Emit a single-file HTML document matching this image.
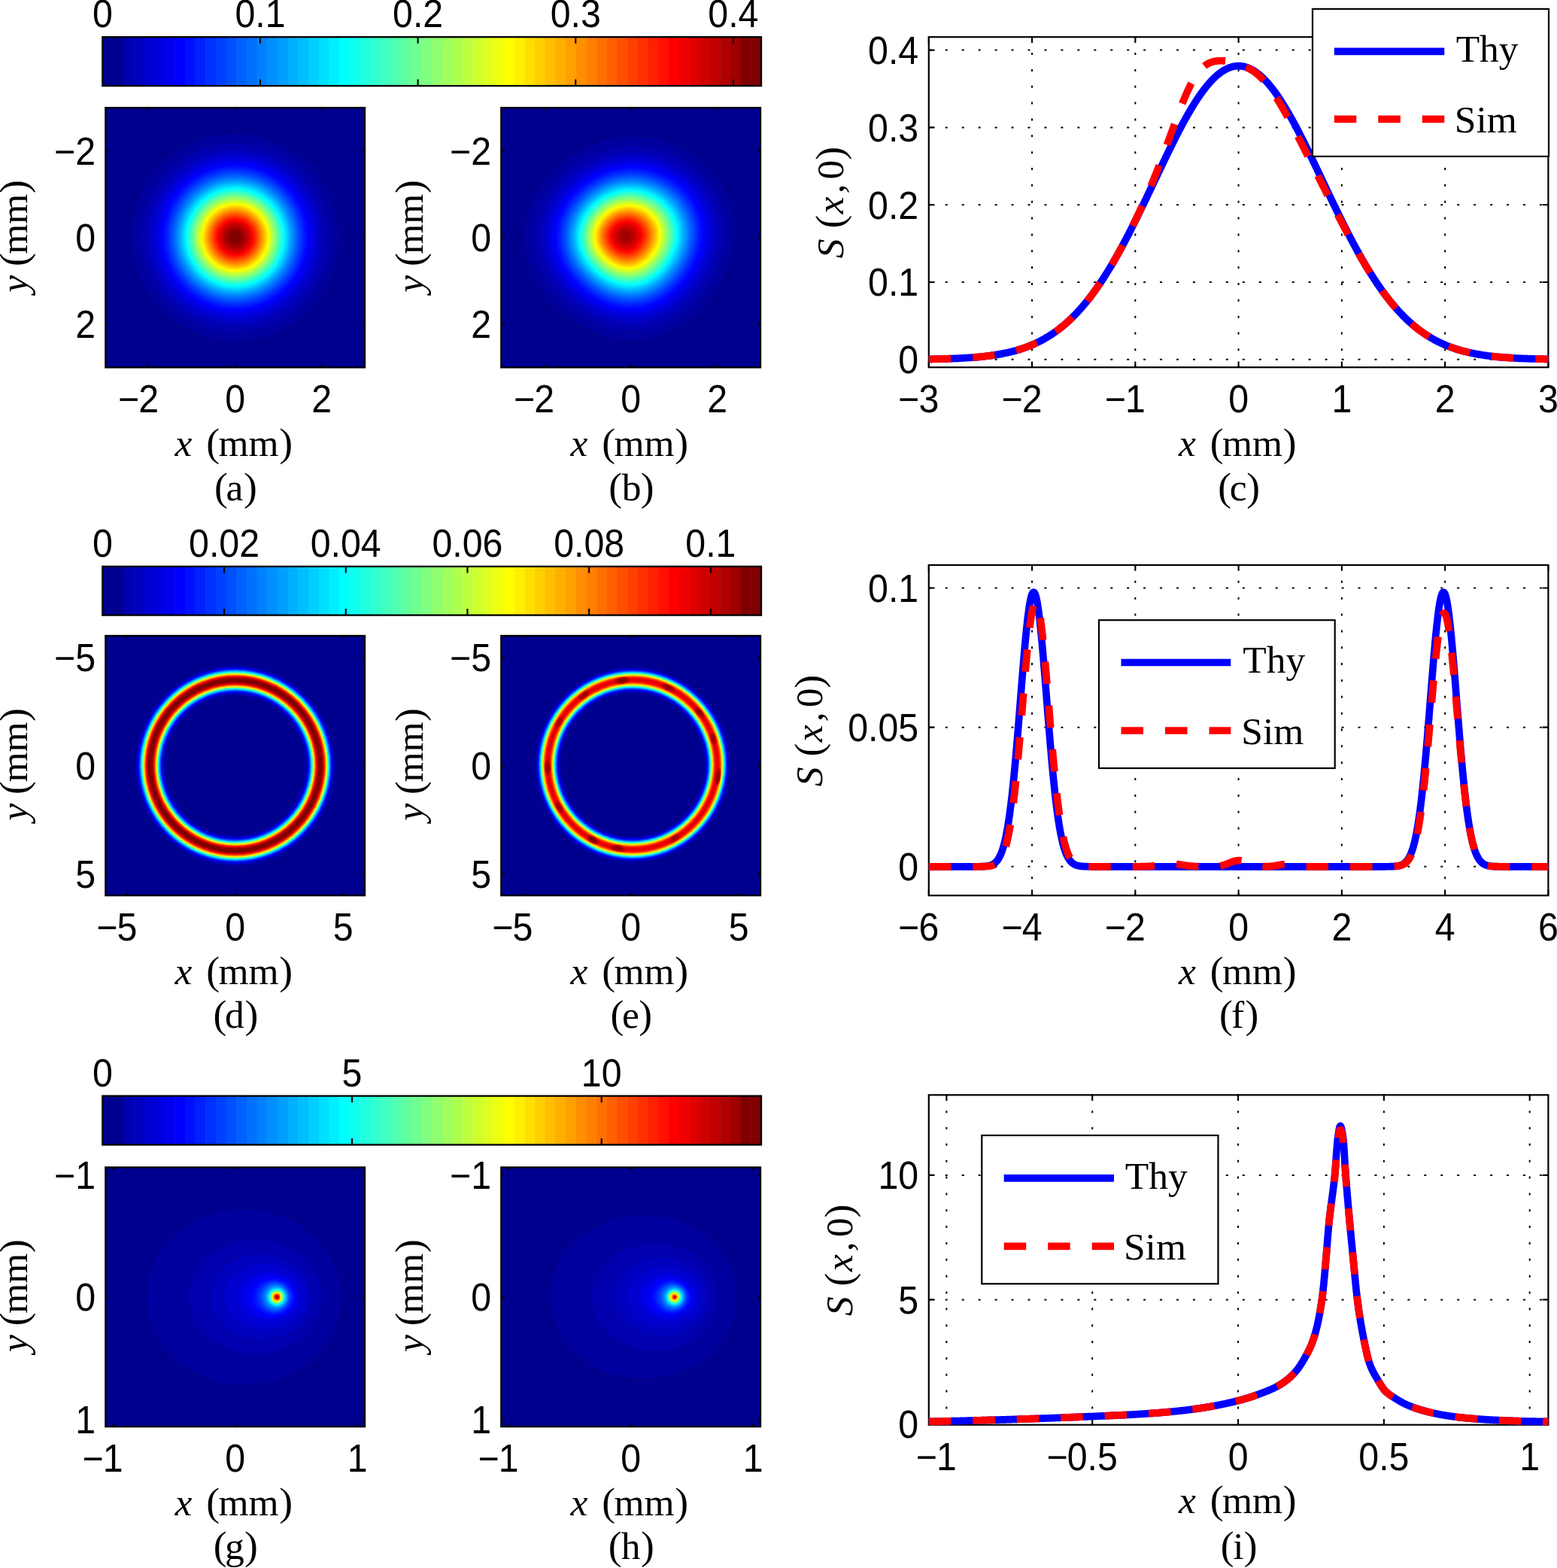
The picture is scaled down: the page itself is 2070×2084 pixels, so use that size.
<!DOCTYPE html><html><head><meta charset="utf-8"><title>Figure</title><style>html,body{margin:0;padding:0;background:#fff;overflow:hidden;width:2070px;height:2084px;}svg{display:block;}</style></head><body><svg width="2070" height="2084" viewBox="0 0 2070 2084"><rect width="2070" height="2084" fill="#fff"/><g><rect x="136.3" y="49.2" width="14.28" height="64.9" fill="#00008f"/><rect x="149.98" y="49.2" width="14.28" height="64.9" fill="#00008f"/><rect x="163.67" y="49.2" width="14.28" height="64.9" fill="#0000af"/><rect x="177.35" y="49.2" width="14.28" height="64.9" fill="#0000bf"/><rect x="191.03" y="49.2" width="14.28" height="64.9" fill="#0000cf"/><rect x="204.71" y="49.2" width="14.28" height="64.9" fill="#0000df"/><rect x="218.4" y="49.2" width="14.28" height="64.9" fill="#0000ef"/><rect x="232.08" y="49.2" width="14.28" height="64.9" fill="#0000ff"/><rect x="245.76" y="49.2" width="14.28" height="64.9" fill="#0010ff"/><rect x="259.45" y="49.2" width="14.28" height="64.9" fill="#0020ff"/><rect x="273.13" y="49.2" width="14.28" height="64.9" fill="#0030ff"/><rect x="286.81" y="49.2" width="14.28" height="64.9" fill="#0040ff"/><rect x="300.49" y="49.2" width="14.28" height="64.9" fill="#0050ff"/><rect x="314.18" y="49.2" width="14.28" height="64.9" fill="#0060ff"/><rect x="327.86" y="49.2" width="14.28" height="64.9" fill="#0070ff"/><rect x="341.54" y="49.2" width="14.28" height="64.9" fill="#0080ff"/><rect x="355.23" y="49.2" width="14.28" height="64.9" fill="#008fff"/><rect x="368.91" y="49.2" width="14.28" height="64.9" fill="#009fff"/><rect x="382.59" y="49.2" width="14.28" height="64.9" fill="#00afff"/><rect x="396.27" y="49.2" width="14.28" height="64.9" fill="#00bfff"/><rect x="409.96" y="49.2" width="14.28" height="64.9" fill="#00cfff"/><rect x="423.64" y="49.2" width="14.28" height="64.9" fill="#00dfff"/><rect x="437.32" y="49.2" width="14.28" height="64.9" fill="#00efff"/><rect x="451" y="49.2" width="14.28" height="64.9" fill="#00ffff"/><rect x="464.69" y="49.2" width="14.28" height="64.9" fill="#10ffef"/><rect x="478.37" y="49.2" width="14.28" height="64.9" fill="#20ffdf"/><rect x="492.05" y="49.2" width="14.28" height="64.9" fill="#30ffcf"/><rect x="505.74" y="49.2" width="14.28" height="64.9" fill="#40ffbf"/><rect x="519.42" y="49.2" width="14.28" height="64.9" fill="#50ffaf"/><rect x="533.1" y="49.2" width="14.28" height="64.9" fill="#60ff9f"/><rect x="546.78" y="49.2" width="14.28" height="64.9" fill="#70ff8f"/><rect x="560.47" y="49.2" width="14.28" height="64.9" fill="#80ff80"/><rect x="574.15" y="49.2" width="14.28" height="64.9" fill="#8fff70"/><rect x="587.83" y="49.2" width="14.28" height="64.9" fill="#9fff60"/><rect x="601.52" y="49.2" width="14.28" height="64.9" fill="#afff50"/><rect x="615.2" y="49.2" width="14.28" height="64.9" fill="#bfff40"/><rect x="628.88" y="49.2" width="14.28" height="64.9" fill="#cfff30"/><rect x="642.56" y="49.2" width="14.28" height="64.9" fill="#dfff20"/><rect x="656.25" y="49.2" width="14.28" height="64.9" fill="#efff10"/><rect x="669.93" y="49.2" width="14.28" height="64.9" fill="#ffff00"/><rect x="683.61" y="49.2" width="14.28" height="64.9" fill="#ffef00"/><rect x="697.3" y="49.2" width="14.28" height="64.9" fill="#ffdf00"/><rect x="710.98" y="49.2" width="14.28" height="64.9" fill="#ffcf00"/><rect x="724.66" y="49.2" width="14.28" height="64.9" fill="#ffbf00"/><rect x="738.34" y="49.2" width="14.28" height="64.9" fill="#ffaf00"/><rect x="752.03" y="49.2" width="14.28" height="64.9" fill="#ff9f00"/><rect x="765.71" y="49.2" width="14.28" height="64.9" fill="#ff8f00"/><rect x="779.39" y="49.2" width="14.28" height="64.9" fill="#ff8000"/><rect x="793.08" y="49.2" width="14.28" height="64.9" fill="#ff7000"/><rect x="806.76" y="49.2" width="14.28" height="64.9" fill="#ff6000"/><rect x="820.44" y="49.2" width="14.28" height="64.9" fill="#ff5000"/><rect x="834.12" y="49.2" width="14.28" height="64.9" fill="#ff4000"/><rect x="847.81" y="49.2" width="14.28" height="64.9" fill="#ff3000"/><rect x="861.49" y="49.2" width="14.28" height="64.9" fill="#ff2000"/><rect x="875.17" y="49.2" width="14.28" height="64.9" fill="#ff1000"/><rect x="888.85" y="49.2" width="14.28" height="64.9" fill="#ff0000"/><rect x="902.54" y="49.2" width="14.28" height="64.9" fill="#ef0000"/><rect x="916.22" y="49.2" width="14.28" height="64.9" fill="#df0000"/><rect x="929.9" y="49.2" width="14.28" height="64.9" fill="#cf0000"/><rect x="943.59" y="49.2" width="14.28" height="64.9" fill="#bf0000"/><rect x="957.27" y="49.2" width="14.28" height="64.9" fill="#af0000"/><rect x="970.95" y="49.2" width="14.28" height="64.9" fill="#9f0000"/><rect x="984.63" y="49.2" width="14.28" height="64.9" fill="#800000"/><rect x="998.32" y="49.2" width="13.68" height="64.9" fill="#800000"/><path d="M345.95 49.2v8.6M345.95 114.1v-8.6" stroke="#000" stroke-width="2.1"/><path d="M555.6 49.2v8.6M555.6 114.1v-8.6" stroke="#000" stroke-width="2.1"/><path d="M765.24 49.2v8.6M765.24 114.1v-8.6" stroke="#000" stroke-width="2.1"/><path d="M974.89 49.2v8.6M974.89 114.1v-8.6" stroke="#000" stroke-width="2.1"/><rect x="136.3" y="49.2" width="875.7" height="64.9" fill="none" stroke="#000" stroke-width="2.3"/><g font-family="'Liberation Sans', Arial, Helvetica, sans-serif" font-size="48.3"><text transform="translate(136.3 35.5) scale(1 1.055)" text-anchor="middle">0</text><text transform="translate(345.95 35.5) scale(1 1.055)" text-anchor="middle">0.1</text><text transform="translate(555.6 35.5) scale(1 1.055)" text-anchor="middle">0.2</text><text transform="translate(765.24 35.5) scale(1 1.055)" text-anchor="middle">0.3</text><text transform="translate(974.89 35.5) scale(1 1.055)" text-anchor="middle">0.4</text></g></g><clipPath id="c1"><rect x="140.3" y="143.15" width="344.7" height="345.2"/></clipPath><g clip-path="url(#c1)"><rect x="140.3" y="143.15" width="344.7" height="345.2" fill="#00008f"/><circle cx="312.65" cy="315.5" r="137.34" fill="#00009f"/><circle cx="312.65" cy="315.5" r="124.78" fill="#0000af"/><circle cx="312.65" cy="315.5" r="116.87" fill="#0000bf"/><circle cx="312.65" cy="315.5" r="110.96" fill="#0000cf"/><circle cx="312.65" cy="315.5" r="106.16" fill="#0000df"/><circle cx="312.65" cy="315.5" r="102.09" fill="#0000ef"/><circle cx="312.65" cy="315.5" r="98.54" fill="#0000ff"/><circle cx="312.65" cy="315.5" r="95.37" fill="#0010ff"/><circle cx="312.65" cy="315.5" r="92.49" fill="#0020ff"/><circle cx="312.65" cy="315.5" r="89.84" fill="#0030ff"/><circle cx="312.65" cy="315.5" r="87.38" fill="#0040ff"/><circle cx="312.65" cy="315.5" r="85.08" fill="#0050ff"/><circle cx="312.65" cy="315.5" r="82.91" fill="#0060ff"/><circle cx="312.65" cy="315.5" r="80.85" fill="#0070ff"/><circle cx="312.65" cy="315.5" r="78.9" fill="#0080ff"/><circle cx="312.65" cy="315.5" r="77.04" fill="#008fff"/><circle cx="312.65" cy="315.5" r="75.24" fill="#009fff"/><circle cx="312.65" cy="315.5" r="73.52" fill="#00afff"/><circle cx="312.65" cy="315.5" r="71.86" fill="#00bfff"/><circle cx="312.65" cy="315.5" r="70.24" fill="#00cfff"/><circle cx="312.65" cy="315.5" r="68.68" fill="#00dfff"/><circle cx="312.65" cy="315.5" r="67.15" fill="#00efff"/><circle cx="312.65" cy="315.5" r="65.67" fill="#00ffff"/><circle cx="312.65" cy="315.5" r="64.22" fill="#10ffef"/><circle cx="312.65" cy="315.5" r="62.8" fill="#20ffdf"/><circle cx="312.65" cy="315.5" r="61.4" fill="#30ffcf"/><circle cx="312.65" cy="315.5" r="60.03" fill="#40ffbf"/><circle cx="312.65" cy="315.5" r="58.69" fill="#50ffaf"/><circle cx="312.65" cy="315.5" r="57.37" fill="#60ff9f"/><circle cx="312.65" cy="315.5" r="56.06" fill="#70ff8f"/><circle cx="312.65" cy="315.5" r="54.77" fill="#80ff80"/><circle cx="312.65" cy="315.5" r="53.49" fill="#8fff70"/><circle cx="312.65" cy="315.5" r="52.23" fill="#9fff60"/><circle cx="312.65" cy="315.5" r="50.98" fill="#afff50"/><circle cx="312.65" cy="315.5" r="49.74" fill="#bfff40"/><circle cx="312.65" cy="315.5" r="48.5" fill="#cfff30"/><circle cx="312.65" cy="315.5" r="47.27" fill="#dfff20"/><circle cx="312.65" cy="315.5" r="46.04" fill="#efff10"/><circle cx="312.65" cy="315.5" r="44.83" fill="#ffff00"/><circle cx="312.65" cy="315.5" r="43.6" fill="#ffef00"/><circle cx="312.65" cy="315.5" r="42.39" fill="#ffdf00"/><circle cx="312.65" cy="315.5" r="41.16" fill="#ffcf00"/><circle cx="312.65" cy="315.5" r="39.93" fill="#ffbf00"/><circle cx="312.65" cy="315.5" r="38.7" fill="#ffaf00"/><circle cx="312.65" cy="315.5" r="37.46" fill="#ff9f00"/><circle cx="312.65" cy="315.5" r="36.21" fill="#ff8f00"/><circle cx="312.65" cy="315.5" r="34.95" fill="#ff8000"/><circle cx="312.65" cy="315.5" r="33.67" fill="#ff7000"/><circle cx="312.65" cy="315.5" r="32.38" fill="#ff6000"/><circle cx="312.65" cy="315.5" r="31.07" fill="#ff5000"/><circle cx="312.65" cy="315.5" r="29.73" fill="#ff4000"/><circle cx="312.65" cy="315.5" r="28.36" fill="#ff3000"/><circle cx="312.65" cy="315.5" r="26.96" fill="#ff2000"/><circle cx="312.65" cy="315.5" r="25.53" fill="#ff1000"/><circle cx="312.65" cy="315.5" r="24.03" fill="#ff0000"/><circle cx="312.65" cy="315.5" r="22.49" fill="#ef0000"/><circle cx="312.65" cy="315.5" r="20.86" fill="#df0000"/><circle cx="312.65" cy="315.5" r="19.16" fill="#cf0000"/><circle cx="312.65" cy="315.5" r="17.32" fill="#bf0000"/><circle cx="312.65" cy="315.5" r="15.34" fill="#af0000"/><circle cx="312.65" cy="315.5" r="13.13" fill="#9f0000"/><circle cx="312.65" cy="315.5" r="10.56" fill="#8f0000"/><circle cx="312.65" cy="315.5" r="7.3" fill="#800000"/></g><path d="M197.75 143.15v3.3M197.75 488.35v-3.3M140.3 200.68h3.3M485 200.68h-3.3M312.65 143.15v3.3M312.65 488.35v-3.3M140.3 315.75h3.3M485 315.75h-3.3M427.55 143.15v3.3M427.55 488.35v-3.3M140.3 430.82h3.3M485 430.82h-3.3" stroke="#000" stroke-width="2.1"/><rect x="140.3" y="143.15" width="344.7" height="345.2" fill="none" stroke="#000" stroke-width="2.3"/><g font-family="'Liberation Sans', Arial, Helvetica, sans-serif" font-size="48.3"><text transform="translate(197.75 548.25) scale(1 1.055)" text-anchor="middle">2</text><text transform="translate(185.52 548.25) scale(1 1.055)" text-anchor="end">&#8722;</text><text transform="translate(127.2 218.98) scale(1 1.055)" text-anchor="end">&#8722;2</text><text transform="translate(312.65 548.25) scale(1 1.055)" text-anchor="middle">0</text><text transform="translate(127.2 334.05) scale(1 1.055)" text-anchor="end">0</text><text transform="translate(427.55 548.25) scale(1 1.055)" text-anchor="middle">2</text><text transform="translate(127.2 449.12) scale(1 1.055)" text-anchor="end">2</text></g><g font-family="'Liberation Serif', 'Times New Roman', serif" class="cm"><text x="232.58" y="605.95" font-size="51.5" font-style="italic">x</text><text x="274.2" y="605.95" font-size="53.5">(</text><text x="290.57" y="605.95" font-size="51.5">mm</text><text x="371.23" y="605.95" font-size="53.5">)</text></g><g font-family="'Liberation Serif', 'Times New Roman', serif" class="cm" transform="translate(36.3 393.15) rotate(-90)"><text x="4.3" y="0" font-size="51.5" font-style="italic">y</text><text x="39.05" y="0" font-size="53.5">(</text><text x="55.42" y="0" font-size="51.5">mm</text><text x="136.08" y="0" font-size="53.5">)</text></g><clipPath id="c2"><rect x="666.3" y="143.15" width="344.7" height="345.2"/></clipPath><g clip-path="url(#c2)"><rect x="666.3" y="143.15" width="344.7" height="345.2" fill="#00008f"/><path d="M976.07 315.47L973.4 333.23L968.39 350.27L961.45 366.38L952.92 381.51L943.03 395.65L931.85 408.78L919.36 420.79L905.48 431.41L890.23 440.26L873.76 446.9L856.38 450.96L838.54 452.23L820.74 450.72L803.4 446.62L786.84 440.29L771.22 432.07L756.6 422.26L743.01 411L730.55 398.34L719.45 384.23L710.08 368.68L702.9 351.82L698.37 333.93L696.79 315.47L698.3 297.01L702.79 279.1L709.95 262.21L719.36 246.66L730.59 232.64L743.27 220.2L757.12 209.36L771.96 200.16L787.68 192.67L804.13 187.04L821.16 183.42L838.54 181.94L856.03 182.65L873.35 185.57L890.25 190.64L906.49 197.79L921.81 206.95L935.94 218.07L948.54 231.07L959.21 245.81L967.55 262.03L973.25 279.38L976.09 297.36Z" fill="#00009f"/><path d="M963.26 315.45L960.83 331.56L956.29 347.02L949.99 361.65L942.25 375.38L933.27 388.21L923.12 400.14L911.78 411.03L899.19 420.67L885.35 428.7L870.4 434.73L854.62 438.41L838.43 439.57L822.27 438.19L806.54 434.48L791.51 428.73L777.34 421.27L764.07 412.37L751.73 402.15L740.42 390.66L730.34 377.85L721.84 363.74L715.33 348.43L711.21 332.2L709.78 315.45L711.15 298.69L715.22 282.43L721.72 267.1L730.26 252.99L740.46 240.27L751.96 228.97L764.53 219.14L778.01 210.78L792.27 203.99L807.2 198.88L822.66 195.59L838.43 194.25L854.31 194.9L870.03 197.55L885.36 202.15L900.1 208.64L914.01 216.95L926.84 227.04L938.27 238.84L947.95 252.22L955.53 266.94L960.69 282.69L963.27 299.01Z" fill="#0000af"/><path d="M955.15 315.42L952.87 330.5L948.62 344.97L942.72 358.66L935.48 371.51L927.08 383.52L917.58 394.68L906.97 404.88L895.18 413.9L882.23 421.41L868.24 427.05L853.48 430.5L838.33 431.58L823.2 430.3L808.48 426.82L794.41 421.44L781.15 414.46L768.73 406.12L757.18 396.56L746.6 385.81L737.17 373.82L729.21 360.62L723.11 346.29L719.26 331.09L717.92 315.42L719.21 299.74L723.02 284.52L729.1 270.18L737.09 256.97L746.63 245.06L757.4 234.49L769.17 225.29L781.77 217.47L795.12 211.11L809.1 206.33L823.56 203.25L838.33 201.99L853.18 202.6L867.89 205.08L882.25 209.39L896.04 215.46L909.06 223.24L921.06 232.69L931.76 243.73L940.82 256.24L947.91 270.03L952.75 284.76L955.16 300.04Z" fill="#0000bf"/><path d="M949.05 315.39L946.89 329.7L942.85 343.43L937.26 356.42L930.39 368.61L922.42 380L913.41 390.58L903.34 400.26L892.16 408.82L879.87 415.95L866.6 421.3L852.59 424.57L838.22 425.59L823.87 424.37L809.9 421.08L796.56 415.97L783.97 409.35L772.19 401.44L761.24 392.37L751.19 382.17L742.25 370.8L734.7 358.27L728.92 344.68L725.26 330.26L723.99 315.39L725.21 300.51L728.83 286.08L734.59 272.47L742.18 259.94L751.23 248.64L761.45 238.62L772.61 229.88L784.57 222.47L797.23 216.43L810.49 211.9L824.21 208.98L838.22 207.78L852.31 208.36L866.27 210.72L879.89 214.8L892.97 220.56L905.32 227.95L916.71 236.9L926.86 247.38L935.45 259.25L942.18 272.33L946.77 286.31L949.06 300.8Z" fill="#0000cf"/><path d="M944.08 315.37L942.02 329.04L938.16 342.17L932.81 354.59L926.24 366.25L918.62 377.14L910.01 387.26L900.38 396.51L889.69 404.7L877.94 411.51L865.24 416.63L851.85 419.76L838.11 420.74L824.39 419.57L811.03 416.42L798.28 411.54L786.24 405.21L774.98 397.64L764.5 388.97L754.9 379.22L746.35 368.35L739.13 356.37L733.6 343.37L730.1 329.58L728.89 315.37L730.06 301.14L733.51 287.34L739.03 274.32L746.28 262.35L754.94 251.54L764.7 241.96L775.37 233.6L786.81 226.51L798.92 220.74L811.6 216.41L824.72 213.62L838.11 212.47L851.58 213.03L864.93 215.28L877.95 219.18L890.46 224.69L902.27 231.75L913.16 240.32L922.86 250.33L931.09 261.69L937.52 274.19L941.9 287.55L944.09 301.41Z" fill="#0000df"/><path d="M939.86 315.34L937.88 328.49L934.17 341.11L929.03 353.04L922.71 364.24L915.39 374.72L907.11 384.44L897.85 393.34L887.58 401.2L876.28 407.75L864.08 412.67L851.21 415.68L838 416.62L824.82 415.5L811.98 412.47L799.71 407.78L788.15 401.69L777.32 394.42L767.25 386.09L758.02 376.71L749.8 366.26L742.86 354.75L737.55 342.26L734.19 329.01L733.02 315.34L734.14 301.66L737.47 288.4L742.77 275.89L749.74 264.38L758.06 253.99L767.44 244.78L777.7 236.75L788.7 229.93L800.33 224.39L812.52 220.22L825.13 217.54L838 216.44L850.95 216.97L863.78 219.14L876.3 222.89L888.32 228.18L899.67 234.97L910.14 243.2L919.47 252.83L927.37 263.74L933.55 275.76L937.77 288.61L939.87 301.93Z" fill="#0000ef"/><path d="M936.15 315.31L934.23 327.99L930.66 340.17L925.7 351.68L919.61 362.49L912.54 372.59L904.56 381.97L895.63 390.55L885.72 398.14L874.82 404.46L863.05 409.2L850.64 412.1L837.9 413.01L825.18 411.93L812.79 409.01L800.96 404.48L789.8 398.61L779.36 391.6L769.65 383.56L760.75 374.51L752.81 364.43L746.12 353.33L741 341.28L737.75 328.5L736.63 315.31L737.71 302.12L740.92 289.33L746.03 277.26L752.75 266.15L760.78 256.14L769.83 247.25L779.73 239.51L790.33 232.93L801.56 227.58L813.31 223.56L825.48 220.97L837.9 219.91L850.39 220.43L862.76 222.51L874.83 226.13L886.43 231.24L897.38 237.79L907.48 245.73L916.48 255.01L924.1 265.54L930.06 277.14L934.13 289.53L936.16 302.38Z" fill="#0000ff"/><path d="M932.81 315.28L930.96 327.55L927.51 339.32L922.71 350.46L916.82 360.91L909.98 370.68L902.26 379.76L893.63 388.05L884.04 395.39L873.5 401.5L862.12 406.09L850.11 408.9L837.79 409.77L825.49 408.73L813.51 405.9L802.07 401.53L791.28 395.85L781.17 389.07L771.78 381.29L763.17 372.54L755.5 362.79L749.03 352.05L744.07 340.4L740.93 328.04L739.85 315.28L740.89 302.53L743.99 290.15L748.94 278.48L755.44 267.74L763.2 258.05L771.96 249.46L781.53 241.97L791.79 235.61L802.64 230.43L814.01 226.55L825.78 224.04L837.79 223.02L849.87 223.51L861.84 225.53L873.51 229.03L884.73 233.97L895.32 240.3L905.09 247.99L913.79 256.97L921.16 267.15L926.93 278.36L930.86 290.35L932.82 302.77Z" fill="#0010ff"/><path d="M929.78 315.26L927.99 327.15L924.64 338.56L919.99 349.35L914.28 359.48L907.65 368.95L900.17 377.74L891.8 385.79L882.51 392.9L872.29 398.82L861.26 403.27L849.63 405.99L837.68 406.84L825.76 405.83L814.15 403.09L803.06 398.84L792.6 393.34L782.81 386.77L773.71 379.23L765.36 370.75L757.92 361.3L751.65 350.89L746.85 339.6L743.81 327.62L742.75 315.26L743.77 302.89L746.77 290.9L751.56 279.59L757.87 269.18L765.39 259.79L773.88 251.46L783.15 244.2L793.09 238.03L803.62 233.02L814.63 229.25L826.04 226.83L837.68 225.83L849.39 226.31L860.99 228.27L872.31 231.66L883.18 236.45L893.44 242.59L902.91 250.03L911.34 258.74L918.49 268.6L924.08 279.47L927.89 291.09L929.79 303.13Z" fill="#0020ff"/><path d="M926.98 315.23L925.24 326.77L921.99 337.85L917.48 348.33L911.93 358.16L905.5 367.35L898.23 375.89L890.11 383.7L881.09 390.6L871.18 396.35L860.47 400.67L849.17 403.31L837.57 404.14L826 403.15L814.73 400.49L803.96 396.38L793.81 391.03L784.3 384.65L775.47 377.34L767.36 369.1L760.15 359.93L754.06 349.82L749.39 338.86L746.44 327.23L745.42 315.23L746.4 303.23L749.32 291.58L753.97 280.6L760.09 270.5L767.39 261.38L775.63 253.29L784.64 246.25L794.29 240.26L804.5 235.39L815.2 231.74L826.27 229.38L837.57 228.42L848.94 228.88L860.2 230.78L871.19 234.08L881.74 238.72L891.71 244.68L900.89 251.91L909.08 260.36L916.02 269.94L921.45 280.49L925.15 291.77L926.99 303.46Z" fill="#0030ff"/><path d="M924.37 315.2L922.68 326.42L919.51 337.19L915.13 347.37L909.74 356.93L903.49 365.87L896.43 374.16L888.53 381.75L879.76 388.46L870.13 394.05L859.72 398.25L848.74 400.81L837.47 401.62L826.21 400.66L815.26 398.08L804.8 394.07L794.93 388.88L785.69 382.68L777.1 375.57L769.23 367.57L762.21 358.65L756.29 348.83L751.76 338.17L748.89 326.86L747.9 315.2L748.85 303.54L751.69 292.22L756.21 281.55L762.16 271.72L769.25 262.86L777.26 255L786.02 248.15L795.4 242.34L805.32 237.61L815.72 234.05L826.48 231.76L837.47 230.82L848.51 231.28L859.46 233.12L870.14 236.33L880.4 240.84L890.08 246.63L899.01 253.66L906.97 261.87L913.71 271.18L918.99 281.44L922.58 292.4L924.38 303.76Z" fill="#0040ff"/><path d="M921.92 315.18L920.28 326.09L917.2 336.57L912.93 346.48L907.69 355.78L901.6 364.48L894.73 372.55L887.05 379.94L878.52 386.47L869.14 391.91L859.01 395.99L848.32 398.48L837.36 399.27L826.41 398.34L815.75 395.82L805.57 391.92L795.96 386.87L786.97 380.84L778.62 373.92L770.95 366.13L764.13 357.46L758.37 347.9L753.95 337.52L751.16 326.52L750.2 315.18L751.13 303.82L753.88 292.81L758.29 282.42L764.07 272.87L770.98 264.24L778.78 256.59L787.29 249.93L796.42 244.27L806.08 239.67L816.2 236.21L826.67 233.98L837.36 233.07L848.11 233.51L858.76 235.3L869.15 238.42L879.13 242.82L888.56 248.45L897.25 255.29L904.99 263.28L911.55 272.34L916.69 282.32L920.19 292.98L921.93 304.04Z" fill="#0050ff"/><path d="M919.62 315.15L918.02 325.78L915.02 335.99L910.86 345.64L905.75 354.7L899.83 363.17L893.14 371.04L885.65 378.23L877.34 384.59L868.21 389.89L858.34 393.86L847.93 396.3L837.25 397.06L826.59 396.15L816.2 393.7L806.28 389.91L796.93 384.98L788.17 379.11L780.03 372.37L772.57 364.78L765.92 356.33L760.31 347.02L756.01 336.92L753.29 326.2L752.35 315.15L753.26 304.09L755.94 293.36L760.23 283.25L765.87 273.94L772.59 265.54L780.19 258.09L788.48 251.6L797.37 246.08L806.78 241.6L816.64 238.23L826.84 236.06L837.25 235.17L847.72 235.6L858.1 237.35L868.22 240.38L877.94 244.67L887.12 250.15L895.59 256.81L903.13 264.6L909.52 273.42L914.52 283.14L917.93 293.53L919.63 304.3Z" fill="#0060ff"/><path d="M917.43 315.12L915.86 325.49L912.94 335.43L908.89 344.84L903.91 353.67L898.14 361.92L891.61 369.59L884.32 376.6L876.22 382.8L867.31 387.97L857.7 391.84L847.55 394.21L837.14 394.95L826.75 394.07L816.63 391.68L806.96 387.98L797.85 383.19L789.31 377.46L781.38 370.89L774.1 363.5L767.62 355.26L762.15 346.19L757.96 336.34L755.31 325.9L754.4 315.12L755.28 304.35L757.9 293.89L762.08 284.03L767.57 274.96L774.13 266.77L781.53 259.51L789.61 253.18L798.28 247.81L807.45 243.44L817.05 240.15L826.99 238.04L837.14 237.17L847.35 237.59L857.46 239.29L867.33 242.25L876.8 246.43L885.75 251.78L894 258.27L901.35 265.85L907.58 274.46L912.45 283.93L915.77 294.05L917.43 304.55Z" fill="#0070ff"/><path d="M915.32 315.1L913.79 325.2L910.95 334.9L906.99 344.07L902.14 352.68L896.51 360.73L890.15 368.21L883.03 375.05L875.14 381.09L866.46 386.13L857.08 389.9L847.19 392.22L837.03 392.94L826.9 392.08L817.03 389.75L807.61 386.14L798.72 381.47L790.39 375.88L782.66 369.47L775.56 362.27L769.24 354.24L763.91 345.39L759.83 335.78L757.24 325.6L756.35 315.1L757.21 304.59L759.76 294.39L763.84 284.78L769.19 275.93L775.59 267.95L782.8 260.86L790.69 254.69L799.14 249.46L808.08 245.19L817.45 241.99L827.14 239.93L837.03 239.08L846.99 239.49L856.85 241.16L866.47 244.04L875.71 248.11L884.43 253.33L892.48 259.65L899.65 267.05L905.72 275.44L910.47 284.68L913.71 294.55L915.33 304.79Z" fill="#0080ff"/><path d="M913.31 315.07L911.82 324.93L909.04 334.39L905.18 343.34L900.45 351.74L894.95 359.59L888.75 366.89L881.81 373.56L874.1 379.46L865.63 384.37L856.48 388.06L846.83 390.31L836.93 391.02L827.04 390.18L817.41 387.9L808.21 384.39L799.54 379.82L791.42 374.37L783.87 368.12L776.95 361.09L770.79 353.26L765.58 344.62L761.6 335.25L759.08 325.32L758.21 315.07L759.04 304.82L761.54 294.87L765.51 285.49L770.74 276.86L776.98 269.07L784.02 262.16L791.71 256.14L799.95 251.03L808.68 246.87L817.81 243.74L827.27 241.73L836.93 240.91L846.64 241.31L856.26 242.93L865.64 245.74L874.66 249.71L883.17 254.8L891.02 260.98L898.01 268.2L903.94 276.38L908.57 285.39L911.74 295.02L913.31 305.01Z" fill="#008fff"/><path d="M911.37 315.04L909.92 324.67L907.2 333.9L903.44 342.64L898.82 350.84L893.46 358.5L887.4 365.62L880.62 372.13L873.1 377.89L864.84 382.68L855.91 386.28L846.49 388.48L836.82 389.17L827.17 388.35L817.77 386.13L808.79 382.7L800.33 378.25L792.4 372.93L785.04 366.83L778.28 359.96L772.26 352.31L767.18 343.89L763.29 334.74L760.83 325.05L759.98 315.04L760.8 305.03L763.23 295.32L767.11 286.17L772.22 277.74L778.3 270.14L785.17 263.4L792.68 257.52L800.73 252.53L809.25 248.48L818.16 245.42L827.4 243.46L836.82 242.66L846.3 243.05L855.69 244.63L864.85 247.38L873.65 251.25L881.96 256.22L889.62 262.25L896.44 269.29L902.23 277.28L906.75 286.08L909.84 295.48L911.38 305.23Z" fill="#009fff"/><path d="M909.51 315.02L908.09 324.41L905.44 333.43L901.77 341.96L897.26 349.97L892.02 357.46L886.1 364.41L879.49 370.76L872.14 376.39L864.07 381.07L855.35 384.58L846.15 386.73L836.71 387.41L827.29 386.6L818.11 384.44L809.34 381.09L801.08 376.74L793.34 371.54L786.14 365.58L779.55 358.88L773.67 351.41L768.71 343.18L764.91 334.25L762.51 324.78L761.68 315.02L762.48 305.24L764.85 295.76L768.64 286.82L773.62 278.59L779.57 271.17L786.28 264.58L793.61 258.85L801.47 253.97L809.79 250.01L818.49 247.03L827.51 245.11L836.71 244.33L845.97 244.71L855.14 246.25L864.08 248.94L872.68 252.72L880.79 257.57L888.27 263.46L894.94 270.34L900.58 278.14L905 286.73L908.02 295.91L909.52 305.43Z" fill="#00afff"/><path d="M907.69 314.99L906.31 324.17L903.72 332.97L900.13 341.3L895.73 349.12L890.61 356.43L884.84 363.22L878.38 369.43L871.2 374.92L863.32 379.49L854.81 382.92L845.82 385.02L836.6 385.68L827.4 384.9L818.44 382.78L809.88 379.51L801.81 375.26L794.25 370.19L787.22 364.37L780.78 357.82L775.04 350.53L770.2 342.49L766.49 333.77L764.15 324.53L763.33 314.99L764.11 305.44L766.43 296.19L770.13 287.46L775 279.42L780.8 272.17L787.36 265.74L794.52 260.14L802.19 255.38L810.31 251.51L818.82 248.6L827.62 246.73L836.6 245.96L845.64 246.33L854.59 247.84L863.33 250.46L871.72 254.16L879.65 258.9L886.95 264.64L893.46 271.36L898.98 278.98L903.29 287.37L906.23 296.33L907.7 305.63Z" fill="#00bfff"/><path d="M905.94 314.96L904.59 323.93L902.06 332.53L898.56 340.67L894.25 348.31L889.25 355.44L883.61 362.08L877.3 368.14L870.29 373.5L862.59 377.97L854.28 381.32L845.5 383.37L836.5 384.01L827.51 383.25L818.75 381.18L810.39 377.99L802.5 373.84L795.12 368.88L788.26 363.2L781.97 356.8L776.36 349.68L771.63 341.83L768.01 333.31L765.72 324.28L764.92 314.96L765.68 305.64L767.95 296.59L771.56 288.07L776.32 280.22L781.99 273.14L788.39 266.85L795.38 261.38L802.88 256.73L810.81 252.95L819.12 250.11L827.72 248.28L836.5 247.53L845.32 247.9L854.07 249.37L862.6 251.93L870.8 255.54L878.54 260.17L885.68 265.78L892.04 272.34L897.42 279.78L901.64 287.98L904.51 296.74L905.95 305.82Z" fill="#00cfff"/><path d="M904.23 314.93L902.91 323.69L900.44 332.1L897.01 340.05L892.81 347.51L887.93 354.48L882.41 360.96L876.25 366.88L869.41 372.12L861.88 376.49L853.76 379.76L845.19 381.76L836.39 382.39L827.61 381.64L819.05 379.63L810.89 376.5L803.18 372.45L795.97 367.61L789.27 362.06L783.12 355.81L777.64 348.85L773.02 341.18L769.48 332.86L767.24 324.04L766.47 314.93L767.21 305.83L769.43 296.99L772.96 288.66L777.6 280.99L783.14 274.08L789.39 267.94L796.23 262.59L803.55 258.05L811.3 254.36L819.41 251.58L827.81 249.8L836.39 249.07L845.01 249.42L853.56 250.86L861.89 253.36L869.9 256.89L877.46 261.41L884.43 266.89L890.64 273.3L895.91 280.57L900.02 288.58L902.83 297.13L904.23 306Z" fill="#00dfff"/><path d="M902.56 314.91L901.27 323.46L898.86 331.68L895.52 339.44L891.41 346.73L886.64 353.55L881.25 359.88L875.23 365.67L868.54 370.79L861.19 375.05L853.25 378.25L844.88 380.2L836.28 380.82L827.7 380.09L819.34 378.12L811.36 375.06L803.84 371.1L796.79 366.37L790.24 360.95L784.23 354.85L778.88 348.05L774.37 340.55L770.91 332.42L768.72 323.8L767.96 314.91L768.69 306.01L770.85 297.38L774.3 289.24L778.84 281.74L784.25 274.99L790.36 268.99L797.04 263.77L804.19 259.33L811.76 255.72L819.69 253.01L827.9 251.26L836.28 250.55L844.71 250.89L853.06 252.3L861.2 254.74L869.03 258.19L876.41 262.61L883.22 267.96L889.29 274.23L894.44 281.33L898.46 289.15L901.2 297.51L902.57 306.18Z" fill="#00efff"/><path d="M900.93 314.88L899.67 323.24L897.31 331.26L894.04 338.85L890.03 345.97L885.37 352.63L880.11 358.82L874.22 364.47L867.69 369.47L860.51 373.64L852.75 376.76L844.57 378.67L836.17 379.27L827.79 378.56L819.63 376.63L811.83 373.65L804.48 369.78L797.59 365.16L791.19 359.86L785.32 353.9L780.1 347.26L775.68 339.94L772.31 331.99L770.17 323.57L769.43 314.88L770.14 306.19L772.25 297.75L775.62 289.8L780.06 282.48L785.34 275.88L791.31 270.02L797.83 264.92L804.82 260.58L812.22 257.06L819.97 254.41L827.99 252.7L836.17 252L844.41 252.34L852.56 253.72L860.52 256.1L868.16 259.47L875.38 263.78L882.03 269.02L887.96 275.14L892.99 282.08L896.92 289.72L899.6 297.89L900.94 306.35Z" fill="#00ffff"/><path d="M899.33 314.85L898.1 323.02L895.8 330.86L892.6 338.27L888.68 345.23L884.13 351.74L878.99 357.78L873.24 363.3L866.86 368.19L859.84 372.26L852.26 375.31L844.27 377.18L836.06 377.76L827.87 377.07L819.9 375.19L812.28 372.27L805.1 368.49L798.37 363.98L792.12 358.8L786.38 352.97L781.28 346.49L776.97 339.33L773.67 331.57L771.58 323.34L770.86 314.85L771.55 306.36L773.62 298.12L776.91 290.35L781.24 283.2L786.4 276.75L792.24 271.03L798.61 266.04L805.44 261.8L812.66 258.36L820.23 255.77L828.07 254.11L836.06 253.42L844.11 253.75L852.08 255.1L859.85 257.43L867.32 260.72L874.37 264.93L880.87 270.05L886.67 276.03L891.57 282.81L895.41 290.27L898.03 298.25L899.34 306.52Z" fill="#10ffef"/><path d="M897.78 314.83L896.57 322.81L894.32 330.47L891.2 337.71L887.37 344.51L882.92 350.86L877.9 356.77L872.28 362.17L866.04 366.94L859.19 370.92L851.79 373.9L843.97 375.72L835.96 376.3L827.95 375.62L820.16 373.78L812.72 370.93L805.7 367.24L799.13 362.83L793.02 357.77L787.41 352.07L782.42 345.73L778.21 338.74L774.99 331.16L772.95 323.12L772.24 314.83L772.92 306.53L774.94 298.48L778.16 290.88L782.39 283.9L787.43 277.59L793.13 272L799.36 267.13L806.03 262.99L813.09 259.63L820.49 257.1L828.14 255.47L835.96 254.8L843.82 255.13L851.6 256.44L859.2 258.72L866.5 261.93L873.39 266.05L879.74 271.05L885.4 276.89L890.19 283.51L893.95 290.81L896.5 298.6L897.78 306.69Z" fill="#20ffdf"/><path d="M896.23 314.8L895.06 322.59L892.86 330.08L889.81 337.15L886.07 343.79L881.72 350L876.82 355.77L871.33 361.04L865.24 365.7L858.54 369.59L851.31 372.5L843.68 374.28L835.85 374.84L828.03 374.18L820.42 372.38L813.15 369.6L806.29 365.99L799.87 361.68L793.91 356.74L788.44 351.18L783.56 344.99L779.45 338.16L776.3 330.76L774.31 322.9L773.62 314.8L774.28 306.69L776.25 298.83L779.39 291.41L783.52 284.59L788.45 278.43L794.02 272.97L800.1 268.21L806.62 264.17L813.52 260.88L820.74 258.41L828.22 256.82L835.85 256.17L843.53 256.49L851.13 257.77L858.55 259.99L865.68 263.13L872.41 267.16L878.61 272.04L884.14 277.74L888.83 284.21L892.49 291.34L894.99 298.95L896.24 306.85Z" fill="#30ffcf"/><path d="M894.73 314.77L893.58 322.39L891.43 329.69L888.45 336.61L884.8 343.09L880.55 349.16L875.76 354.79L870.4 359.94L864.45 364.5L857.91 368.29L850.84 371.14L843.39 372.88L835.74 373.42L828.11 372.78L820.67 371.02L813.57 368.3L806.87 364.78L800.6 360.57L794.77 355.74L789.42 350.31L784.66 344.26L780.65 337.59L777.57 330.36L775.62 322.69L774.95 314.77L775.6 306.85L777.52 299.17L780.59 291.93L784.63 285.26L789.44 279.25L794.88 273.91L800.82 269.26L807.19 265.31L813.93 262.1L820.98 259.69L828.29 258.14L835.74 257.5L843.24 257.81L850.67 259.06L857.92 261.24L864.88 264.3L871.45 268.23L877.51 273L882.92 278.57L887.49 284.89L891.07 291.85L893.51 299.29L894.73 307.01Z" fill="#40ffbf"/><path d="M893.23 314.75L892.11 322.18L890.02 329.32L887.11 336.07L883.54 342.4L879.39 348.32L874.71 353.83L869.48 358.86L863.67 363.3L857.28 367.01L850.38 369.79L843.1 371.49L835.63 372.02L828.18 371.39L820.92 369.67L813.98 367.02L807.44 363.58L801.32 359.47L795.62 354.76L790.4 349.45L785.75 343.54L781.83 337.03L778.83 329.97L776.93 322.48L776.27 314.75L776.9 307.01L778.78 299.51L781.78 292.44L785.72 285.93L790.42 280.05L795.73 274.84L801.53 270.3L807.75 266.45L814.33 263.31L821.22 260.96L828.35 259.44L835.63 258.82L842.96 259.12L850.21 260.34L857.29 262.47L864.09 265.46L870.51 269.3L876.43 273.95L881.7 279.4L886.17 285.57L889.67 292.36L892.05 299.63L893.24 307.16Z" fill="#50ffaf"/><path d="M891.76 314.72L890.66 321.98L888.61 328.94L885.78 335.53L882.29 341.72L878.25 347.5L873.68 352.87L868.57 357.78L862.89 362.12L856.66 365.74L849.92 368.45L842.82 370.11L835.53 370.63L828.25 370.01L821.16 368.34L814.39 365.75L808 362.39L802.03 358.38L796.47 353.78L791.37 348.6L786.83 342.83L783 336.47L780.07 329.58L778.22 322.26L777.57 314.72L778.19 307.17L780.02 299.85L782.95 292.94L786.8 286.59L791.39 280.85L796.57 275.77L802.24 271.33L808.31 267.57L814.73 264.51L821.46 262.21L828.42 260.73L835.53 260.12L842.68 260.42L849.76 261.61L856.67 263.68L863.3 266.61L869.57 270.35L875.35 274.9L880.5 280.21L884.86 286.24L888.27 292.87L890.6 299.96L891.76 307.32Z" fill="#60ff9f"/><path d="M890.3 314.69L889.23 321.78L887.24 328.58L884.47 335.01L881.06 341.05L877.12 346.69L872.66 351.93L867.67 356.72L862.13 360.96L856.05 364.49L849.47 367.14L842.54 368.76L835.42 369.27L828.31 368.66L821.39 367.03L814.79 364.5L808.55 361.22L802.72 357.31L797.29 352.82L792.32 347.76L787.89 342.13L784.15 335.93L781.29 329.2L779.48 322.06L778.85 314.69L779.45 307.32L781.24 300.18L784.1 293.44L787.86 287.23L792.34 281.64L797.4 276.67L802.92 272.35L808.85 268.67L815.12 265.69L821.69 263.44L828.48 261.99L835.42 261.4L842.4 261.69L849.31 262.85L856.05 264.88L862.53 267.73L868.65 271.39L874.29 275.82L879.31 281.01L883.57 286.89L886.9 293.37L889.17 300.29L890.31 307.47Z" fill="#70ff8f"/><path d="M888.86 314.67L887.82 321.58L885.87 328.21L883.17 334.49L879.85 340.38L876 345.88L871.64 351L866.78 355.67L861.38 359.81L855.44 363.25L849.02 365.84L842.26 367.42L835.31 367.92L828.38 367.33L821.63 365.73L815.18 363.27L809.1 360.07L803.41 356.25L798.11 351.86L793.26 346.93L788.94 341.44L785.29 335.38L782.49 328.82L780.73 321.85L780.12 314.67L780.7 307.48L782.45 300.5L785.24 293.92L788.9 287.87L793.28 282.41L798.21 277.57L803.61 273.35L809.39 269.76L815.5 266.85L821.91 264.66L828.54 263.25L835.31 262.67L842.12 262.95L848.86 264.08L855.44 266.06L861.77 268.84L867.73 272.41L873.24 276.74L878.14 281.8L882.3 287.54L885.55 293.86L887.76 300.61L888.87 307.61Z" fill="#80ff80"/><path d="M887.44 314.64L886.42 321.38L884.52 327.85L881.88 333.97L878.64 339.72L874.89 345.09L870.64 350.08L865.9 354.64L860.63 358.67L854.83 362.03L848.58 364.55L841.98 366.09L835.2 366.58L828.44 366L821.86 364.45L815.57 362.04L809.64 358.92L804.08 355.19L798.92 350.92L794.19 346.11L789.97 340.75L786.41 334.85L783.69 328.44L781.96 321.65L781.37 314.64L781.94 307.63L783.64 300.82L786.36 294.41L789.94 288.5L794.2 283.18L799.02 278.45L804.28 274.34L809.92 270.84L815.88 268L822.13 265.86L828.6 264.49L835.2 263.92L841.84 264.19L848.42 265.3L854.84 267.23L861.01 269.94L866.83 273.42L872.2 277.65L876.98 282.58L881.03 288.18L884.2 294.34L886.36 300.93L887.44 307.76Z" fill="#8fff70"/><path d="M886.02 314.61L885.03 321.19L883.18 327.49L880.61 333.46L877.45 339.06L873.79 344.3L869.65 349.16L865.02 353.61L859.88 357.54L854.24 360.82L848.14 363.28L841.7 364.78L835.1 365.25L828.5 364.69L822.08 363.18L815.95 360.83L810.17 357.79L804.75 354.15L799.72 349.99L795.11 345.3L790.99 340.07L787.52 334.32L784.87 328.07L783.19 321.45L782.61 314.61L783.16 307.77L784.83 301.14L787.48 294.89L790.96 289.13L795.12 283.94L799.82 279.33L804.94 275.32L810.44 271.91L816.26 269.14L822.35 267.05L828.66 265.71L835.1 265.16L841.57 265.43L847.98 266.51L854.24 268.39L860.25 271.03L865.93 274.43L871.16 278.54L875.83 283.36L879.78 288.81L882.87 294.82L884.98 301.25L886.03 307.91Z" fill="#9fff60"/><path d="M884.62 314.58L883.66 320.99L881.85 327.14L879.34 332.96L876.27 338.42L872.7 343.52L868.66 348.26L864.15 352.59L859.15 356.43L853.64 359.62L847.7 362.01L841.42 363.48L834.99 363.94L828.56 363.39L822.3 361.92L816.33 359.63L810.69 356.66L805.42 353.12L800.51 349.06L796.01 344.49L792.01 339.4L788.62 333.79L786.04 327.7L784.4 321.24L783.83 314.58L784.38 307.92L785.99 301.46L788.58 295.36L791.98 289.75L796.03 284.69L800.6 280.2L805.6 276.29L810.96 272.97L816.63 270.26L822.57 268.23L828.71 266.93L834.99 266.39L841.3 266.65L847.55 267.7L853.65 269.53L859.51 272.11L865.04 275.42L870.14 279.43L874.68 284.12L878.54 289.44L881.55 295.3L883.6 301.56L884.63 308.05Z" fill="#afff50"/><path d="M883.22 314.56L882.28 320.8L880.52 326.79L878.08 332.45L875.08 337.77L871.61 342.74L867.68 347.36L863.29 351.58L858.41 355.31L853.05 358.42L847.26 360.75L841.15 362.18L834.88 362.63L828.62 362.1L822.53 360.66L816.71 358.43L811.22 355.54L806.08 352.09L801.3 348.14L796.92 343.69L793.02 338.73L789.72 333.26L787.2 327.33L785.61 321.04L785.05 314.56L785.59 308.07L787.16 301.77L789.68 295.83L792.99 290.37L796.94 285.44L801.39 281.07L806.26 277.26L811.48 274.02L817 271.39L822.78 269.41L828.77 268.14L834.88 267.62L841.03 267.87L847.11 268.9L853.05 270.68L858.76 273.19L864.15 276.41L869.12 280.32L873.54 284.89L877.29 290.07L880.23 295.77L882.23 301.87L883.23 308.19Z" fill="#bfff40"/><path d="M881.83 314.53L880.92 320.61L879.21 326.44L876.83 331.95L873.91 337.13L870.53 341.97L866.7 346.46L862.43 350.57L857.68 354.2L852.46 357.23L846.82 359.5L840.88 360.89L834.77 361.33L828.68 360.81L822.75 359.41L817.08 357.24L811.74 354.43L806.73 351.07L802.08 347.22L797.82 342.89L794.02 338.06L790.81 332.74L788.36 326.97L786.8 320.85L786.27 314.53L786.78 308.21L788.32 302.08L790.77 296.3L793.99 290.98L797.83 286.19L802.17 281.93L806.91 278.22L811.99 275.07L817.37 272.51L823 270.58L828.82 269.34L834.77 268.83L840.76 269.08L846.68 270.08L852.47 271.81L858.02 274.26L863.27 277.4L868.1 281.2L872.41 285.65L876.06 290.69L878.92 296.24L880.87 302.18L881.84 308.33Z" fill="#cfff30"/><path d="M880.45 314.5L879.56 320.41L877.89 326.09L875.58 331.45L872.74 336.49L869.45 341.19L865.73 345.57L861.57 349.56L856.95 353.1L851.87 356.04L846.39 358.25L840.6 359.6L834.66 360.03L828.74 359.52L822.97 358.16L817.45 356.05L812.25 353.32L807.39 350.05L802.86 346.3L798.71 342.09L795.02 337.39L791.9 332.22L789.51 326.6L788 320.65L787.48 314.5L787.98 308.36L789.47 302.39L791.86 296.77L794.99 291.6L798.73 286.93L802.95 282.79L807.56 279.18L812.5 276.12L817.73 273.62L823.21 271.75L828.88 270.54L834.66 270.05L840.49 270.29L846.25 271.26L851.88 272.95L857.28 275.33L862.38 278.38L867.09 282.08L871.28 286.41L874.83 291.31L877.61 296.71L879.51 302.49L880.45 308.48Z" fill="#dfff20"/><path d="M879.06 314.48L878.19 320.22L876.57 325.74L874.33 330.95L871.57 335.84L868.37 340.42L864.75 344.67L860.71 348.56L856.22 351.99L851.28 354.86L845.95 357L840.33 358.32L834.56 358.73L828.8 358.24L823.19 356.92L817.83 354.87L812.77 352.21L808.04 349.03L803.64 345.39L799.61 341.29L796.02 336.73L792.99 331.7L790.67 326.24L789.2 320.45L788.69 314.48L789.18 308.5L790.63 302.71L792.95 297.24L795.99 292.21L799.63 287.67L803.73 283.65L808.21 280.14L813.01 277.16L818.1 274.74L823.42 272.92L828.93 271.75L834.56 271.27L840.21 271.5L845.82 272.44L851.29 274.08L856.54 276.4L861.5 279.36L866.07 282.96L870.15 287.17L873.6 291.93L876.3 297.18L878.14 302.8L879.06 308.62Z" fill="#efff10"/><path d="M877.69 314.45L876.84 320.03L875.27 325.39L873.09 330.45L870.41 335.21L867.3 339.65L863.78 343.78L859.85 347.56L855.49 350.9L850.7 353.68L845.52 355.77L840.06 357.04L834.45 357.44L828.85 356.97L823.4 355.68L818.2 353.69L813.29 351.11L808.69 348.02L804.42 344.48L800.5 340.5L797.01 336.07L794.06 331.18L791.81 325.88L790.38 320.25L789.89 314.45L790.36 308.65L791.77 303.01L794.02 297.7L796.98 292.82L800.51 288.41L804.5 284.5L808.85 281.09L813.52 278.2L818.46 275.84L823.63 274.07L828.98 272.94L834.45 272.47L839.95 272.69L845.39 273.61L850.7 275.21L855.81 277.45L860.63 280.33L865.07 283.83L869.03 287.92L872.38 292.55L875.01 297.65L876.8 303.1L877.69 308.76Z" fill="#ffff00"/><path d="M876.3 314.42L875.48 319.84L873.95 325.04L871.84 329.95L869.23 334.57L866.22 338.88L862.81 342.89L859 346.55L854.76 349.79L850.11 352.49L845.08 354.52L839.78 355.75L834.34 356.14L828.91 355.68L823.62 354.43L818.57 352.5L813.8 349.99L809.34 347L805.2 343.57L801.4 339.7L798.01 335.4L795.15 330.66L792.96 325.51L791.58 320.05L791.1 314.42L791.56 308.79L792.93 303.33L795.11 298.17L797.98 293.43L801.41 289.15L805.28 285.36L809.5 282.05L814.03 279.24L818.82 276.96L823.84 275.24L829.04 274.14L834.34 273.68L839.68 273.9L844.96 274.79L850.12 276.34L855.07 278.52L859.74 281.32L864.06 284.71L867.9 288.67L871.15 293.17L873.7 298.12L875.44 303.41L876.3 308.9Z" fill="#ffef00"/><path d="M874.91 314.4L874.12 319.65L872.64 324.69L870.58 329.45L868.06 333.93L865.14 338.11L861.83 341.99L858.14 345.55L854.03 348.69L849.52 351.3L844.65 353.27L839.51 354.47L834.23 354.84L828.97 354.4L823.84 353.19L818.94 351.31L814.32 348.88L810 345.98L805.98 342.65L802.29 338.91L799.01 334.73L796.24 330.13L794.12 325.15L792.77 319.85L792.31 314.4L792.76 308.94L794.08 303.64L796.2 298.64L798.98 294.04L802.31 289.9L806.06 286.22L810.15 283.01L814.54 280.29L819.19 278.08L824.06 276.41L829.09 275.34L834.23 274.9L839.41 275.11L844.53 275.98L849.53 277.48L854.33 279.59L858.86 282.3L863.04 285.59L866.77 289.43L869.92 293.79L872.39 298.59L874.07 303.72L874.91 309.04Z" fill="#ffdf00"/><path d="M873.51 314.37L872.74 319.45L871.31 324.33L869.32 328.95L866.88 333.28L864.05 337.33L860.85 341.09L857.27 344.53L853.29 347.57L848.93 350.1L844.21 352L839.23 353.17L834.13 353.53L829.03 353.1L824.06 351.93L819.32 350.11L814.85 347.76L810.66 344.95L806.77 341.73L803.2 338.1L800.02 334.06L797.34 329.61L795.28 324.78L793.98 319.65L793.53 314.37L793.97 309.08L795.25 303.95L797.3 299.12L800 294.66L803.21 290.65L806.84 287.09L810.81 283.98L815.06 281.35L819.56 279.2L824.27 277.59L829.15 276.55L834.13 276.13L839.13 276.33L844.09 277.17L848.93 278.62L853.58 280.67L857.97 283.29L862.02 286.48L865.62 290.2L868.68 294.42L871.07 299.07L872.7 304.03L873.51 309.18Z" fill="#ffcf00"/><path d="M872.11 314.34L871.37 319.26L869.98 323.98L868.06 328.44L865.7 332.63L862.96 336.55L859.86 340.19L856.4 343.51L852.56 346.45L848.33 348.9L843.77 350.74L838.96 351.87L834.02 352.22L829.09 351.8L824.29 350.67L819.7 348.91L815.37 346.64L811.32 343.92L807.56 340.8L804.11 337.29L801.03 333.39L798.44 329.08L796.45 324.41L795.19 319.45L794.76 314.34L795.18 309.23L796.42 304.27L798.4 299.59L801.01 295.28L804.12 291.4L807.63 287.95L811.47 284.95L815.58 282.4L819.93 280.33L824.49 278.77L829.2 277.77L834.02 277.36L838.86 277.56L843.66 278.36L848.34 279.77L852.84 281.75L857.08 284.29L860.99 287.37L864.48 290.97L867.44 295.05L869.75 299.54L871.33 304.35L872.11 309.33Z" fill="#ffbf00"/><path d="M870.71 314.32L869.99 319.07L868.65 323.62L866.8 327.94L864.51 331.98L861.87 335.77L858.88 339.28L855.53 342.49L851.82 345.34L847.74 347.7L843.33 349.48L838.68 350.57L833.91 350.91L829.15 350.5L824.51 349.41L820.08 347.71L815.9 345.51L811.99 342.89L808.35 339.88L805.01 336.49L802.04 332.71L799.54 328.55L797.62 324.04L796.4 319.25L795.98 314.32L796.39 309.38L797.59 304.58L799.5 300.06L802.02 295.9L805.03 292.15L808.42 288.82L812.12 285.92L816.1 283.46L820.3 281.46L824.7 279.95L829.26 278.98L833.91 278.59L838.59 278.78L843.22 279.56L847.75 280.92L852.09 282.83L856.19 285.28L859.97 288.25L863.34 291.73L866.2 295.67L868.43 300.02L869.95 304.66L870.71 309.47Z" fill="#ffaf00"/><path d="M869.28 314.29L868.59 318.87L867.3 323.26L865.51 327.42L863.31 331.32L860.76 334.97L857.87 338.36L854.65 341.46L851.07 344.2L847.14 346.48L842.89 348.19L838.4 349.24L833.8 349.57L829.21 349.18L824.74 348.12L820.47 346.49L816.44 344.37L812.66 341.84L809.16 338.93L805.94 335.67L803.08 332.03L800.66 328.02L798.81 323.66L797.64 319.05L797.23 314.29L797.62 309.53L798.78 304.9L800.63 300.55L803.06 296.54L805.95 292.92L809.22 289.71L812.8 286.91L816.63 284.54L820.68 282.61L824.92 281.16L829.32 280.22L833.8 279.84L838.31 280.02L842.78 280.78L847.14 282.09L851.33 283.93L855.28 286.29L858.93 289.16L862.18 292.51L864.93 296.32L867.08 300.5L868.55 304.98L869.29 309.62Z" fill="#ff9f00"/><path d="M867.84 314.26L867.18 318.67L865.93 322.9L864.21 326.9L862.09 330.66L859.64 334.17L856.86 337.43L853.76 340.41L850.31 343.05L846.53 345.24L842.44 346.89L838.12 347.9L833.69 348.22L829.27 347.84L824.97 346.82L820.86 345.25L816.98 343.21L813.35 340.77L809.98 337.98L806.88 334.84L804.12 331.33L801.8 327.47L800.02 323.29L798.89 318.84L798.5 314.26L798.87 309.68L799.99 305.23L801.77 301.04L804.1 297.18L806.89 293.69L810.04 290.61L813.48 287.91L817.16 285.63L821.07 283.77L825.15 282.37L829.38 281.47L833.69 281.11L838.04 281.28L842.34 282.01L846.53 283.27L850.56 285.04L854.37 287.32L857.88 290.08L861.01 293.3L863.66 296.96L865.73 300.99L867.14 305.3L867.85 309.77Z" fill="#ff8f00"/><path d="M866.39 314.23L865.75 318.47L864.56 322.53L862.9 326.38L860.87 329.98L858.51 333.36L855.84 336.49L852.86 339.35L849.55 341.89L845.92 344L841.99 345.58L837.84 346.55L833.59 346.85L829.34 346.49L825.21 345.52L821.26 344L817.53 342.04L814.04 339.7L810.8 337.02L807.83 334L805.18 330.63L802.95 326.93L801.24 322.9L800.15 318.64L799.78 314.23L800.14 309.83L801.21 305.56L802.92 301.53L805.16 297.82L807.84 294.48L810.86 291.51L814.17 288.93L817.71 286.73L821.45 284.94L825.38 283.6L829.44 282.74L833.59 282.38L837.76 282.56L841.89 283.25L845.92 284.46L849.79 286.17L853.45 288.35L856.82 291L859.82 294.1L862.37 297.62L864.36 301.49L865.72 305.63L866.39 309.92Z" fill="#ff8000"/><path d="M864.91 314.21L864.3 318.26L863.16 322.16L861.57 325.84L859.62 329.3L857.36 332.53L854.8 335.53L851.95 338.28L848.78 340.7L845.29 342.73L841.53 344.24L837.56 345.17L833.48 345.46L829.41 345.12L825.45 344.18L821.66 342.73L818.09 340.85L814.75 338.61L811.65 336.04L808.8 333.15L806.26 329.92L804.12 326.37L802.48 322.51L801.44 318.43L801.08 314.21L801.43 309.99L802.45 305.89L804.09 302.03L806.24 298.48L808.81 295.28L811.71 292.43L814.87 289.96L818.26 287.85L821.85 286.14L825.61 284.86L829.51 284.03L833.48 283.69L837.48 283.85L841.43 284.52L845.3 285.68L849.01 287.31L852.51 289.41L855.74 291.95L858.62 294.92L861.06 298.29L862.96 301.99L864.26 305.96L864.91 310.07Z" fill="#ff7000"/><path d="M863.41 314.18L862.82 318.06L861.73 321.78L860.21 325.3L858.35 328.6L856.19 331.69L853.75 334.56L851.02 337.18L847.99 339.5L844.66 341.43L841.06 342.88L837.27 343.77L833.37 344.05L829.48 343.72L825.7 342.82L822.08 341.44L818.67 339.64L815.48 337.5L812.51 335.04L809.79 332.28L807.36 329.2L805.32 325.8L803.75 322.12L802.76 318.21L802.42 314.18L802.75 310.15L803.73 306.24L805.29 302.55L807.34 299.15L809.8 296.09L812.57 293.37L815.59 291.01L818.83 289L822.26 287.36L825.86 286.13L829.58 285.34L833.37 285.02L837.19 285.18L840.97 285.81L844.66 286.92L848.21 288.48L851.56 290.48L854.64 292.91L857.39 295.75L859.72 298.97L861.55 302.51L862.79 306.3L863.41 310.23Z" fill="#ff6000"/><path d="M861.88 314.15L861.32 317.85L860.28 321.39L858.83 324.74L857.06 327.89L855 330.83L852.68 333.56L850.08 336.06L847.19 338.27L844.02 340.11L840.59 341.49L836.97 342.34L833.26 342.6L829.56 342.29L825.95 341.44L822.51 340.12L819.26 338.41L816.22 336.37L813.39 334.03L810.8 331.39L808.49 328.46L806.54 325.22L805.05 321.71L804.1 317.99L803.78 314.15L804.09 310.31L805.02 306.59L806.51 303.07L808.47 299.84L810.81 296.92L813.44 294.33L816.33 292.08L819.41 290.16L822.68 288.61L826.1 287.44L829.65 286.68L833.26 286.37L836.9 286.52L840.5 287.13L844.02 288.18L847.4 289.67L850.59 291.58L853.53 293.89L856.15 296.6L858.37 299.66L860.1 303.04L861.29 306.64L861.88 310.39Z" fill="#ff5000"/><path d="M860.3 314.13L859.78 317.63L858.79 320.99L857.42 324.18L855.73 327.16L853.78 329.95L851.58 332.55L849.11 334.92L846.37 337.01L843.36 338.76L840.11 340.07L836.68 340.87L833.16 341.12L829.64 340.82L826.22 340.02L822.95 338.77L819.87 337.14L816.98 335.21L814.3 332.98L811.84 330.48L809.65 327.7L807.8 324.63L806.38 321.3L805.49 317.77L805.18 314.13L805.47 310.48L806.36 306.95L807.77 303.61L809.63 300.54L811.85 297.78L814.35 295.32L817.08 293.18L820.01 291.36L823.12 289.89L826.36 288.77L829.72 288.06L833.16 287.77L836.61 287.91L840.03 288.48L843.36 289.49L846.57 290.9L849.59 292.71L852.38 294.9L854.87 297.47L856.98 300.37L858.62 303.58L859.75 307L860.31 310.55Z" fill="#ff4000"/><path d="M858.68 314.1L858.18 317.41L857.25 320.58L855.96 323.59L854.37 326.41L852.52 329.04L850.44 331.49L848.11 333.73L845.52 335.71L842.68 337.36L839.61 338.59L836.37 339.35L833.05 339.59L829.73 339.31L826.5 338.54L823.41 337.36L820.5 335.83L817.78 334L815.24 331.91L812.92 329.54L810.85 326.92L809.1 324.02L807.77 320.87L806.92 317.54L806.63 314.1L806.91 310.66L807.75 307.32L809.08 304.17L810.84 301.27L812.93 298.66L815.29 296.34L817.87 294.32L820.64 292.61L823.57 291.21L826.63 290.16L829.81 289.49L833.05 289.21L836.31 289.34L839.54 289.89L842.69 290.83L845.71 292.17L848.57 293.87L851.2 295.95L853.55 298.37L855.54 301.11L857.09 304.14L858.16 307.37L858.68 310.72Z" fill="#ff3000"/><path d="M857.02 314.07L856.55 317.18L855.68 320.16L854.46 322.99L852.97 325.63L851.23 328.11L849.28 330.41L847.09 332.51L844.66 334.37L841.99 335.92L839.11 337.08L836.06 337.79L832.94 338.02L829.82 337.75L826.79 337.04L823.89 335.93L821.15 334.49L818.59 332.77L816.21 330.8L814.03 328.58L812.09 326.11L810.45 323.39L809.19 320.44L808.4 317.3L808.12 314.07L808.39 310.84L809.17 307.7L810.43 304.75L812.07 302.03L814.04 299.57L816.26 297.39L818.68 295.49L821.28 293.88L824.03 292.57L826.92 291.59L829.9 290.95L832.94 290.69L836 290.82L839.04 291.33L841.99 292.22L844.84 293.47L847.52 295.07L849.99 297.02L852.2 299.3L854.07 301.88L855.53 304.72L856.53 307.75L857.02 310.9Z" fill="#ff2000"/><path d="M855.28 314.05L854.84 316.94L854.03 319.72L852.89 322.36L851.5 324.82L849.89 327.13L848.06 329.28L846.02 331.24L843.76 332.97L841.27 334.41L838.58 335.5L835.74 336.16L832.83 336.37L829.93 336.12L827.1 335.45L824.39 334.42L821.85 333.08L819.46 331.47L817.24 329.64L815.21 327.57L813.39 325.27L811.87 322.73L810.69 319.98L809.95 317.06L809.7 314.05L809.94 311.03L810.68 308.11L811.84 305.35L813.38 302.81L815.21 300.53L817.28 298.5L819.54 296.73L821.97 295.22L824.53 294L827.22 293.08L830 292.49L832.83 292.25L835.69 292.37L838.51 292.84L841.27 293.67L843.92 294.84L846.42 296.33L848.73 298.15L850.79 300.27L852.53 302.68L853.89 305.32L854.82 308.15L855.28 311.09Z" fill="#ff1000"/><path d="M853.48 314.02L853.07 316.7L852.32 319.27L851.27 321.7L849.98 323.98L848.49 326.12L846.8 328.1L844.92 329.91L842.82 331.51L840.52 332.85L838.04 333.85L835.42 334.46L832.73 334.65L830.04 334.42L827.42 333.81L824.93 332.85L822.57 331.61L820.36 330.13L818.31 328.43L816.43 326.52L814.76 324.39L813.34 322.05L812.26 319.5L811.58 316.8L811.34 314.02L811.57 311.23L812.24 308.53L813.32 305.98L814.74 303.64L816.44 301.52L818.35 299.64L820.44 298.01L822.68 296.62L825.05 295.49L827.53 294.64L830.1 294.1L832.73 293.87L835.36 293.98L837.98 294.42L840.53 295.19L842.98 296.26L845.29 297.65L847.42 299.32L849.32 301.28L850.93 303.51L852.19 305.96L853.05 308.57L853.48 311.29Z" fill="#ff0000"/><path d="M851.55 313.99L851.18 316.44L850.49 318.78L849.54 321L848.36 323.08L847 325.03L845.46 326.84L843.74 328.49L841.83 329.95L839.73 331.17L837.47 332.09L835.07 332.64L832.62 332.82L830.17 332.61L827.78 332.05L825.5 331.18L823.35 330.04L821.34 328.69L819.47 327.14L817.75 325.4L816.22 323.46L814.93 321.32L813.94 319L813.32 316.53L813.1 313.99L813.31 311.45L813.93 308.98L814.91 306.66L816.21 304.52L817.76 302.59L819.5 300.88L821.41 299.38L823.45 298.12L825.61 297.08L827.88 296.31L830.22 295.81L832.62 295.61L835.03 295.71L837.41 296.11L839.74 296.81L841.97 297.79L844.08 299.05L846.03 300.58L847.76 302.37L849.23 304.4L850.38 306.63L851.16 309.02L851.55 311.5Z" fill="#ef0000"/><path d="M849.51 313.97L849.18 316.16L848.56 318.27L847.7 320.26L846.65 322.13L845.43 323.88L844.05 325.5L842.5 326.98L840.79 328.3L838.9 329.39L836.86 330.21L834.72 330.71L832.51 330.87L830.31 330.68L828.17 330.18L826.12 329.4L824.19 328.38L822.38 327.17L820.7 325.77L819.16 324.21L817.79 322.47L816.63 320.54L815.74 318.46L815.18 316.25L814.99 313.97L815.17 311.68L815.73 309.47L816.61 307.38L817.78 305.46L819.16 303.72L820.73 302.19L822.44 300.85L824.28 299.71L826.22 298.78L828.26 298.09L830.36 297.64L832.51 297.46L834.67 297.55L836.81 297.91L838.9 298.53L840.91 299.42L842.8 300.55L844.55 301.92L846.11 303.53L847.43 305.35L848.46 307.36L849.16 309.5L849.51 311.73Z" fill="#df0000"/><path d="M847.28 313.94L846.99 315.86L846.44 317.7L845.69 319.44L844.77 321.08L843.7 322.61L842.49 324.03L841.14 325.33L839.64 326.48L837.99 327.43L836.21 328.15L834.33 328.59L832.4 328.73L830.48 328.56L828.6 328.12L826.81 327.44L825.12 326.55L823.54 325.49L822.07 324.27L820.72 322.9L819.52 321.37L818.51 319.69L817.73 317.87L817.24 315.93L817.07 313.94L817.24 311.94L817.72 310L818.5 308.18L819.51 306.5L820.73 304.98L822.1 303.63L823.6 302.46L825.2 301.47L826.9 300.66L828.68 300.05L830.52 299.66L832.4 299.5L834.29 299.57L836.17 299.89L837.99 300.44L839.75 301.21L841.41 302.2L842.94 303.4L844.3 304.81L845.45 306.4L846.35 308.16L846.97 310.03L847.28 311.98Z" fill="#cf0000"/><path d="M844.77 313.91L844.52 315.52L844.07 317.07L843.44 318.53L842.67 319.9L841.77 321.18L840.76 322.37L839.62 323.46L838.36 324.42L836.98 325.23L835.49 325.83L833.91 326.2L832.29 326.31L830.68 326.17L829.11 325.8L827.61 325.23L826.19 324.48L824.86 323.59L823.63 322.57L822.5 321.43L821.5 320.15L820.65 318.74L820 317.21L819.58 315.58L819.44 313.91L819.58 312.24L819.99 310.61L820.63 309.08L821.49 307.67L822.51 306.4L823.66 305.27L824.91 304.29L826.26 303.45L827.68 302.78L829.17 302.27L830.72 301.94L832.29 301.8L833.88 301.87L835.45 302.13L836.98 302.59L838.46 303.24L839.85 304.07L841.13 305.08L842.27 306.26L843.24 307.59L843.99 309.07L844.51 310.64L844.77 312.27Z" fill="#bf0000"/><path d="M841.8 313.88L841.61 315.12L841.26 316.32L840.78 317.44L840.18 318.5L839.49 319.49L838.71 320.4L837.83 321.24L836.86 321.99L835.8 322.6L834.65 323.07L833.43 323.35L832.19 323.44L830.94 323.34L829.73 323.05L828.57 322.61L827.48 322.03L826.46 321.35L825.51 320.56L824.64 319.68L823.86 318.69L823.21 317.6L822.71 316.42L822.39 315.17L822.28 313.88L822.39 312.59L822.7 311.34L823.2 310.16L823.86 309.08L824.64 308.1L825.53 307.23L826.5 306.47L827.53 305.83L828.63 305.3L829.78 304.91L830.97 304.66L832.19 304.55L833.41 304.6L834.62 304.81L835.8 305.16L836.93 305.66L838.01 306.3L838.99 307.08L839.87 307.99L840.62 309.02L841.2 310.15L841.6 311.36L841.8 312.62Z" fill="#af0000"/><path d="M837.77 313.86L837.66 314.59L837.45 315.3L837.17 315.96L836.81 316.59L836.4 317.18L835.94 317.72L835.42 318.22L834.85 318.66L834.22 319.02L833.54 319.3L832.82 319.47L832.08 319.52L831.34 319.46L830.62 319.29L829.94 319.02L829.29 318.68L828.69 318.28L828.12 317.81L827.61 317.29L827.15 316.7L826.76 316.06L826.46 315.36L826.28 314.62L826.21 313.86L826.27 313.09L826.46 312.35L826.76 311.65L827.15 311.01L827.61 310.43L828.14 309.91L828.71 309.46L829.32 309.08L829.97 308.77L830.65 308.54L831.36 308.39L832.08 308.33L832.8 308.36L833.52 308.48L834.22 308.69L834.89 308.99L835.53 309.36L836.11 309.83L836.63 310.36L837.07 310.97L837.42 311.65L837.66 312.36L837.77 313.11Z" fill="#9f0000"/></g><path d="M723.75 143.15v3.3M723.75 488.35v-3.3M666.3 200.68h3.3M1011 200.68h-3.3M838.65 143.15v3.3M838.65 488.35v-3.3M666.3 315.75h3.3M1011 315.75h-3.3M953.55 143.15v3.3M953.55 488.35v-3.3M666.3 430.82h3.3M1011 430.82h-3.3" stroke="#000" stroke-width="2.1"/><rect x="666.3" y="143.15" width="344.7" height="345.2" fill="none" stroke="#000" stroke-width="2.3"/><g font-family="'Liberation Sans', Arial, Helvetica, sans-serif" font-size="48.3"><text transform="translate(723.75 548.25) scale(1 1.055)" text-anchor="middle">2</text><text transform="translate(711.52 548.25) scale(1 1.055)" text-anchor="end">&#8722;</text><text transform="translate(653.2 218.98) scale(1 1.055)" text-anchor="end">&#8722;2</text><text transform="translate(838.65 548.25) scale(1 1.055)" text-anchor="middle">0</text><text transform="translate(653.2 334.05) scale(1 1.055)" text-anchor="end">0</text><text transform="translate(953.55 548.25) scale(1 1.055)" text-anchor="middle">2</text><text transform="translate(653.2 449.12) scale(1 1.055)" text-anchor="end">2</text></g><g font-family="'Liberation Serif', 'Times New Roman', serif" class="cm"><text x="758.58" y="605.95" font-size="51.5" font-style="italic">x</text><text x="800.2" y="605.95" font-size="53.5">(</text><text x="816.57" y="605.95" font-size="51.5">mm</text><text x="897.23" y="605.95" font-size="53.5">)</text></g><g font-family="'Liberation Serif', 'Times New Roman', serif" class="cm" transform="translate(562.3 393.15) rotate(-90)"><text x="4.3" y="0" font-size="51.5" font-style="italic">y</text><text x="39.05" y="0" font-size="53.5">(</text><text x="55.42" y="0" font-size="51.5">mm</text><text x="136.08" y="0" font-size="53.5">)</text></g><g font-family="'Liberation Serif', 'Times New Roman', serif" class="cm"><text x="284.88" y="664.5" font-size="53.5">(</text><text x="300.62" y="664.5" font-size="51.5">a</text><text x="323.95" y="664.5" font-size="53.5">)</text></g><g font-family="'Liberation Serif', 'Times New Roman', serif" class="cm"><text x="809.15" y="664.5" font-size="53.5">(</text><text x="826.71" y="664.5" font-size="51.5">b</text><text x="851.67" y="664.5" font-size="53.5">)</text></g><rect x="1234.8" y="49.2" width="823.6" height="439" fill="#fff"/><path d="M1372.07 48.2V488.2M1509.33 48.2V488.2M1646.6 48.2V488.2M1783.87 48.2V488.2M1921.13 48.2V488.2" stroke="#000" stroke-width="2" stroke-dasharray="3 18.85" fill="none"/><path d="M1234.8 477.8H2058.4M1234.8 375H2058.4M1234.8 272.2H2058.4M1234.8 169.4H2058.4M1234.8 66.6H2058.4" stroke="#000" stroke-width="2" stroke-dasharray="3 18.95" fill="none"/><path d="M1234.8 49.2v7.8M1234.8 488.2v-7.8M1372.07 49.2v7.8M1372.07 488.2v-7.8M1509.33 49.2v7.8M1509.33 488.2v-7.8M1646.6 49.2v7.8M1646.6 488.2v-7.8M1783.87 49.2v7.8M1783.87 488.2v-7.8M1921.13 49.2v7.8M1921.13 488.2v-7.8M2058.4 49.2v7.8M2058.4 488.2v-7.8M1234.8 477.8h7.8M2058.4 477.8h-7.8M1234.8 375h7.8M2058.4 375h-7.8M1234.8 272.2h7.8M2058.4 272.2h-7.8M1234.8 169.4h7.8M2058.4 169.4h-7.8M1234.8 66.6h7.8M2058.4 66.6h-7.8" stroke="#000" stroke-width="2.1"/><rect x="1234.8" y="49.2" width="823.6" height="439" fill="none" stroke="#000" stroke-width="2.2"/><path d="M1234.8,477.34 1236.17,477.32 1237.55,477.3 1238.92,477.28 1240.3,477.25 1241.67,477.23 1243.05,477.2 1244.42,477.18 1245.8,477.15 1247.17,477.12 1248.55,477.09 1249.92,477.06 1251.3,477.02 1252.67,476.99 1254.05,476.95 1255.42,476.92 1256.8,476.88 1258.17,476.84 1259.55,476.8 1260.92,476.75 1262.3,476.71 1263.67,476.66 1265.05,476.61 1266.42,476.56 1267.8,476.51 1269.17,476.46 1270.55,476.4 1271.92,476.34 1273.3,476.28 1274.67,476.22 1276.05,476.15 1277.42,476.08 1278.8,476.01 1280.17,475.94 1281.55,475.86 1282.92,475.78 1284.3,475.7 1285.67,475.62 1287.05,475.53 1288.42,475.44 1289.8,475.34 1291.17,475.24 1292.55,475.14 1293.92,475.04 1295.3,474.93 1296.67,474.82 1298.05,474.7 1299.42,474.58 1300.8,474.46 1302.17,474.33 1303.55,474.2 1304.92,474.06 1306.3,473.92 1307.67,473.77 1309.05,473.62 1310.42,473.46 1311.8,473.3 1313.17,473.13 1314.55,472.96 1315.92,472.78 1317.3,472.59 1318.67,472.4 1320.05,472.21 1321.42,472 1322.8,471.79 1324.17,471.58 1325.55,471.35 1326.92,471.12 1328.3,470.89 1329.67,470.64 1331.05,470.39 1332.42,470.13 1333.8,469.86 1335.17,469.59 1336.55,469.3 1337.92,469.01 1339.3,468.71 1340.67,468.4 1342.05,468.08 1343.42,467.75 1344.8,467.41 1346.17,467.06 1347.55,466.7 1348.92,466.33 1350.3,465.96 1351.67,465.57 1353.05,465.17 1354.42,464.75 1355.8,464.33 1357.17,463.9 1358.55,463.45 1359.92,462.99 1361.3,462.52 1362.67,462.04 1364.05,461.54 1365.42,461.03 1366.8,460.51 1368.17,459.97 1369.55,459.42 1370.92,458.86 1372.3,458.28 1373.67,457.69 1375.05,457.08 1376.42,456.45 1377.8,455.81 1379.17,455.16 1380.55,454.49 1381.92,453.8 1383.3,453.1 1384.67,452.38 1386.05,451.64 1387.42,450.89 1388.8,450.11 1390.17,449.32 1391.55,448.51 1392.92,447.69 1394.3,446.84 1395.67,445.98 1397.05,445.09 1398.42,444.19 1399.79,443.27 1401.17,442.33 1402.54,441.36 1403.92,440.38 1405.29,439.37 1406.67,438.35 1408.04,437.3 1409.42,436.23 1410.79,435.14 1412.17,434.03 1413.54,432.9 1414.92,431.74 1416.29,430.56 1417.67,429.36 1419.04,428.13 1420.42,426.88 1421.79,425.61 1423.17,424.32 1424.54,423 1425.92,421.65 1427.29,420.28 1428.67,418.89 1430.04,417.47 1431.42,416.03 1432.79,414.56 1434.17,413.07 1435.54,411.55 1436.92,410.01 1438.29,408.44 1439.67,406.85 1441.04,405.23 1442.42,403.58 1443.79,401.91 1445.17,400.21 1446.54,398.49 1447.92,396.74 1449.29,394.96 1450.67,393.16 1452.04,391.33 1453.42,389.48 1454.79,387.6 1456.17,385.69 1457.54,383.76 1458.92,381.8 1460.29,379.81 1461.67,377.8 1463.04,375.76 1464.42,373.7 1465.79,371.61 1467.17,369.5 1468.54,367.36 1469.92,365.19 1471.29,363 1472.67,360.79 1474.04,358.55 1475.42,356.28 1476.79,353.99 1478.17,351.68 1479.54,349.34 1480.92,346.98 1482.29,344.6 1483.67,342.19 1485.04,339.76 1486.42,337.31 1487.79,334.83 1489.17,332.34 1490.54,329.82 1491.92,327.28 1493.29,324.72 1494.67,322.15 1496.04,319.55 1497.42,316.93 1498.79,314.29 1500.17,311.64 1501.54,308.97 1502.92,306.28 1504.29,303.57 1505.67,300.85 1507.04,298.11 1508.42,295.36 1509.79,292.59 1511.17,289.81 1512.54,287.02 1513.92,284.21 1515.29,281.4 1516.67,278.57 1518.04,275.73 1519.42,272.88 1520.79,270.03 1522.17,267.16 1523.54,264.29 1524.92,261.41 1526.29,258.52 1527.67,255.63 1529.04,252.74 1530.42,249.84 1531.79,246.94 1533.17,244.04 1534.54,241.14 1535.92,238.23 1537.29,235.33 1538.67,232.43 1540.04,229.54 1541.42,226.64 1542.79,223.75 1544.17,220.87 1545.54,217.99 1546.92,215.12 1548.29,212.26 1549.67,209.41 1551.04,206.56 1552.42,203.73 1553.79,200.91 1555.17,198.11 1556.54,195.31 1557.92,192.54 1559.29,189.78 1560.67,187.03 1562.04,184.31 1563.42,181.6 1564.79,178.91 1566.16,176.25 1567.54,173.6 1568.91,170.98 1570.29,168.39 1571.66,165.81 1573.04,163.27 1574.41,160.75 1575.79,158.26 1577.16,155.8 1578.54,153.36 1579.91,150.96 1581.29,148.59 1582.66,146.26 1584.04,143.95 1585.41,141.68 1586.79,139.45 1588.16,137.25 1589.54,135.1 1590.91,132.97 1592.29,130.89 1593.66,128.85 1595.04,126.85 1596.41,124.89 1597.79,122.97 1599.16,121.1 1600.54,119.27 1601.91,117.48 1603.29,115.74 1604.66,114.05 1606.04,112.4 1607.41,110.81 1608.79,109.26 1610.16,107.75 1611.54,106.3 1612.91,104.9 1614.29,103.55 1615.66,102.26 1617.04,101.01 1618.41,99.82 1619.79,98.68 1621.16,97.59 1622.54,96.56 1623.91,95.59 1625.29,94.66 1626.66,93.8 1628.04,92.99 1629.41,92.23 1630.79,91.54 1632.16,90.9 1633.54,90.31 1634.91,89.79 1636.29,89.32 1637.66,88.91 1639.04,88.56 1640.41,88.27 1641.79,88.03 1643.16,87.86 1644.54,87.74 1645.91,87.68 1647.29,87.68 1648.66,87.74 1650.04,87.86 1651.41,88.03 1652.79,88.27 1654.16,88.56 1655.54,88.91 1656.91,89.32 1658.29,89.79 1659.66,90.31 1661.04,90.9 1662.41,91.54 1663.79,92.23 1665.16,92.99 1666.54,93.8 1667.91,94.66 1669.29,95.59 1670.66,96.56 1672.04,97.59 1673.41,98.68 1674.79,99.82 1676.16,101.01 1677.54,102.26 1678.91,103.55 1680.29,104.9 1681.66,106.3 1683.04,107.75 1684.41,109.26 1685.79,110.81 1687.16,112.4 1688.54,114.05 1689.91,115.74 1691.29,117.48 1692.66,119.27 1694.04,121.1 1695.41,122.97 1696.79,124.89 1698.16,126.85 1699.54,128.85 1700.91,130.89 1702.29,132.97 1703.66,135.1 1705.04,137.25 1706.41,139.45 1707.79,141.68 1709.16,143.95 1710.54,146.26 1711.91,148.59 1713.29,150.96 1714.66,153.36 1716.04,155.8 1717.41,158.26 1718.79,160.75 1720.16,163.27 1721.54,165.81 1722.91,168.39 1724.29,170.98 1725.66,173.6 1727.04,176.25 1728.41,178.91 1729.78,181.6 1731.16,184.31 1732.53,187.03 1733.91,189.78 1735.28,192.54 1736.66,195.31 1738.03,198.11 1739.41,200.91 1740.78,203.73 1742.16,206.56 1743.53,209.41 1744.91,212.26 1746.28,215.12 1747.66,217.99 1749.03,220.87 1750.41,223.75 1751.78,226.64 1753.16,229.54 1754.53,232.43 1755.91,235.33 1757.28,238.23 1758.66,241.14 1760.03,244.04 1761.41,246.94 1762.78,249.84 1764.16,252.74 1765.53,255.63 1766.91,258.52 1768.28,261.41 1769.66,264.29 1771.03,267.16 1772.41,270.03 1773.78,272.88 1775.16,275.73 1776.53,278.57 1777.91,281.4 1779.28,284.21 1780.66,287.02 1782.03,289.81 1783.41,292.59 1784.78,295.36 1786.16,298.11 1787.53,300.85 1788.91,303.57 1790.28,306.28 1791.66,308.97 1793.03,311.64 1794.41,314.29 1795.78,316.93 1797.16,319.55 1798.53,322.15 1799.91,324.72 1801.28,327.28 1802.66,329.82 1804.03,332.34 1805.41,334.83 1806.78,337.31 1808.16,339.76 1809.53,342.19 1810.91,344.6 1812.28,346.98 1813.66,349.34 1815.03,351.68 1816.41,353.99 1817.78,356.28 1819.16,358.55 1820.53,360.79 1821.91,363 1823.28,365.19 1824.66,367.36 1826.03,369.5 1827.41,371.61 1828.78,373.7 1830.16,375.76 1831.53,377.8 1832.91,379.81 1834.28,381.8 1835.66,383.76 1837.03,385.69 1838.41,387.6 1839.78,389.48 1841.16,391.33 1842.53,393.16 1843.91,394.96 1845.28,396.74 1846.66,398.49 1848.03,400.21 1849.41,401.91 1850.78,403.58 1852.16,405.23 1853.53,406.85 1854.91,408.44 1856.28,410.01 1857.66,411.55 1859.03,413.07 1860.41,414.56 1861.78,416.03 1863.16,417.47 1864.53,418.89 1865.91,420.28 1867.28,421.65 1868.66,423 1870.03,424.32 1871.41,425.61 1872.78,426.88 1874.16,428.13 1875.53,429.36 1876.91,430.56 1878.28,431.74 1879.66,432.9 1881.03,434.03 1882.41,435.14 1883.78,436.23 1885.16,437.3 1886.53,438.35 1887.91,439.37 1889.28,440.38 1890.66,441.36 1892.03,442.33 1893.41,443.27 1894.78,444.19 1896.15,445.09 1897.53,445.98 1898.9,446.84 1900.28,447.69 1901.65,448.51 1903.03,449.32 1904.4,450.11 1905.78,450.89 1907.15,451.64 1908.53,452.38 1909.9,453.1 1911.28,453.8 1912.65,454.49 1914.03,455.16 1915.4,455.81 1916.78,456.45 1918.15,457.08 1919.53,457.69 1920.9,458.28 1922.28,458.86 1923.65,459.42 1925.03,459.97 1926.4,460.51 1927.78,461.03 1929.15,461.54 1930.53,462.04 1931.9,462.52 1933.28,462.99 1934.65,463.45 1936.03,463.9 1937.4,464.33 1938.78,464.75 1940.15,465.17 1941.53,465.57 1942.9,465.96 1944.28,466.33 1945.65,466.7 1947.03,467.06 1948.4,467.41 1949.78,467.75 1951.15,468.08 1952.53,468.4 1953.9,468.71 1955.28,469.01 1956.65,469.3 1958.03,469.59 1959.4,469.86 1960.78,470.13 1962.15,470.39 1963.53,470.64 1964.9,470.89 1966.28,471.12 1967.65,471.35 1969.03,471.58 1970.4,471.79 1971.78,472 1973.15,472.21 1974.53,472.4 1975.9,472.59 1977.28,472.78 1978.65,472.96 1980.03,473.13 1981.4,473.3 1982.78,473.46 1984.15,473.62 1985.53,473.77 1986.9,473.92 1988.28,474.06 1989.65,474.2 1991.03,474.33 1992.4,474.46 1993.78,474.58 1995.15,474.7 1996.53,474.82 1997.9,474.93 1999.28,475.04 2000.65,475.14 2002.03,475.24 2003.4,475.34 2004.78,475.44 2006.15,475.53 2007.53,475.62 2008.9,475.7 2010.28,475.78 2011.65,475.86 2013.03,475.94 2014.4,476.01 2015.78,476.08 2017.15,476.15 2018.53,476.22 2019.9,476.28 2021.28,476.34 2022.65,476.4 2024.03,476.46 2025.4,476.51 2026.78,476.56 2028.15,476.61 2029.53,476.66 2030.9,476.71 2032.28,476.75 2033.65,476.8 2035.03,476.84 2036.4,476.88 2037.78,476.92 2039.15,476.95 2040.53,476.99 2041.9,477.02 2043.28,477.06 2044.65,477.09 2046.03,477.12 2047.4,477.15 2048.78,477.18 2050.15,477.2 2051.53,477.23 2052.9,477.25 2054.28,477.28 2055.65,477.3 2057.03,477.32 2058.4,477.34" stroke="#0000ff" stroke-width="9.7" fill="none" stroke-linejoin="round"/><path d="M1234.8,477.34 1236.17,477.32 1237.55,477.3 1238.92,477.28 1240.3,477.25 1241.67,477.23 1243.05,477.2 1244.42,477.18 1245.8,477.15 1247.17,477.12 1248.55,477.09 1249.92,477.06 1251.3,477.02 1252.67,476.99 1254.05,476.95 1255.42,476.92 1256.8,476.88 1258.17,476.84 1259.55,476.8 1260.92,476.75 1262.3,476.71 1263.67,476.66 1265.05,476.61 1266.42,476.56 1267.8,476.51 1269.17,476.46 1270.55,476.4 1271.92,476.34 1273.3,476.28 1274.67,476.22 1276.05,476.15 1277.42,476.08 1278.8,476.01 1280.17,475.94 1281.55,475.86 1282.92,475.78 1284.3,475.7 1285.67,475.62 1287.05,475.53 1288.42,475.44 1289.8,475.34 1291.17,475.24 1292.55,475.14 1293.92,475.04 1295.3,474.93 1296.67,474.82 1298.05,474.7 1299.42,474.58 1300.8,474.46 1302.17,474.33 1303.55,474.2 1304.92,474.06 1306.3,473.92 1307.67,473.77 1309.05,473.62 1310.42,473.46 1311.8,473.3 1313.17,473.13 1314.55,472.96 1315.92,472.78 1317.3,472.59 1318.67,472.4 1320.05,472.21 1321.42,472 1322.8,471.79 1324.17,471.58 1325.55,471.35 1326.92,471.12 1328.3,470.89 1329.67,470.64 1331.05,470.39 1332.42,470.13 1333.8,469.86 1335.17,469.59 1336.55,469.3 1337.92,469.01 1339.3,468.71 1340.67,468.4 1342.05,468.08 1343.42,467.75 1344.8,467.41 1346.17,467.06 1347.55,466.7 1348.92,466.33 1350.3,465.96 1351.67,465.57 1353.05,465.17 1354.42,464.75 1355.8,464.33 1357.17,463.9 1358.55,463.45 1359.92,462.99 1361.3,462.52 1362.67,462.04 1364.05,461.54 1365.42,461.03 1366.8,460.51 1368.17,459.97 1369.55,459.42 1370.92,458.86 1372.3,458.28 1373.67,457.69 1375.05,457.08 1376.42,456.45 1377.8,455.81 1379.17,455.16 1380.55,454.49 1381.92,453.8 1383.3,453.1 1384.67,452.38 1386.05,451.64 1387.42,450.89 1388.8,450.11 1390.17,449.32 1391.55,448.51 1392.92,447.69 1394.3,446.84 1395.67,445.98 1397.05,445.09 1398.42,444.19 1399.79,443.27 1401.17,442.33 1402.54,441.36 1403.92,440.38 1405.29,439.37 1406.67,438.35 1408.04,437.3 1409.42,436.23 1410.79,435.14 1412.17,434.03 1413.54,432.9 1414.92,431.74 1416.29,430.56 1417.67,429.36 1419.04,428.13 1420.42,426.88 1421.79,425.61 1423.17,424.32 1424.54,423 1425.92,421.65 1427.29,420.28 1428.67,418.89 1430.04,417.47 1431.42,416.03 1432.79,414.56 1434.17,413.07 1435.54,411.55 1436.92,410.01 1438.29,408.44 1439.67,406.85 1441.04,405.23 1442.42,403.58 1443.79,401.91 1445.17,400.21 1446.54,398.49 1447.92,396.74 1449.29,394.96 1450.67,393.16 1452.04,391.33 1453.42,389.48 1454.79,387.6 1456.17,385.69 1457.54,383.76 1458.92,381.8 1460.29,379.81 1461.67,377.8 1463.04,375.76 1464.42,373.7 1465.79,371.61 1467.17,369.5 1468.54,367.36 1469.92,365.19 1471.29,363 1472.67,360.78 1474.04,358.54 1475.42,356.28 1476.79,353.99 1478.17,351.67 1479.54,349.33 1480.92,346.97 1482.29,344.58 1483.67,342.17 1485.04,339.74 1486.42,337.28 1487.79,334.8 1489.17,332.3 1490.54,329.77 1491.92,327.22 1493.29,324.65 1494.67,322.06 1496.04,319.45 1497.42,316.81 1498.79,314.15 1500.17,311.48 1501.54,308.77 1502.92,306.05 1504.29,303.31 1505.67,300.54 1507.04,297.75 1508.42,294.94 1509.79,292.11 1511.17,289.25 1512.54,286.37 1513.92,283.46 1515.29,280.54 1516.67,277.58 1518.04,274.6 1519.42,271.6 1520.79,268.56 1522.17,265.5 1523.54,262.41 1524.92,259.29 1526.29,256.15 1527.67,252.96 1529.04,249.75 1530.42,246.51 1531.79,243.23 1533.17,239.91 1534.54,236.56 1535.92,233.18 1537.29,229.76 1538.67,226.31 1540.04,222.82 1541.42,219.29 1542.79,215.73 1544.17,212.14 1545.54,208.52 1546.92,204.86 1548.29,201.18 1549.67,197.47 1551.04,193.74 1552.42,189.99 1553.79,186.22 1555.17,182.44 1556.54,178.65 1557.92,174.86 1559.29,171.07 1560.67,167.29 1562.04,163.53 1563.42,159.78 1564.79,156.06 1566.16,152.37 1567.54,148.73 1568.91,145.13 1570.29,141.58 1571.66,138.1 1573.04,134.69 1574.41,131.35 1575.79,128.09 1577.16,124.92 1578.54,121.84 1579.91,118.86 1581.29,115.99 1582.66,113.23 1584.04,110.58 1585.41,108.05 1586.79,105.63 1588.16,103.34 1589.54,101.18 1590.91,99.14 1592.29,97.22 1593.66,95.43 1595.04,93.77 1596.41,92.22 1597.79,90.8 1599.16,89.49 1600.54,88.29 1601.91,87.21 1603.29,86.23 1604.66,85.35 1606.04,84.57 1607.41,83.87 1608.79,83.27 1610.16,82.74 1611.54,82.29 1612.91,81.91 1614.29,81.59 1615.66,81.33 1617.04,81.13 1618.41,80.97 1619.79,80.86 1621.16,80.79 1622.54,80.76 1623.91,80.76 1625.29,80.79 1626.66,80.85 1628.04,80.93 1629.41,81.04 1630.79,81.17 1632.16,81.32 1633.54,81.91 1634.91,82.88 1636.29,83.73 1637.66,84.48 1639.04,85.14 1640.41,85.72 1641.79,86.24 1643.16,86.7 1644.54,87.11 1645.91,87.49 1647.29,87.7 1648.66,87.79 1650.04,87.94 1651.41,88.16 1652.79,88.44 1654.16,88.78 1655.54,89.19 1656.91,89.66 1658.29,90.19 1659.66,90.79 1661.04,91.45 1662.41,92.18 1663.79,92.96 1665.16,93.82 1666.54,94.73 1667.91,95.71 1669.29,96.75 1670.66,97.85 1672.04,99.02 1673.41,100.25 1674.79,101.53 1676.16,102.88 1677.54,104.29 1678.91,105.76 1680.29,107.28 1681.66,108.86 1683.04,110.5 1684.41,112.19 1685.79,113.94 1687.16,115.74 1688.54,117.59 1689.91,119.49 1691.29,121.44 1692.66,123.44 1694.04,125.48 1695.41,127.57 1696.79,129.71 1698.16,131.88 1699.54,134.09 1700.91,136.34 1702.29,138.63 1703.66,140.96 1705.04,143.31 1706.41,145.7 1707.79,148.12 1709.16,150.57 1710.54,153.04 1711.91,155.54 1713.29,158.06 1714.66,160.6 1716.04,163.16 1717.41,165.75 1718.79,168.35 1720.16,170.96 1721.54,173.59 1722.91,176.23 1724.29,178.89 1725.66,181.55 1727.04,184.23 1728.41,186.91 1729.78,189.6 1731.16,192.3 1732.53,195.01 1733.91,197.71 1735.28,200.43 1736.66,203.14 1738.03,205.86 1739.41,208.59 1740.78,211.31 1742.16,214.03 1743.53,216.76 1744.91,219.49 1746.28,222.21 1747.66,224.94 1749.03,227.67 1750.41,230.39 1751.78,233.12 1753.16,235.84 1754.53,238.56 1755.91,241.28 1757.28,244 1758.66,246.72 1760.03,249.43 1761.41,252.14 1762.78,254.85 1764.16,257.56 1765.53,260.26 1766.91,262.96 1768.28,265.66 1769.66,268.35 1771.03,271.04 1772.41,273.72 1773.78,276.4 1775.16,279.07 1776.53,281.74 1777.91,284.4 1779.28,287.05 1780.66,289.7 1782.03,292.34 1783.41,294.98 1784.78,297.6 1786.16,300.22 1787.53,302.82 1788.91,305.42 1790.28,308 1791.66,310.58 1793.03,313.14 1794.41,315.69 1795.78,318.23 1797.16,320.75 1798.53,323.26 1799.91,325.75 1801.28,328.23 1802.66,330.7 1804.03,333.15 1805.41,335.58 1806.78,337.99 1808.16,340.39 1809.53,342.76 1810.91,345.12 1812.28,347.46 1813.66,349.78 1815.03,352.08 1816.41,354.35 1817.78,356.61 1819.16,358.84 1820.53,361.05 1821.91,363.24 1823.28,365.41 1824.66,367.55 1826.03,369.67 1827.41,371.77 1828.78,373.84 1830.16,375.89 1831.53,377.91 1832.91,379.91 1834.28,381.89 1835.66,383.84 1837.03,385.76 1838.41,387.66 1839.78,389.53 1841.16,391.38 1842.53,393.2 1843.91,395 1845.28,396.77 1846.66,398.52 1848.03,400.24 1849.41,401.93 1850.78,403.6 1852.16,405.24 1853.53,406.86 1854.91,408.45 1856.28,410.02 1857.66,411.56 1859.03,413.08 1860.41,414.57 1861.78,416.04 1863.16,417.48 1864.53,418.9 1865.91,420.29 1867.28,421.66 1868.66,423 1870.03,424.32 1871.41,425.61 1872.78,426.89 1874.16,428.13 1875.53,429.36 1876.91,430.56 1878.28,431.74 1879.66,432.9 1881.03,434.03 1882.41,435.14 1883.78,436.23 1885.16,437.3 1886.53,438.35 1887.91,439.37 1889.28,440.38 1890.66,441.36 1892.03,442.33 1893.41,443.27 1894.78,444.19 1896.15,445.09 1897.53,445.98 1898.9,446.84 1900.28,447.69 1901.65,448.52 1903.03,449.32 1904.4,450.11 1905.78,450.89 1907.15,451.64 1908.53,452.38 1909.9,453.1 1911.28,453.8 1912.65,454.49 1914.03,455.16 1915.4,455.81 1916.78,456.45 1918.15,457.08 1919.53,457.69 1920.9,458.28 1922.28,458.86 1923.65,459.42 1925.03,459.97 1926.4,460.51 1927.78,461.03 1929.15,461.54 1930.53,462.04 1931.9,462.52 1933.28,462.99 1934.65,463.45 1936.03,463.9 1937.4,464.33 1938.78,464.75 1940.15,465.17 1941.53,465.57 1942.9,465.96 1944.28,466.33 1945.65,466.7 1947.03,467.06 1948.4,467.41 1949.78,467.75 1951.15,468.08 1952.53,468.4 1953.9,468.71 1955.28,469.01 1956.65,469.3 1958.03,469.59 1959.4,469.86 1960.78,470.13 1962.15,470.39 1963.53,470.64 1964.9,470.89 1966.28,471.12 1967.65,471.35 1969.03,471.58 1970.4,471.79 1971.78,472 1973.15,472.21 1974.53,472.4 1975.9,472.59 1977.28,472.78 1978.65,472.96 1980.03,473.13 1981.4,473.3 1982.78,473.46 1984.15,473.62 1985.53,473.77 1986.9,473.92 1988.28,474.06 1989.65,474.2 1991.03,474.33 1992.4,474.46 1993.78,474.58 1995.15,474.7 1996.53,474.82 1997.9,474.93 1999.28,475.04 2000.65,475.14 2002.03,475.24 2003.4,475.34 2004.78,475.44 2006.15,475.53 2007.53,475.62 2008.9,475.7 2010.28,475.78 2011.65,475.86 2013.03,475.94 2014.4,476.01 2015.78,476.08 2017.15,476.15 2018.53,476.22 2019.9,476.28 2021.28,476.34 2022.65,476.4 2024.03,476.46 2025.4,476.51 2026.78,476.56 2028.15,476.61 2029.53,476.66 2030.9,476.71 2032.28,476.75 2033.65,476.8 2035.03,476.84 2036.4,476.88 2037.78,476.92 2039.15,476.95 2040.53,476.99 2041.9,477.02 2043.28,477.06 2044.65,477.09 2046.03,477.12 2047.4,477.15 2048.78,477.18 2050.15,477.2 2051.53,477.23 2052.9,477.25 2054.28,477.28 2055.65,477.3 2057.03,477.32 2058.4,477.34" stroke="#ff0000" stroke-width="9.7" fill="none" stroke-linejoin="round" stroke-dasharray="29.5 29"/><g font-family="'Liberation Sans', Arial, Helvetica, sans-serif" font-size="48.3"><text transform="translate(1234.8 548) scale(1 1.055)" text-anchor="middle">3</text><text transform="translate(1222.57 548) scale(1 1.055)" text-anchor="end">&#8722;</text><text transform="translate(1372.07 548) scale(1 1.055)" text-anchor="middle">2</text><text transform="translate(1359.84 548) scale(1 1.055)" text-anchor="end">&#8722;</text><text transform="translate(1509.33 548) scale(1 1.055)" text-anchor="middle">1</text><text transform="translate(1497.1 548) scale(1 1.055)" text-anchor="end">&#8722;</text><text transform="translate(1646.6 548) scale(1 1.055)" text-anchor="middle">0</text><text transform="translate(1783.87 548) scale(1 1.055)" text-anchor="middle">1</text><text transform="translate(1921.13 548) scale(1 1.055)" text-anchor="middle">2</text><text transform="translate(2058.4 548) scale(1 1.055)" text-anchor="middle">3</text><text transform="translate(1221.2 496.1) scale(1 1.055)" text-anchor="end">0</text><text transform="translate(1221.2 393.3) scale(1 1.055)" text-anchor="end">0.1</text><text transform="translate(1221.2 290.5) scale(1 1.055)" text-anchor="end">0.2</text><text transform="translate(1221.2 187.7) scale(1 1.055)" text-anchor="end">0.3</text><text transform="translate(1221.2 84.9) scale(1 1.055)" text-anchor="end">0.4</text></g><rect x="1745" y="11.9" width="314" height="196" fill="#fff" stroke="#000" stroke-width="2.2"/><path d="M1773.8 68.3H1920.3" stroke="#0000ff" stroke-width="9.7"/><path d="M1773.8 158.3H1920.3" stroke="#ff0000" stroke-width="9.7" stroke-dasharray="29.5 29"/><g font-family="'Liberation Serif', 'Times New Roman', serif" font-size="51.5" class="cm"><text x="1935.67" y="82">Thy</text><text x="1933.75" y="175.8">Sim</text></g><g font-family="'Liberation Serif', 'Times New Roman', serif" class="cm"><text x="1567.03" y="605.8" font-size="51.5" font-style="italic">x</text><text x="1608.65" y="605.8" font-size="53.5">(</text><text x="1625.02" y="605.8" font-size="51.5">mm</text><text x="1705.68" y="605.8" font-size="53.5">)</text></g><g font-family="'Liberation Serif', 'Times New Roman', serif" class="cm" transform="translate(1120.5 342.65) rotate(-90)"><text x="-0.6" y="0" font-size="51.5" font-style="italic">S</text><text x="39.05" y="0" font-size="53.5">(</text><text x="58.43" y="0" font-size="51.5" font-style="italic">x</text><text x="85.29" y="0" font-size="51.5" font-style="italic">,</text><text x="104.24" y="0" font-size="51.5">0</text><text x="129.88" y="0" font-size="53.5">)</text></g><g font-family="'Liberation Serif', 'Times New Roman', serif" class="cm"><text x="1619.24" y="664.5" font-size="53.5">(</text><text x="1634.83" y="664.5" font-size="51.5">c</text><text x="1657.28" y="664.5" font-size="53.5">)</text></g><g><rect x="136.3" y="752.9" width="14.28" height="64.7" fill="#00008f"/><rect x="149.98" y="752.9" width="14.28" height="64.7" fill="#00008f"/><rect x="163.67" y="752.9" width="14.28" height="64.7" fill="#0000af"/><rect x="177.35" y="752.9" width="14.28" height="64.7" fill="#0000bf"/><rect x="191.03" y="752.9" width="14.28" height="64.7" fill="#0000cf"/><rect x="204.71" y="752.9" width="14.28" height="64.7" fill="#0000df"/><rect x="218.4" y="752.9" width="14.28" height="64.7" fill="#0000ef"/><rect x="232.08" y="752.9" width="14.28" height="64.7" fill="#0000ff"/><rect x="245.76" y="752.9" width="14.28" height="64.7" fill="#0010ff"/><rect x="259.45" y="752.9" width="14.28" height="64.7" fill="#0020ff"/><rect x="273.13" y="752.9" width="14.28" height="64.7" fill="#0030ff"/><rect x="286.81" y="752.9" width="14.28" height="64.7" fill="#0040ff"/><rect x="300.49" y="752.9" width="14.28" height="64.7" fill="#0050ff"/><rect x="314.18" y="752.9" width="14.28" height="64.7" fill="#0060ff"/><rect x="327.86" y="752.9" width="14.28" height="64.7" fill="#0070ff"/><rect x="341.54" y="752.9" width="14.28" height="64.7" fill="#0080ff"/><rect x="355.23" y="752.9" width="14.28" height="64.7" fill="#008fff"/><rect x="368.91" y="752.9" width="14.28" height="64.7" fill="#009fff"/><rect x="382.59" y="752.9" width="14.28" height="64.7" fill="#00afff"/><rect x="396.27" y="752.9" width="14.28" height="64.7" fill="#00bfff"/><rect x="409.96" y="752.9" width="14.28" height="64.7" fill="#00cfff"/><rect x="423.64" y="752.9" width="14.28" height="64.7" fill="#00dfff"/><rect x="437.32" y="752.9" width="14.28" height="64.7" fill="#00efff"/><rect x="451" y="752.9" width="14.28" height="64.7" fill="#00ffff"/><rect x="464.69" y="752.9" width="14.28" height="64.7" fill="#10ffef"/><rect x="478.37" y="752.9" width="14.28" height="64.7" fill="#20ffdf"/><rect x="492.05" y="752.9" width="14.28" height="64.7" fill="#30ffcf"/><rect x="505.74" y="752.9" width="14.28" height="64.7" fill="#40ffbf"/><rect x="519.42" y="752.9" width="14.28" height="64.7" fill="#50ffaf"/><rect x="533.1" y="752.9" width="14.28" height="64.7" fill="#60ff9f"/><rect x="546.78" y="752.9" width="14.28" height="64.7" fill="#70ff8f"/><rect x="560.47" y="752.9" width="14.28" height="64.7" fill="#80ff80"/><rect x="574.15" y="752.9" width="14.28" height="64.7" fill="#8fff70"/><rect x="587.83" y="752.9" width="14.28" height="64.7" fill="#9fff60"/><rect x="601.52" y="752.9" width="14.28" height="64.7" fill="#afff50"/><rect x="615.2" y="752.9" width="14.28" height="64.7" fill="#bfff40"/><rect x="628.88" y="752.9" width="14.28" height="64.7" fill="#cfff30"/><rect x="642.56" y="752.9" width="14.28" height="64.7" fill="#dfff20"/><rect x="656.25" y="752.9" width="14.28" height="64.7" fill="#efff10"/><rect x="669.93" y="752.9" width="14.28" height="64.7" fill="#ffff00"/><rect x="683.61" y="752.9" width="14.28" height="64.7" fill="#ffef00"/><rect x="697.3" y="752.9" width="14.28" height="64.7" fill="#ffdf00"/><rect x="710.98" y="752.9" width="14.28" height="64.7" fill="#ffcf00"/><rect x="724.66" y="752.9" width="14.28" height="64.7" fill="#ffbf00"/><rect x="738.34" y="752.9" width="14.28" height="64.7" fill="#ffaf00"/><rect x="752.03" y="752.9" width="14.28" height="64.7" fill="#ff9f00"/><rect x="765.71" y="752.9" width="14.28" height="64.7" fill="#ff8f00"/><rect x="779.39" y="752.9" width="14.28" height="64.7" fill="#ff8000"/><rect x="793.08" y="752.9" width="14.28" height="64.7" fill="#ff7000"/><rect x="806.76" y="752.9" width="14.28" height="64.7" fill="#ff6000"/><rect x="820.44" y="752.9" width="14.28" height="64.7" fill="#ff5000"/><rect x="834.12" y="752.9" width="14.28" height="64.7" fill="#ff4000"/><rect x="847.81" y="752.9" width="14.28" height="64.7" fill="#ff3000"/><rect x="861.49" y="752.9" width="14.28" height="64.7" fill="#ff2000"/><rect x="875.17" y="752.9" width="14.28" height="64.7" fill="#ff1000"/><rect x="888.85" y="752.9" width="14.28" height="64.7" fill="#ff0000"/><rect x="902.54" y="752.9" width="14.28" height="64.7" fill="#ef0000"/><rect x="916.22" y="752.9" width="14.28" height="64.7" fill="#df0000"/><rect x="929.9" y="752.9" width="14.28" height="64.7" fill="#cf0000"/><rect x="943.59" y="752.9" width="14.28" height="64.7" fill="#bf0000"/><rect x="957.27" y="752.9" width="14.28" height="64.7" fill="#af0000"/><rect x="970.95" y="752.9" width="14.28" height="64.7" fill="#9f0000"/><rect x="984.63" y="752.9" width="14.28" height="64.7" fill="#800000"/><rect x="998.32" y="752.9" width="13.68" height="64.7" fill="#800000"/><path d="M298.02 752.9v8.6M298.02 817.6v-8.6" stroke="#000" stroke-width="2.1"/><path d="M459.73 752.9v8.6M459.73 817.6v-8.6" stroke="#000" stroke-width="2.1"/><path d="M621.45 752.9v8.6M621.45 817.6v-8.6" stroke="#000" stroke-width="2.1"/><path d="M783.17 752.9v8.6M783.17 817.6v-8.6" stroke="#000" stroke-width="2.1"/><path d="M944.89 752.9v8.6M944.89 817.6v-8.6" stroke="#000" stroke-width="2.1"/><rect x="136.3" y="752.9" width="875.7" height="64.7" fill="none" stroke="#000" stroke-width="2.3"/><g font-family="'Liberation Sans', Arial, Helvetica, sans-serif" font-size="48.3"><text transform="translate(136.3 739.9) scale(1 1.055)" text-anchor="middle">0</text><text transform="translate(298.02 739.9) scale(1 1.055)" text-anchor="middle">0.02</text><text transform="translate(459.73 739.9) scale(1 1.055)" text-anchor="middle">0.04</text><text transform="translate(621.45 739.9) scale(1 1.055)" text-anchor="middle">0.06</text><text transform="translate(783.17 739.9) scale(1 1.055)" text-anchor="middle">0.08</text><text transform="translate(944.89 739.9) scale(1 1.055)" text-anchor="middle">0.1</text></g></g><clipPath id="c3"><rect x="140.3" y="845" width="344.7" height="345.15"/></clipPath><g clip-path="url(#c3)"><rect x="140.3" y="845" width="344.7" height="345.15" fill="#00008f"/><circle cx="312.65" cy="1017.35" r="113.18" fill="none" stroke="#00009f" stroke-width="40.68"/><circle cx="312.65" cy="1017.35" r="113.18" fill="none" stroke="#0000af" stroke-width="37.69"/><circle cx="312.65" cy="1017.35" r="113.18" fill="none" stroke="#0000bf" stroke-width="35.78"/><circle cx="312.65" cy="1017.35" r="113.18" fill="none" stroke="#0000cf" stroke-width="34.33"/><circle cx="312.65" cy="1017.35" r="113.18" fill="none" stroke="#0000df" stroke-width="33.14"/><circle cx="312.65" cy="1017.35" r="113.18" fill="none" stroke="#0000ef" stroke-width="32.13"/><circle cx="312.65" cy="1017.35" r="113.18" fill="none" stroke="#0000ff" stroke-width="31.24"/><circle cx="312.65" cy="1017.35" r="113.18" fill="none" stroke="#0010ff" stroke-width="30.44"/><circle cx="312.65" cy="1017.35" r="113.18" fill="none" stroke="#0020ff" stroke-width="29.7"/><circle cx="312.65" cy="1017.35" r="113.18" fill="none" stroke="#0030ff" stroke-width="29.02"/><circle cx="312.65" cy="1017.35" r="113.18" fill="none" stroke="#0040ff" stroke-width="28.39"/><circle cx="312.65" cy="1017.35" r="113.18" fill="none" stroke="#0050ff" stroke-width="27.8"/><circle cx="312.65" cy="1017.35" r="113.18" fill="none" stroke="#0060ff" stroke-width="27.23"/><circle cx="312.65" cy="1017.35" r="113.18" fill="none" stroke="#0070ff" stroke-width="26.69"/><circle cx="312.65" cy="1017.35" r="113.18" fill="none" stroke="#0080ff" stroke-width="26.18"/><circle cx="312.65" cy="1017.35" r="113.18" fill="none" stroke="#008fff" stroke-width="25.69"/><circle cx="312.65" cy="1017.35" r="113.18" fill="none" stroke="#009fff" stroke-width="25.21"/><circle cx="312.65" cy="1017.35" r="113.18" fill="none" stroke="#00afff" stroke-width="24.75"/><circle cx="312.65" cy="1017.35" r="113.18" fill="none" stroke="#00bfff" stroke-width="24.3"/><circle cx="312.65" cy="1017.35" r="113.18" fill="none" stroke="#00cfff" stroke-width="23.87"/><circle cx="312.65" cy="1017.35" r="113.18" fill="none" stroke="#00dfff" stroke-width="23.44"/><circle cx="312.65" cy="1017.35" r="113.18" fill="none" stroke="#00efff" stroke-width="23.03"/><circle cx="312.65" cy="1017.35" r="113.18" fill="none" stroke="#00ffff" stroke-width="22.62"/><circle cx="312.65" cy="1017.35" r="113.18" fill="none" stroke="#10ffef" stroke-width="22.22"/><circle cx="312.65" cy="1017.35" r="113.18" fill="none" stroke="#20ffdf" stroke-width="21.83"/><circle cx="312.65" cy="1017.35" r="113.18" fill="none" stroke="#30ffcf" stroke-width="21.45"/><circle cx="312.65" cy="1017.35" r="113.18" fill="none" stroke="#40ffbf" stroke-width="21.07"/><circle cx="312.65" cy="1017.35" r="113.18" fill="none" stroke="#50ffaf" stroke-width="20.69"/><circle cx="312.65" cy="1017.35" r="113.18" fill="none" stroke="#60ff9f" stroke-width="20.32"/><circle cx="312.65" cy="1017.35" r="113.18" fill="none" stroke="#70ff8f" stroke-width="19.95"/><circle cx="312.65" cy="1017.35" r="113.18" fill="none" stroke="#80ff80" stroke-width="19.58"/><circle cx="312.65" cy="1017.35" r="113.18" fill="none" stroke="#8fff70" stroke-width="19.22"/><circle cx="312.65" cy="1017.35" r="113.18" fill="none" stroke="#9fff60" stroke-width="18.86"/><circle cx="312.65" cy="1017.35" r="113.18" fill="none" stroke="#afff50" stroke-width="18.5"/><circle cx="312.65" cy="1017.35" r="113.18" fill="none" stroke="#bfff40" stroke-width="18.14"/><circle cx="312.65" cy="1017.35" r="113.18" fill="none" stroke="#cfff30" stroke-width="17.78"/><circle cx="312.65" cy="1017.35" r="113.18" fill="none" stroke="#dfff20" stroke-width="17.42"/><circle cx="312.65" cy="1017.35" r="113.18" fill="none" stroke="#efff10" stroke-width="17.06"/><circle cx="312.65" cy="1017.35" r="113.18" fill="none" stroke="#ffff00" stroke-width="16.7"/><circle cx="312.65" cy="1017.35" r="113.18" fill="none" stroke="#ffef00" stroke-width="16.34"/><circle cx="312.65" cy="1017.35" r="113.18" fill="none" stroke="#ffdf00" stroke-width="15.97"/><circle cx="312.65" cy="1017.35" r="113.18" fill="none" stroke="#ffcf00" stroke-width="15.6"/><circle cx="312.65" cy="1017.35" r="113.18" fill="none" stroke="#ffbf00" stroke-width="15.23"/><circle cx="312.65" cy="1017.35" r="113.18" fill="none" stroke="#ffaf00" stroke-width="14.86"/><circle cx="312.65" cy="1017.35" r="113.18" fill="none" stroke="#ff9f00" stroke-width="14.48"/><circle cx="312.65" cy="1017.35" r="113.18" fill="none" stroke="#ff8f00" stroke-width="14.09"/><circle cx="312.65" cy="1017.35" r="113.18" fill="none" stroke="#ff8000" stroke-width="13.7"/><circle cx="312.65" cy="1017.35" r="113.18" fill="none" stroke="#ff7000" stroke-width="13.3"/><circle cx="312.65" cy="1017.35" r="113.18" fill="none" stroke="#ff6000" stroke-width="12.9"/><circle cx="312.65" cy="1017.35" r="113.18" fill="none" stroke="#ff5000" stroke-width="12.48"/><circle cx="312.65" cy="1017.35" r="113.18" fill="none" stroke="#ff4000" stroke-width="12.05"/><circle cx="312.65" cy="1017.35" r="113.18" fill="none" stroke="#ff3000" stroke-width="11.61"/><circle cx="312.65" cy="1017.35" r="113.18" fill="none" stroke="#ff2000" stroke-width="11.15"/><circle cx="312.65" cy="1017.35" r="113.18" fill="none" stroke="#ff1000" stroke-width="10.67"/><circle cx="312.65" cy="1017.35" r="113.18" fill="none" stroke="#ff0000" stroke-width="10.17"/><circle cx="312.65" cy="1017.35" r="113.18" fill="none" stroke="#ef0000" stroke-width="9.65"/><circle cx="312.65" cy="1017.35" r="113.18" fill="none" stroke="#df0000" stroke-width="9.09"/><circle cx="312.65" cy="1017.35" r="113.18" fill="none" stroke="#cf0000" stroke-width="8.49"/><circle cx="312.65" cy="1017.35" r="113.18" fill="none" stroke="#bf0000" stroke-width="7.84"/><circle cx="312.65" cy="1017.35" r="113.18" fill="none" stroke="#af0000" stroke-width="7.12"/><circle cx="312.65" cy="1017.35" r="113.18" fill="none" stroke="#9f0000" stroke-width="6.29"/><circle cx="312.65" cy="1017.35" r="113.18" fill="none" stroke="#8f0000" stroke-width="5.29"/><circle cx="312.65" cy="1017.35" r="113.18" fill="none" stroke="#800000" stroke-width="3.95"/></g><path d="M169.03 845v3.3M169.03 1190.15v-3.3M140.3 873.76h3.3M485 873.76h-3.3M312.65 845v3.3M312.65 1190.15v-3.3M140.3 1017.58h3.3M485 1017.58h-3.3M456.27 845v3.3M456.27 1190.15v-3.3M140.3 1161.39h3.3M485 1161.39h-3.3" stroke="#000" stroke-width="2.1"/><rect x="140.3" y="845" width="344.7" height="345.15" fill="none" stroke="#000" stroke-width="2.3"/><g font-family="'Liberation Sans', Arial, Helvetica, sans-serif" font-size="48.3"><text transform="translate(169.03 1250.05) scale(1 1.055)" text-anchor="middle">5</text><text transform="translate(156.79 1250.05) scale(1 1.055)" text-anchor="end">&#8722;</text><text transform="translate(127.2 892.06) scale(1 1.055)" text-anchor="end">&#8722;5</text><text transform="translate(312.65 1250.05) scale(1 1.055)" text-anchor="middle">0</text><text transform="translate(127.2 1035.88) scale(1 1.055)" text-anchor="end">0</text><text transform="translate(456.27 1250.05) scale(1 1.055)" text-anchor="middle">5</text><text transform="translate(127.2 1179.69) scale(1 1.055)" text-anchor="end">5</text></g><g font-family="'Liberation Serif', 'Times New Roman', serif" class="cm"><text x="232.58" y="1307.75" font-size="51.5" font-style="italic">x</text><text x="274.2" y="1307.75" font-size="53.5">(</text><text x="290.57" y="1307.75" font-size="51.5">mm</text><text x="371.23" y="1307.75" font-size="53.5">)</text></g><g font-family="'Liberation Serif', 'Times New Roman', serif" class="cm" transform="translate(36.3 1094.98) rotate(-90)"><text x="4.3" y="0" font-size="51.5" font-style="italic">y</text><text x="39.05" y="0" font-size="53.5">(</text><text x="55.42" y="0" font-size="51.5">mm</text><text x="136.08" y="0" font-size="53.5">)</text></g><clipPath id="c4"><rect x="666.3" y="845" width="344.7" height="345.15"/></clipPath><g clip-path="url(#c4)"><rect x="666.3" y="845" width="344.7" height="345.15" fill="#00008f"/><circle cx="840.95" cy="1016.34" r="112.75" fill="none" stroke="#00009f" stroke-width="35.07"/><circle cx="840.95" cy="1016.34" r="112.75" fill="none" stroke="#0000af" stroke-width="32.42"/><circle cx="840.95" cy="1016.34" r="112.75" fill="none" stroke="#0000bf" stroke-width="30.72"/><circle cx="840.95" cy="1016.34" r="112.75" fill="none" stroke="#0000cf" stroke-width="29.42"/><circle cx="840.95" cy="1016.34" r="112.75" fill="none" stroke="#0000df" stroke-width="28.37"/><circle cx="840.95" cy="1016.34" r="112.75" fill="none" stroke="#0000ef" stroke-width="27.46"/><circle cx="840.95" cy="1016.34" r="112.75" fill="none" stroke="#0000ff" stroke-width="26.66"/><circle cx="840.95" cy="1016.34" r="112.75" fill="none" stroke="#0010ff" stroke-width="25.94"/><circle cx="840.95" cy="1016.34" r="112.75" fill="none" stroke="#0020ff" stroke-width="25.28"/><circle cx="840.95" cy="1016.34" r="112.75" fill="none" stroke="#0030ff" stroke-width="24.66"/><circle cx="840.95" cy="1016.34" r="112.75" fill="none" stroke="#0040ff" stroke-width="24.09"/><circle cx="840.95" cy="1016.34" r="112.75" fill="none" stroke="#0050ff" stroke-width="23.55"/><circle cx="840.95" cy="1016.34" r="112.75" fill="none" stroke="#0060ff" stroke-width="23.04"/><circle cx="840.95" cy="1016.34" r="112.75" fill="none" stroke="#0070ff" stroke-width="22.55"/><circle cx="840.95" cy="1016.34" r="112.75" fill="none" stroke="#0080ff" stroke-width="22.08"/><circle cx="840.95" cy="1016.34" r="112.75" fill="none" stroke="#008fff" stroke-width="21.63"/><circle cx="840.95" cy="1016.34" r="112.75" fill="none" stroke="#009fff" stroke-width="21.19"/><circle cx="840.95" cy="1016.34" r="112.75" fill="none" stroke="#00afff" stroke-width="20.77"/><circle cx="840.95" cy="1016.34" r="112.75" fill="none" stroke="#00bfff" stroke-width="20.36"/><circle cx="840.95" cy="1016.34" r="112.75" fill="none" stroke="#00cfff" stroke-width="19.96"/><circle cx="840.95" cy="1016.34" r="112.75" fill="none" stroke="#00dfff" stroke-width="19.57"/><circle cx="840.95" cy="1016.34" r="112.75" fill="none" stroke="#00efff" stroke-width="19.18"/><circle cx="840.95" cy="1016.34" r="112.75" fill="none" stroke="#00ffff" stroke-width="18.8"/><circle cx="840.95" cy="1016.34" r="112.75" fill="none" stroke="#10ffef" stroke-width="18.43"/><circle cx="840.95" cy="1016.34" r="112.75" fill="none" stroke="#20ffdf" stroke-width="18.07"/><circle cx="840.95" cy="1016.34" r="112.75" fill="none" stroke="#30ffcf" stroke-width="17.7"/><circle cx="840.95" cy="1016.34" r="112.75" fill="none" stroke="#40ffbf" stroke-width="17.35"/><circle cx="840.95" cy="1016.34" r="112.75" fill="none" stroke="#50ffaf" stroke-width="16.99"/><circle cx="840.95" cy="1016.34" r="112.75" fill="none" stroke="#60ff9f" stroke-width="16.64"/><circle cx="840.95" cy="1016.34" r="112.75" fill="none" stroke="#70ff8f" stroke-width="16.28"/><circle cx="840.95" cy="1016.34" r="112.75" fill="none" stroke="#80ff80" stroke-width="15.93"/><circle cx="840.95" cy="1016.34" r="112.75" fill="none" stroke="#8fff70" stroke-width="15.59"/><circle cx="840.95" cy="1016.34" r="112.75" fill="none" stroke="#9fff60" stroke-width="15.24"/><circle cx="840.95" cy="1016.34" r="112.75" fill="none" stroke="#afff50" stroke-width="14.89"/><circle cx="840.95" cy="1016.34" r="112.75" fill="none" stroke="#bfff40" stroke-width="14.53"/><circle cx="840.95" cy="1016.34" r="112.75" fill="none" stroke="#cfff30" stroke-width="14.18"/><circle cx="840.95" cy="1016.34" r="112.75" fill="none" stroke="#dfff20" stroke-width="13.82"/><circle cx="840.95" cy="1016.34" r="112.75" fill="none" stroke="#efff10" stroke-width="13.47"/><circle cx="840.95" cy="1016.34" r="112.75" fill="none" stroke="#ffff00" stroke-width="13.1"/><circle cx="840.95" cy="1016.34" r="112.75" fill="none" stroke="#ffef00" stroke-width="12.74"/><circle cx="840.95" cy="1016.34" r="112.75" fill="none" stroke="#ffdf00" stroke-width="12.36"/><circle cx="840.95" cy="1016.34" r="112.75" fill="none" stroke="#ffcf00" stroke-width="11.98"/><circle cx="840.95" cy="1016.34" r="112.75" fill="none" stroke="#ffbf00" stroke-width="11.59"/><circle cx="840.95" cy="1016.34" r="112.75" fill="none" stroke="#ffaf00" stroke-width="11.2"/><circle cx="840.95" cy="1016.34" r="112.75" fill="none" stroke="#ff9f00" stroke-width="10.79"/><circle cx="840.95" cy="1016.34" r="112.75" fill="none" stroke="#ff8f00" stroke-width="10.37"/><circle cx="840.95" cy="1016.34" r="112.75" fill="none" stroke="#ff8000" stroke-width="9.93"/><circle cx="840.95" cy="1016.34" r="112.75" fill="none" stroke="#ff7000" stroke-width="9.48"/><circle cx="840.95" cy="1016.34" r="112.75" fill="none" stroke="#ff6000" stroke-width="9"/><circle cx="840.95" cy="1016.34" r="112.75" fill="none" stroke="#ff5000" stroke-width="8.49"/><circle cx="840.95" cy="1016.34" r="112.75" fill="none" stroke="#ff4000" stroke-width="7.96"/><circle cx="840.95" cy="1016.34" r="112.75" fill="none" stroke="#ff3000" stroke-width="7.37"/><circle cx="840.95" cy="1016.34" r="112.75" fill="none" stroke="#ff2000" stroke-width="6.73"/><circle cx="840.95" cy="1016.34" r="112.75" fill="none" stroke="#ff1000" stroke-width="6.01"/><circle cx="840.95" cy="1016.34" r="112.75" fill="none" stroke="#ff0000" stroke-width="5.15"/><circle cx="840.95" cy="1016.34" r="112.75" fill="none" stroke="#ef0000" stroke-width="4.05"/><circle cx="840.95" cy="1016.34" r="112.75" fill="none" stroke="#df0000" stroke-width="2.24"/><ellipse cx="827.21" cy="904.44" rx="11.71" ry="4.42" transform="rotate(-7 827.21 904.44)" fill="#df0000"/><ellipse cx="827.21" cy="904.44" rx="10.77" ry="4.07" transform="rotate(-7 827.21 904.44)" fill="#cf0000"/><ellipse cx="827.21" cy="904.44" rx="9.76" ry="3.69" transform="rotate(-7 827.21 904.44)" fill="#bf0000"/><ellipse cx="827.21" cy="904.44" rx="8.65" ry="3.27" transform="rotate(-7 827.21 904.44)" fill="#af0000"/><ellipse cx="827.21" cy="904.44" rx="7.4" ry="2.8" transform="rotate(-7 827.21 904.44)" fill="#9f0000"/><ellipse cx="827.21" cy="904.44" rx="5.93" ry="2.24" transform="rotate(-7 827.21 904.44)" fill="#8f0000"/><ellipse cx="827.21" cy="904.44" rx="3.97" ry="1.5" transform="rotate(-7 827.21 904.44)" fill="#800000"/><ellipse cx="776.28" cy="923.99" rx="10.11" ry="4.04" transform="rotate(-35 776.28 923.99)" fill="#df0000"/><ellipse cx="776.28" cy="923.99" rx="9.01" ry="3.6" transform="rotate(-35 776.28 923.99)" fill="#cf0000"/><ellipse cx="776.28" cy="923.99" rx="7.79" ry="3.12" transform="rotate(-35 776.28 923.99)" fill="#bf0000"/><ellipse cx="776.28" cy="923.99" rx="6.36" ry="2.54" transform="rotate(-35 776.28 923.99)" fill="#af0000"/><ellipse cx="776.28" cy="923.99" rx="4.53" ry="1.81" transform="rotate(-35 776.28 923.99)" fill="#9f0000"/><ellipse cx="776.28" cy="923.99" rx="0.98" ry="0.39" transform="rotate(-35 776.28 923.99)" fill="#8f0000"/><ellipse cx="888.6" cy="914.16" rx="11.5" ry="4.09" transform="rotate(25 888.6 914.16)" fill="#df0000"/><ellipse cx="888.6" cy="914.16" rx="10.39" ry="3.69" transform="rotate(25 888.6 914.16)" fill="#cf0000"/><ellipse cx="888.6" cy="914.16" rx="9.16" ry="3.26" transform="rotate(25 888.6 914.16)" fill="#bf0000"/><ellipse cx="888.6" cy="914.16" rx="7.77" ry="2.76" transform="rotate(25 888.6 914.16)" fill="#af0000"/><ellipse cx="888.6" cy="914.16" rx="6.1" ry="2.17" transform="rotate(25 888.6 914.16)" fill="#9f0000"/><ellipse cx="888.6" cy="914.16" rx="3.8" ry="1.35" transform="rotate(25 888.6 914.16)" fill="#8f0000"/><ellipse cx="929.79" cy="946.93" rx="10.32" ry="4.13" transform="rotate(52 929.79 946.93)" fill="#df0000"/><ellipse cx="929.79" cy="946.93" rx="9.42" ry="3.77" transform="rotate(52 929.79 946.93)" fill="#cf0000"/><ellipse cx="929.79" cy="946.93" rx="8.43" ry="3.37" transform="rotate(52 929.79 946.93)" fill="#bf0000"/><ellipse cx="929.79" cy="946.93" rx="7.34" ry="2.94" transform="rotate(52 929.79 946.93)" fill="#af0000"/><ellipse cx="929.79" cy="946.93" rx="6.07" ry="2.43" transform="rotate(52 929.79 946.93)" fill="#9f0000"/><ellipse cx="929.79" cy="946.93" rx="4.49" ry="1.8" transform="rotate(52 929.79 946.93)" fill="#8f0000"/><ellipse cx="929.79" cy="946.93" rx="1.94" ry="0.78" transform="rotate(52 929.79 946.93)" fill="#800000"/><ellipse cx="948.18" cy="981.5" rx="10.11" ry="4.04" transform="rotate(72 948.18 981.5)" fill="#df0000"/><ellipse cx="948.18" cy="981.5" rx="9.01" ry="3.6" transform="rotate(72 948.18 981.5)" fill="#cf0000"/><ellipse cx="948.18" cy="981.5" rx="7.79" ry="3.12" transform="rotate(72 948.18 981.5)" fill="#bf0000"/><ellipse cx="948.18" cy="981.5" rx="6.36" ry="2.54" transform="rotate(72 948.18 981.5)" fill="#af0000"/><ellipse cx="948.18" cy="981.5" rx="4.53" ry="1.81" transform="rotate(72 948.18 981.5)" fill="#9f0000"/><ellipse cx="948.18" cy="981.5" rx="0.98" ry="0.39" transform="rotate(72 948.18 981.5)" fill="#8f0000"/><ellipse cx="954.02" cy="1032.24" rx="12.78" ry="4.09" transform="rotate(98 954.02 1032.24)" fill="#df0000"/><ellipse cx="954.02" cy="1032.24" rx="11.54" ry="3.69" transform="rotate(98 954.02 1032.24)" fill="#cf0000"/><ellipse cx="954.02" cy="1032.24" rx="10.18" ry="3.26" transform="rotate(98 954.02 1032.24)" fill="#bf0000"/><ellipse cx="954.02" cy="1032.24" rx="8.63" ry="2.76" transform="rotate(98 954.02 1032.24)" fill="#af0000"/><ellipse cx="954.02" cy="1032.24" rx="6.78" ry="2.17" transform="rotate(98 954.02 1032.24)" fill="#9f0000"/><ellipse cx="954.02" cy="1032.24" rx="4.22" ry="1.35" transform="rotate(98 954.02 1032.24)" fill="#8f0000"/><ellipse cx="897.32" cy="1113.99" rx="9.96" ry="3.99" transform="rotate(150 897.32 1113.99)" fill="#df0000"/><ellipse cx="897.32" cy="1113.99" rx="8.74" ry="3.5" transform="rotate(150 897.32 1113.99)" fill="#cf0000"/><ellipse cx="897.32" cy="1113.99" rx="7.34" ry="2.93" transform="rotate(150 897.32 1113.99)" fill="#bf0000"/><ellipse cx="897.32" cy="1113.99" rx="5.63" ry="2.25" transform="rotate(150 897.32 1113.99)" fill="#af0000"/><ellipse cx="897.32" cy="1113.99" rx="3.14" ry="1.26" transform="rotate(150 897.32 1113.99)" fill="#9f0000"/><ellipse cx="821.37" cy="1127.38" rx="11.5" ry="4.35" transform="rotate(190 821.37 1127.38)" fill="#df0000"/><ellipse cx="821.37" cy="1127.38" rx="10.39" ry="3.92" transform="rotate(190 821.37 1127.38)" fill="#cf0000"/><ellipse cx="821.37" cy="1127.38" rx="9.16" ry="3.46" transform="rotate(190 821.37 1127.38)" fill="#bf0000"/><ellipse cx="821.37" cy="1127.38" rx="7.77" ry="2.94" transform="rotate(190 821.37 1127.38)" fill="#af0000"/><ellipse cx="821.37" cy="1127.38" rx="6.1" ry="2.3" transform="rotate(190 821.37 1127.38)" fill="#9f0000"/><ellipse cx="821.37" cy="1127.38" rx="3.8" ry="1.43" transform="rotate(190 821.37 1127.38)" fill="#8f0000"/><ellipse cx="788.02" cy="1115.89" rx="10.4" ry="4.42" transform="rotate(208 788.02 1115.89)" fill="#df0000"/><ellipse cx="788.02" cy="1115.89" rx="9.57" ry="4.07" transform="rotate(208 788.02 1115.89)" fill="#cf0000"/><ellipse cx="788.02" cy="1115.89" rx="8.67" ry="3.69" transform="rotate(208 788.02 1115.89)" fill="#bf0000"/><ellipse cx="788.02" cy="1115.89" rx="7.69" ry="3.27" transform="rotate(208 788.02 1115.89)" fill="#af0000"/><ellipse cx="788.02" cy="1115.89" rx="6.58" ry="2.8" transform="rotate(208 788.02 1115.89)" fill="#9f0000"/><ellipse cx="788.02" cy="1115.89" rx="5.27" ry="2.24" transform="rotate(208 788.02 1115.89)" fill="#8f0000"/><ellipse cx="788.02" cy="1115.89" rx="3.52" ry="1.5" transform="rotate(208 788.02 1115.89)" fill="#800000"/><ellipse cx="743.31" cy="1072.72" rx="10.11" ry="4.04" transform="rotate(240 743.31 1072.72)" fill="#df0000"/><ellipse cx="743.31" cy="1072.72" rx="9.01" ry="3.6" transform="rotate(240 743.31 1072.72)" fill="#cf0000"/><ellipse cx="743.31" cy="1072.72" rx="7.79" ry="3.12" transform="rotate(240 743.31 1072.72)" fill="#bf0000"/><ellipse cx="743.31" cy="1072.72" rx="6.36" ry="2.54" transform="rotate(240 743.31 1072.72)" fill="#af0000"/><ellipse cx="743.31" cy="1072.72" rx="4.53" ry="1.81" transform="rotate(240 743.31 1072.72)" fill="#9f0000"/><ellipse cx="743.31" cy="1072.72" rx="0.98" ry="0.39" transform="rotate(240 743.31 1072.72)" fill="#8f0000"/><ellipse cx="728.27" cy="1020.28" rx="11.5" ry="4.09" transform="rotate(268 728.27 1020.28)" fill="#df0000"/><ellipse cx="728.27" cy="1020.28" rx="10.39" ry="3.69" transform="rotate(268 728.27 1020.28)" fill="#cf0000"/><ellipse cx="728.27" cy="1020.28" rx="9.16" ry="3.26" transform="rotate(268 728.27 1020.28)" fill="#bf0000"/><ellipse cx="728.27" cy="1020.28" rx="7.77" ry="2.76" transform="rotate(268 728.27 1020.28)" fill="#af0000"/><ellipse cx="728.27" cy="1020.28" rx="6.1" ry="2.17" transform="rotate(268 728.27 1020.28)" fill="#9f0000"/><ellipse cx="728.27" cy="1020.28" rx="3.8" ry="1.35" transform="rotate(268 728.27 1020.28)" fill="#8f0000"/><ellipse cx="743.31" cy="959.97" rx="9.96" ry="3.99" transform="rotate(300 743.31 959.97)" fill="#df0000"/><ellipse cx="743.31" cy="959.97" rx="8.74" ry="3.5" transform="rotate(300 743.31 959.97)" fill="#cf0000"/><ellipse cx="743.31" cy="959.97" rx="7.34" ry="2.93" transform="rotate(300 743.31 959.97)" fill="#bf0000"/><ellipse cx="743.31" cy="959.97" rx="5.63" ry="2.25" transform="rotate(300 743.31 959.97)" fill="#af0000"/><ellipse cx="743.31" cy="959.97" rx="3.14" ry="1.26" transform="rotate(300 743.31 959.97)" fill="#9f0000"/></g><path d="M695.02 845v3.3M695.02 1190.15v-3.3M666.3 873.76h3.3M1011 873.76h-3.3M838.65 845v3.3M838.65 1190.15v-3.3M666.3 1017.58h3.3M1011 1017.58h-3.3M982.28 845v3.3M982.28 1190.15v-3.3M666.3 1161.39h3.3M1011 1161.39h-3.3" stroke="#000" stroke-width="2.1"/><rect x="666.3" y="845" width="344.7" height="345.15" fill="none" stroke="#000" stroke-width="2.3"/><g font-family="'Liberation Sans', Arial, Helvetica, sans-serif" font-size="48.3"><text transform="translate(695.02 1250.05) scale(1 1.055)" text-anchor="middle">5</text><text transform="translate(682.79 1250.05) scale(1 1.055)" text-anchor="end">&#8722;</text><text transform="translate(653.2 892.06) scale(1 1.055)" text-anchor="end">&#8722;5</text><text transform="translate(838.65 1250.05) scale(1 1.055)" text-anchor="middle">0</text><text transform="translate(653.2 1035.88) scale(1 1.055)" text-anchor="end">0</text><text transform="translate(982.28 1250.05) scale(1 1.055)" text-anchor="middle">5</text><text transform="translate(653.2 1179.69) scale(1 1.055)" text-anchor="end">5</text></g><g font-family="'Liberation Serif', 'Times New Roman', serif" class="cm"><text x="758.58" y="1307.75" font-size="51.5" font-style="italic">x</text><text x="800.2" y="1307.75" font-size="53.5">(</text><text x="816.57" y="1307.75" font-size="51.5">mm</text><text x="897.23" y="1307.75" font-size="53.5">)</text></g><g font-family="'Liberation Serif', 'Times New Roman', serif" class="cm" transform="translate(562.3 1094.98) rotate(-90)"><text x="4.3" y="0" font-size="51.5" font-style="italic">y</text><text x="39.05" y="0" font-size="53.5">(</text><text x="55.42" y="0" font-size="51.5">mm</text><text x="136.08" y="0" font-size="53.5">)</text></g><g font-family="'Liberation Serif', 'Times New Roman', serif" class="cm"><text x="283.42" y="1366.4" font-size="53.5">(</text><text x="299.11" y="1366.4" font-size="51.5">d</text><text x="325.41" y="1366.4" font-size="53.5">)</text></g><g font-family="'Liberation Serif', 'Times New Roman', serif" class="cm"><text x="811.52" y="1366.4" font-size="53.5">(</text><text x="827.06" y="1366.4" font-size="51.5">e</text><text x="849.31" y="1366.4" font-size="53.5">)</text></g><rect x="1234.8" y="751" width="823.6" height="439.2" fill="#fff"/><path d="M1372.07 750V1190.2M1509.33 750V1190.2M1646.6 750V1190.2M1783.87 750V1190.2M1921.13 750V1190.2" stroke="#000" stroke-width="2" stroke-dasharray="3 18.85" fill="none"/><path d="M1234.8 1151.8H2058.4M1234.8 966.65H2058.4M1234.8 781.5H2058.4" stroke="#000" stroke-width="2" stroke-dasharray="3 18.95" fill="none"/><path d="M1234.8 751v7.8M1234.8 1190.2v-7.8M1372.07 751v7.8M1372.07 1190.2v-7.8M1509.33 751v7.8M1509.33 1190.2v-7.8M1646.6 751v7.8M1646.6 1190.2v-7.8M1783.87 751v7.8M1783.87 1190.2v-7.8M1921.13 751v7.8M1921.13 1190.2v-7.8M2058.4 751v7.8M2058.4 1190.2v-7.8M1234.8 1151.8h7.8M2058.4 1151.8h-7.8M1234.8 966.65h7.8M2058.4 966.65h-7.8M1234.8 781.5h7.8M2058.4 781.5h-7.8" stroke="#000" stroke-width="2.1"/><rect x="1234.8" y="751" width="823.6" height="439.2" fill="none" stroke="#000" stroke-width="2.2"/><path d="M1234.8,1151.8 1235.72,1151.8 1236.63,1151.8 1237.55,1151.8 1238.46,1151.8 1239.38,1151.8 1240.3,1151.8 1241.21,1151.8 1242.13,1151.8 1243.05,1151.8 1243.96,1151.8 1244.88,1151.8 1245.79,1151.8 1246.71,1151.8 1247.63,1151.8 1248.54,1151.8 1249.46,1151.8 1250.37,1151.8 1251.29,1151.8 1252.21,1151.8 1253.12,1151.8 1254.04,1151.8 1254.95,1151.8 1255.87,1151.8 1256.79,1151.8 1257.7,1151.8 1258.62,1151.8 1259.54,1151.8 1260.45,1151.8 1261.37,1151.8 1262.28,1151.8 1263.2,1151.8 1264.12,1151.8 1265.03,1151.8 1265.95,1151.8 1266.86,1151.8 1267.78,1151.8 1268.7,1151.8 1269.61,1151.8 1270.53,1151.8 1271.45,1151.8 1272.36,1151.8 1273.28,1151.8 1274.19,1151.8 1275.11,1151.8 1276.03,1151.8 1276.94,1151.8 1277.86,1151.8 1278.77,1151.8 1279.69,1151.8 1280.61,1151.8 1281.52,1151.8 1282.44,1151.8 1283.35,1151.8 1284.27,1151.8 1285.19,1151.8 1286.1,1151.8 1287.02,1151.8 1287.94,1151.8 1288.85,1151.8 1289.77,1151.8 1290.68,1151.8 1291.6,1151.79 1292.52,1151.79 1293.43,1151.79 1294.35,1151.79 1295.26,1151.79 1296.18,1151.78 1297.1,1151.78 1298.01,1151.77 1298.93,1151.76 1299.85,1151.76 1300.76,1151.74 1301.68,1151.73 1302.59,1151.71 1303.51,1151.69 1304.43,1151.67 1305.34,1151.64 1306.26,1151.6 1307.17,1151.56 1308.09,1151.5 1309.01,1151.44 1309.92,1151.36 1310.84,1151.27 1311.75,1151.16 1312.67,1151.03 1313.59,1150.88 1314.5,1150.7 1315.42,1150.49 1316.34,1150.24 1317.25,1149.94 1318.17,1149.6 1319.08,1149.2 1320,1148.74 1320.92,1148.21 1321.83,1147.6 1322.75,1146.89 1323.66,1146.09 1324.58,1145.17 1325.5,1144.12 1326.41,1142.93 1327.33,1141.58 1328.25,1140.06 1329.16,1138.35 1330.08,1136.44 1330.99,1134.3 1331.91,1131.91 1332.83,1129.27 1333.74,1126.34 1334.66,1123.11 1335.57,1119.56 1336.49,1115.67 1337.41,1111.42 1338.32,1106.8 1339.24,1101.78 1340.15,1096.35 1341.07,1090.51 1341.99,1084.23 1342.9,1077.52 1343.82,1070.36 1344.74,1062.75 1345.65,1054.7 1346.57,1046.22 1347.48,1037.3 1348.4,1027.97 1349.32,1018.25 1350.23,1008.16 1351.15,997.73 1352.06,987 1352.98,976 1353.9,964.78 1354.81,953.39 1355.73,941.88 1356.65,930.31 1357.56,918.74 1358.48,907.23 1359.39,895.87 1360.31,884.7 1361.23,873.82 1362.14,863.28 1363.06,853.16 1363.97,843.53 1364.89,834.46 1365.81,826.02 1366.72,818.27 1367.64,811.27 1368.55,805.07 1369.47,799.73 1370.39,795.28 1371.3,791.77 1372.22,789.21 1373.14,787.64 1374.05,787.06 1374.97,787.48 1375.88,788.89 1376.8,791.29 1377.72,794.65 1378.63,798.95 1379.55,804.15 1380.46,810.21 1381.38,817.08 1382.3,824.72 1383.21,833.05 1384.13,842.02 1385.05,851.57 1385.96,861.61 1386.88,872.09 1387.79,882.92 1388.71,894.05 1389.63,905.39 1390.54,916.87 1391.46,928.43 1392.37,940.01 1393.29,951.53 1394.21,962.95 1395.12,974.2 1396.04,985.24 1396.95,996.02 1397.87,1006.5 1398.79,1016.65 1399.7,1026.43 1400.62,1035.82 1401.54,1044.8 1402.45,1053.36 1403.37,1061.48 1404.28,1069.16 1405.2,1076.39 1406.12,1083.18 1407.03,1089.52 1407.95,1095.44 1408.86,1100.93 1409.78,1106.01 1410.7,1110.7 1411.61,1115.01 1412.53,1118.96 1413.45,1122.56 1414.36,1125.84 1415.28,1128.82 1416.19,1131.5 1417.11,1133.93 1418.03,1136.11 1418.94,1138.06 1419.86,1139.8 1420.77,1141.35 1421.69,1142.72 1422.61,1143.93 1423.52,1145.01 1424.44,1145.95 1425.35,1146.77 1426.27,1147.49 1427.19,1148.12 1428.1,1148.66 1429.02,1149.13 1429.94,1149.54 1430.85,1149.89 1431.77,1150.19 1432.68,1150.45 1433.6,1150.67 1434.52,1150.85 1435.43,1151.01 1436.35,1151.14 1437.26,1151.26 1438.18,1151.35 1439.1,1151.43 1440.01,1151.49 1440.93,1151.55 1441.85,1151.6 1442.76,1151.63 1443.68,1151.66 1444.59,1151.69 1445.51,1151.71 1446.43,1151.73 1447.34,1151.74 1448.26,1151.75 1449.17,1151.76 1450.09,1151.77 1451.01,1151.78 1451.92,1151.78 1452.84,1151.79 1453.75,1151.79 1454.67,1151.79 1455.59,1151.79 1456.5,1151.79 1457.42,1151.8 1458.34,1151.8 1459.25,1151.8 1460.17,1151.8 1461.08,1151.8 1462,1151.8 1462.92,1151.8 1463.83,1151.8 1464.75,1151.8 1465.66,1151.8 1466.58,1151.8 1467.5,1151.8 1468.41,1151.8 1469.33,1151.8 1470.25,1151.8 1471.16,1151.8 1472.08,1151.8 1472.99,1151.8 1473.91,1151.8 1474.83,1151.8 1475.74,1151.8 1476.66,1151.8 1477.57,1151.8 1478.49,1151.8 1479.41,1151.8 1480.32,1151.8 1481.24,1151.8 1482.15,1151.8 1483.07,1151.8 1483.99,1151.8 1484.9,1151.8 1485.82,1151.8 1486.74,1151.8 1487.65,1151.8 1488.57,1151.8 1489.48,1151.8 1490.4,1151.8 1491.32,1151.8 1492.23,1151.8 1493.15,1151.8 1494.06,1151.8 1494.98,1151.8 1495.9,1151.8 1496.81,1151.8 1497.73,1151.8 1498.65,1151.8 1499.56,1151.8 1500.48,1151.8 1501.39,1151.8 1502.31,1151.8 1503.23,1151.8 1504.14,1151.8 1505.06,1151.8 1505.97,1151.8 1506.89,1151.8 1507.81,1151.8 1508.72,1151.8 1509.64,1151.8 1510.55,1151.8 1511.47,1151.8 1512.39,1151.8 1513.3,1151.8 1514.22,1151.8 1515.14,1151.8 1516.05,1151.8 1516.97,1151.8 1517.88,1151.8 1518.8,1151.8 1519.72,1151.8 1520.63,1151.8 1521.55,1151.8 1522.46,1151.8 1523.38,1151.8 1524.3,1151.8 1525.21,1151.8 1526.13,1151.8 1527.05,1151.8 1527.96,1151.8 1528.88,1151.8 1529.79,1151.8 1530.71,1151.8 1531.63,1151.8 1532.54,1151.8 1533.46,1151.8 1534.37,1151.8 1535.29,1151.8 1536.21,1151.8 1537.12,1151.8 1538.04,1151.8 1538.95,1151.8 1539.87,1151.8 1540.79,1151.8 1541.7,1151.8 1542.62,1151.8 1543.54,1151.8 1544.45,1151.8 1545.37,1151.8 1546.28,1151.8 1547.2,1151.8 1548.12,1151.8 1549.03,1151.8 1549.95,1151.8 1550.86,1151.8 1551.78,1151.8 1552.7,1151.8 1553.61,1151.8 1554.53,1151.8 1555.45,1151.8 1556.36,1151.8 1557.28,1151.8 1558.19,1151.8 1559.11,1151.8 1560.03,1151.8 1560.94,1151.8 1561.86,1151.8 1562.77,1151.8 1563.69,1151.8 1564.61,1151.8 1565.52,1151.8 1566.44,1151.8 1567.35,1151.8 1568.27,1151.8 1569.19,1151.8 1570.1,1151.8 1571.02,1151.8 1571.94,1151.8 1572.85,1151.8 1573.77,1151.8 1574.68,1151.8 1575.6,1151.8 1576.52,1151.8 1577.43,1151.8 1578.35,1151.8 1579.26,1151.8 1580.18,1151.8 1581.1,1151.8 1582.01,1151.8 1582.93,1151.8 1583.85,1151.8 1584.76,1151.8 1585.68,1151.8 1586.59,1151.8 1587.51,1151.8 1588.43,1151.8 1589.34,1151.8 1590.26,1151.8 1591.17,1151.8 1592.09,1151.8 1593.01,1151.8 1593.92,1151.8 1594.84,1151.8 1595.75,1151.8 1596.67,1151.8 1597.59,1151.8 1598.5,1151.8 1599.42,1151.8 1600.34,1151.8 1601.25,1151.8 1602.17,1151.8 1603.08,1151.8 1604,1151.8 1604.92,1151.8 1605.83,1151.8 1606.75,1151.8 1607.66,1151.8 1608.58,1151.8 1609.5,1151.8 1610.41,1151.8 1611.33,1151.8 1612.25,1151.8 1613.16,1151.8 1614.08,1151.8 1614.99,1151.8 1615.91,1151.8 1616.83,1151.8 1617.74,1151.8 1618.66,1151.8 1619.57,1151.8 1620.49,1151.8 1621.41,1151.8 1622.32,1151.8 1623.24,1151.8 1624.15,1151.8 1625.07,1151.8 1625.99,1151.8 1626.9,1151.8 1627.82,1151.8 1628.74,1151.8 1629.65,1151.8 1630.57,1151.8 1631.48,1151.8 1632.4,1151.8 1633.32,1151.8 1634.23,1151.8 1635.15,1151.8 1636.06,1151.8 1636.98,1151.8 1637.9,1151.8 1638.81,1151.8 1639.73,1151.8 1640.65,1151.8 1641.56,1151.8 1642.48,1151.8 1643.39,1151.8 1644.31,1151.8 1645.23,1151.8 1646.14,1151.8 1647.06,1151.8 1647.97,1151.8 1648.89,1151.8 1649.81,1151.8 1650.72,1151.8 1651.64,1151.8 1652.55,1151.8 1653.47,1151.8 1654.39,1151.8 1655.3,1151.8 1656.22,1151.8 1657.14,1151.8 1658.05,1151.8 1658.97,1151.8 1659.88,1151.8 1660.8,1151.8 1661.72,1151.8 1662.63,1151.8 1663.55,1151.8 1664.46,1151.8 1665.38,1151.8 1666.3,1151.8 1667.21,1151.8 1668.13,1151.8 1669.05,1151.8 1669.96,1151.8 1670.88,1151.8 1671.79,1151.8 1672.71,1151.8 1673.63,1151.8 1674.54,1151.8 1675.46,1151.8 1676.37,1151.8 1677.29,1151.8 1678.21,1151.8 1679.12,1151.8 1680.04,1151.8 1680.95,1151.8 1681.87,1151.8 1682.79,1151.8 1683.7,1151.8 1684.62,1151.8 1685.54,1151.8 1686.45,1151.8 1687.37,1151.8 1688.28,1151.8 1689.2,1151.8 1690.12,1151.8 1691.03,1151.8 1691.95,1151.8 1692.86,1151.8 1693.78,1151.8 1694.7,1151.8 1695.61,1151.8 1696.53,1151.8 1697.45,1151.8 1698.36,1151.8 1699.28,1151.8 1700.19,1151.8 1701.11,1151.8 1702.03,1151.8 1702.94,1151.8 1703.86,1151.8 1704.77,1151.8 1705.69,1151.8 1706.61,1151.8 1707.52,1151.8 1708.44,1151.8 1709.35,1151.8 1710.27,1151.8 1711.19,1151.8 1712.1,1151.8 1713.02,1151.8 1713.94,1151.8 1714.85,1151.8 1715.77,1151.8 1716.68,1151.8 1717.6,1151.8 1718.52,1151.8 1719.43,1151.8 1720.35,1151.8 1721.26,1151.8 1722.18,1151.8 1723.1,1151.8 1724.01,1151.8 1724.93,1151.8 1725.85,1151.8 1726.76,1151.8 1727.68,1151.8 1728.59,1151.8 1729.51,1151.8 1730.43,1151.8 1731.34,1151.8 1732.26,1151.8 1733.17,1151.8 1734.09,1151.8 1735.01,1151.8 1735.92,1151.8 1736.84,1151.8 1737.75,1151.8 1738.67,1151.8 1739.59,1151.8 1740.5,1151.8 1741.42,1151.8 1742.34,1151.8 1743.25,1151.8 1744.17,1151.8 1745.08,1151.8 1746,1151.8 1746.92,1151.8 1747.83,1151.8 1748.75,1151.8 1749.66,1151.8 1750.58,1151.8 1751.5,1151.8 1752.41,1151.8 1753.33,1151.8 1754.25,1151.8 1755.16,1151.8 1756.08,1151.8 1756.99,1151.8 1757.91,1151.8 1758.83,1151.8 1759.74,1151.8 1760.66,1151.8 1761.57,1151.8 1762.49,1151.8 1763.41,1151.8 1764.32,1151.8 1765.24,1151.8 1766.15,1151.8 1767.07,1151.8 1767.99,1151.8 1768.9,1151.8 1769.82,1151.8 1770.74,1151.8 1771.65,1151.8 1772.57,1151.8 1773.48,1151.8 1774.4,1151.8 1775.32,1151.8 1776.23,1151.8 1777.15,1151.8 1778.06,1151.8 1778.98,1151.8 1779.9,1151.8 1780.81,1151.8 1781.73,1151.8 1782.65,1151.8 1783.56,1151.8 1784.48,1151.8 1785.39,1151.8 1786.31,1151.8 1787.23,1151.8 1788.14,1151.8 1789.06,1151.8 1789.97,1151.8 1790.89,1151.8 1791.81,1151.8 1792.72,1151.8 1793.64,1151.8 1794.55,1151.8 1795.47,1151.8 1796.39,1151.8 1797.3,1151.8 1798.22,1151.8 1799.14,1151.8 1800.05,1151.8 1800.97,1151.8 1801.88,1151.8 1802.8,1151.8 1803.72,1151.8 1804.63,1151.8 1805.55,1151.8 1806.46,1151.8 1807.38,1151.8 1808.3,1151.8 1809.21,1151.8 1810.13,1151.8 1811.05,1151.8 1811.96,1151.8 1812.88,1151.8 1813.79,1151.8 1814.71,1151.8 1815.63,1151.8 1816.54,1151.8 1817.46,1151.8 1818.37,1151.8 1819.29,1151.8 1820.21,1151.8 1821.12,1151.8 1822.04,1151.8 1822.95,1151.8 1823.87,1151.8 1824.79,1151.8 1825.7,1151.8 1826.62,1151.8 1827.54,1151.8 1828.45,1151.8 1829.37,1151.8 1830.28,1151.8 1831.2,1151.8 1832.12,1151.8 1833.03,1151.8 1833.95,1151.8 1834.86,1151.8 1835.78,1151.8 1836.7,1151.79 1837.61,1151.79 1838.53,1151.79 1839.45,1151.79 1840.36,1151.79 1841.28,1151.78 1842.19,1151.78 1843.11,1151.77 1844.03,1151.76 1844.94,1151.75 1845.86,1151.74 1846.77,1151.73 1847.69,1151.71 1848.61,1151.69 1849.52,1151.66 1850.44,1151.63 1851.35,1151.6 1852.27,1151.55 1853.19,1151.49 1854.1,1151.43 1855.02,1151.35 1855.94,1151.26 1856.85,1151.14 1857.77,1151.01 1858.68,1150.85 1859.6,1150.67 1860.52,1150.45 1861.43,1150.19 1862.35,1149.89 1863.26,1149.54 1864.18,1149.13 1865.1,1148.66 1866.01,1148.12 1866.93,1147.49 1867.85,1146.77 1868.76,1145.95 1869.68,1145.01 1870.59,1143.93 1871.51,1142.72 1872.43,1141.35 1873.34,1139.8 1874.26,1138.06 1875.17,1136.11 1876.09,1133.93 1877.01,1131.5 1877.92,1128.82 1878.84,1125.84 1879.75,1122.56 1880.67,1118.96 1881.59,1115.01 1882.5,1110.7 1883.42,1106.01 1884.34,1100.93 1885.25,1095.44 1886.17,1089.52 1887.08,1083.18 1888,1076.39 1888.92,1069.16 1889.83,1061.48 1890.75,1053.36 1891.66,1044.8 1892.58,1035.82 1893.5,1026.43 1894.41,1016.65 1895.33,1006.5 1896.25,996.02 1897.16,985.24 1898.08,974.2 1898.99,962.95 1899.91,951.53 1900.83,940.01 1901.74,928.43 1902.66,916.87 1903.57,905.39 1904.49,894.05 1905.41,882.92 1906.32,872.09 1907.24,861.61 1908.15,851.57 1909.07,842.02 1909.99,833.05 1910.9,824.72 1911.82,817.08 1912.74,810.21 1913.65,804.15 1914.57,798.95 1915.48,794.65 1916.4,791.29 1917.32,788.89 1918.23,787.48 1919.15,787.06 1920.06,787.64 1920.98,789.21 1921.9,791.77 1922.81,795.28 1923.73,799.73 1924.65,805.07 1925.56,811.27 1926.48,818.27 1927.39,826.02 1928.31,834.46 1929.23,843.53 1930.14,853.16 1931.06,863.28 1931.97,873.82 1932.89,884.7 1933.81,895.87 1934.72,907.23 1935.64,918.74 1936.55,930.31 1937.47,941.88 1938.39,953.39 1939.3,964.78 1940.22,976 1941.14,987 1942.05,997.73 1942.97,1008.16 1943.88,1018.25 1944.8,1027.97 1945.72,1037.3 1946.63,1046.22 1947.55,1054.7 1948.46,1062.75 1949.38,1070.36 1950.3,1077.52 1951.21,1084.23 1952.13,1090.51 1953.05,1096.35 1953.96,1101.78 1954.88,1106.8 1955.79,1111.42 1956.71,1115.67 1957.63,1119.56 1958.54,1123.11 1959.46,1126.34 1960.37,1129.27 1961.29,1131.91 1962.21,1134.3 1963.12,1136.44 1964.04,1138.35 1964.95,1140.06 1965.87,1141.58 1966.79,1142.93 1967.7,1144.12 1968.62,1145.17 1969.54,1146.09 1970.45,1146.89 1971.37,1147.6 1972.28,1148.21 1973.2,1148.74 1974.12,1149.2 1975.03,1149.6 1975.95,1149.94 1976.86,1150.24 1977.78,1150.49 1978.7,1150.7 1979.61,1150.88 1980.53,1151.03 1981.45,1151.16 1982.36,1151.27 1983.28,1151.36 1984.19,1151.44 1985.11,1151.5 1986.03,1151.56 1986.94,1151.6 1987.86,1151.64 1988.77,1151.67 1989.69,1151.69 1990.61,1151.71 1991.52,1151.73 1992.44,1151.74 1993.35,1151.76 1994.27,1151.76 1995.19,1151.77 1996.1,1151.78 1997.02,1151.78 1997.94,1151.79 1998.85,1151.79 1999.77,1151.79 2000.68,1151.79 2001.6,1151.79 2002.52,1151.8 2003.43,1151.8 2004.35,1151.8 2005.26,1151.8 2006.18,1151.8 2007.1,1151.8 2008.01,1151.8 2008.93,1151.8 2009.85,1151.8 2010.76,1151.8 2011.68,1151.8 2012.59,1151.8 2013.51,1151.8 2014.43,1151.8 2015.34,1151.8 2016.26,1151.8 2017.17,1151.8 2018.09,1151.8 2019.01,1151.8 2019.92,1151.8 2020.84,1151.8 2021.75,1151.8 2022.67,1151.8 2023.59,1151.8 2024.5,1151.8 2025.42,1151.8 2026.34,1151.8 2027.25,1151.8 2028.17,1151.8 2029.08,1151.8 2030,1151.8 2030.92,1151.8 2031.83,1151.8 2032.75,1151.8 2033.66,1151.8 2034.58,1151.8 2035.5,1151.8 2036.41,1151.8 2037.33,1151.8 2038.25,1151.8 2039.16,1151.8 2040.08,1151.8 2040.99,1151.8 2041.91,1151.8 2042.83,1151.8 2043.74,1151.8 2044.66,1151.8 2045.57,1151.8 2046.49,1151.8 2047.41,1151.8 2048.32,1151.8 2049.24,1151.8 2050.15,1151.8 2051.07,1151.8 2051.99,1151.8 2052.9,1151.8 2053.82,1151.8 2054.74,1151.8 2055.65,1151.8 2056.57,1151.8 2057.48,1151.8 2058.4,1151.8" stroke="#0000ff" stroke-width="9.7" fill="none" stroke-linejoin="round"/><path d="M1234.8,1151.8 1235.72,1151.8 1236.63,1151.8 1237.55,1151.8 1238.46,1151.8 1239.38,1151.8 1240.3,1151.8 1241.21,1151.8 1242.13,1151.8 1243.05,1151.8 1243.96,1151.8 1244.88,1151.8 1245.79,1151.8 1246.71,1151.8 1247.63,1151.8 1248.54,1151.8 1249.46,1151.8 1250.37,1151.8 1251.29,1151.8 1252.21,1151.8 1253.12,1151.8 1254.04,1151.8 1254.95,1151.8 1255.87,1151.8 1256.79,1151.8 1257.7,1151.8 1258.62,1151.8 1259.54,1151.8 1260.45,1151.8 1261.37,1151.8 1262.28,1151.8 1263.2,1151.8 1264.12,1151.8 1265.03,1151.8 1265.95,1151.8 1266.86,1151.8 1267.78,1151.8 1268.7,1151.8 1269.61,1151.8 1270.53,1151.8 1271.45,1151.8 1272.36,1151.8 1273.28,1151.8 1274.19,1151.8 1275.11,1151.8 1276.03,1151.8 1276.94,1151.8 1277.86,1151.8 1278.77,1151.8 1279.69,1151.8 1280.61,1151.8 1281.52,1151.8 1282.44,1151.8 1283.35,1151.8 1284.27,1151.8 1285.19,1151.8 1286.1,1151.8 1287.02,1151.8 1287.94,1151.8 1288.85,1151.8 1289.77,1151.8 1290.68,1151.8 1291.6,1151.8 1292.52,1151.8 1293.43,1151.8 1294.35,1151.79 1295.26,1151.79 1296.18,1151.79 1297.1,1151.79 1298.01,1151.79 1298.93,1151.78 1299.85,1151.78 1300.76,1151.77 1301.68,1151.77 1302.59,1151.76 1303.51,1151.75 1304.43,1151.73 1305.34,1151.72 1306.26,1151.7 1307.17,1151.67 1308.09,1151.64 1309.01,1151.61 1309.92,1151.57 1310.84,1151.51 1311.75,1151.45 1312.67,1151.38 1313.59,1151.29 1314.5,1151.19 1315.42,1151.06 1316.34,1150.91 1317.25,1150.74 1318.17,1150.53 1319.08,1150.29 1320,1150.01 1320.92,1149.68 1321.83,1149.3 1322.75,1148.85 1323.66,1148.34 1324.58,1147.75 1325.5,1147.07 1326.41,1146.29 1327.33,1145.4 1328.25,1144.39 1329.16,1143.24 1330.08,1141.94 1330.99,1140.47 1331.91,1138.82 1332.83,1136.98 1333.74,1134.91 1334.66,1132.61 1335.57,1130.06 1336.49,1127.24 1337.41,1124.12 1338.32,1120.7 1339.24,1116.94 1340.15,1112.84 1341.07,1108.38 1341.99,1103.54 1342.9,1098.31 1343.82,1092.67 1344.74,1086.61 1345.65,1080.13 1346.57,1073.23 1347.48,1065.89 1348.4,1058.13 1349.32,1049.94 1350.23,1041.34 1351.15,1032.34 1352.06,1022.97 1352.98,1013.23 1353.9,1003.17 1354.81,992.82 1355.73,982.21 1356.65,971.39 1357.56,960.4 1358.48,949.3 1359.39,938.14 1360.31,926.98 1361.23,915.89 1362.14,904.92 1363.06,894.16 1363.97,883.66 1364.89,873.5 1365.81,863.74 1366.72,854.45 1367.64,845.71 1368.55,837.57 1369.47,830.1 1370.39,823.35 1371.3,817.37 1372.22,812.22 1373.14,807.94 1374.05,804.55 1374.97,802.09 1375.88,800.57 1376.8,800.02 1377.72,800.42 1378.63,801.79 1379.55,804.11 1380.46,807.35 1381.38,811.5 1382.3,816.52 1383.21,822.37 1384.13,829 1385.05,836.37 1385.96,844.41 1386.88,853.06 1387.79,862.27 1388.71,871.95 1389.63,882.06 1390.54,892.51 1391.46,903.24 1392.37,914.18 1393.29,925.26 1394.21,936.41 1395.12,947.57 1396.04,958.69 1396.95,969.69 1397.87,980.55 1398.79,991.19 1399.7,1001.59 1400.62,1011.7 1401.54,1021.48 1402.45,1030.91 1403.37,1039.97 1404.28,1048.63 1405.2,1056.88 1406.12,1064.71 1407.03,1072.12 1407.95,1079.09 1408.86,1085.64 1409.78,1091.76 1410.7,1097.46 1411.61,1102.75 1412.53,1107.66 1413.45,1112.18 1414.36,1116.33 1415.28,1120.14 1416.19,1123.61 1417.11,1126.77 1418.03,1129.64 1418.94,1132.23 1419.86,1134.57 1420.77,1136.67 1421.69,1138.55 1422.61,1140.23 1423.52,1141.72 1424.44,1143.05 1425.35,1144.22 1426.27,1145.25 1427.19,1146.16 1428.1,1146.95 1429.02,1147.65 1429.94,1148.25 1430.85,1148.78 1431.77,1149.23 1432.68,1149.62 1433.6,1149.96 1434.52,1150.25 1435.43,1150.5 1436.35,1150.71 1437.26,1150.89 1438.18,1151.04 1439.1,1151.17 1440.01,1151.28 1440.93,1151.37 1441.85,1151.44 1442.76,1151.51 1443.68,1151.56 1444.59,1151.6 1445.51,1151.64 1446.43,1151.67 1447.34,1151.69 1448.26,1151.71 1449.17,1151.73 1450.09,1151.74 1451.01,1151.76 1451.92,1151.76 1452.84,1151.77 1453.75,1151.78 1454.67,1151.78 1455.59,1151.79 1456.5,1151.79 1457.42,1151.79 1458.34,1151.79 1459.25,1151.79 1460.17,1151.8 1461.08,1151.8 1462,1151.8 1462.92,1151.8 1463.83,1151.8 1464.75,1151.8 1465.66,1151.8 1466.58,1151.8 1467.5,1151.8 1468.41,1151.8 1469.33,1151.8 1470.25,1151.8 1471.16,1151.8 1472.08,1151.8 1472.99,1151.8 1473.91,1151.8 1474.83,1151.8 1475.74,1151.8 1476.66,1151.8 1477.57,1151.8 1478.49,1151.8 1479.41,1151.8 1480.32,1151.8 1481.24,1151.8 1482.15,1151.8 1483.07,1151.8 1483.99,1151.8 1484.9,1151.8 1485.82,1151.8 1486.74,1151.8 1487.65,1151.8 1488.57,1151.8 1489.48,1151.8 1490.4,1151.8 1491.32,1151.8 1492.23,1151.8 1493.15,1151.8 1494.06,1151.8 1494.98,1151.8 1495.9,1151.8 1496.81,1151.8 1497.73,1151.8 1498.65,1151.8 1499.56,1151.8 1500.48,1151.8 1501.39,1151.8 1502.31,1151.8 1503.23,1151.8 1504.14,1151.8 1505.06,1151.79 1505.97,1151.79 1506.89,1151.79 1507.81,1151.79 1508.72,1151.79 1509.64,1151.78 1510.55,1151.78 1511.47,1151.77 1512.39,1151.77 1513.3,1151.76 1514.22,1151.75 1515.14,1151.74 1516.05,1151.73 1516.97,1151.72 1517.88,1151.71 1518.8,1151.69 1519.72,1151.67 1520.63,1151.65 1521.55,1151.62 1522.46,1151.59 1523.38,1151.56 1524.3,1151.52 1525.21,1151.48 1526.13,1151.43 1527.05,1151.38 1527.96,1151.32 1528.88,1151.25 1529.79,1151.18 1530.71,1151.11 1531.63,1151.03 1532.54,1150.94 1533.46,1150.84 1534.37,1150.74 1535.29,1150.63 1536.21,1150.51 1537.12,1150.39 1538.04,1150.27 1538.95,1150.14 1539.87,1150 1540.79,1149.87 1541.7,1149.73 1542.62,1149.58 1543.54,1149.44 1544.45,1149.3 1545.37,1149.16 1546.28,1149.03 1547.2,1148.9 1548.12,1148.78 1549.03,1148.66 1549.95,1148.55 1550.86,1148.45 1551.78,1148.36 1552.7,1148.28 1553.61,1148.22 1554.53,1148.17 1555.45,1148.13 1556.36,1148.11 1557.28,1148.1 1558.19,1148.1 1559.11,1148.12 1560.03,1148.16 1560.94,1148.21 1561.86,1148.27 1562.77,1148.34 1563.69,1148.43 1564.61,1148.53 1565.52,1148.63 1566.44,1148.75 1567.35,1148.87 1568.27,1149 1569.19,1149.14 1570.1,1149.27 1571.02,1149.41 1571.94,1149.55 1572.85,1149.7 1573.77,1149.84 1574.68,1149.97 1575.6,1150.11 1576.52,1150.24 1577.43,1150.37 1578.35,1150.49 1579.26,1150.6 1580.18,1150.71 1581.1,1150.82 1582.01,1150.92 1582.93,1151.01 1583.85,1151.09 1584.76,1151.17 1585.68,1151.24 1586.59,1151.31 1587.51,1151.37 1588.43,1151.42 1589.34,1151.47 1590.26,1151.51 1591.17,1151.55 1592.09,1151.58 1593.01,1151.61 1593.92,1151.64 1594.84,1151.66 1595.75,1151.68 1596.67,1151.7 1597.59,1151.72 1598.5,1151.73 1599.42,1151.74 1600.34,1151.75 1601.25,1151.75 1602.17,1151.76 1603.08,1151.76 1604,1151.76 1604.92,1151.76 1605.83,1151.76 1606.75,1151.75 1607.66,1151.74 1608.58,1151.73 1609.5,1151.72 1610.41,1151.7 1611.33,1151.68 1612.25,1151.65 1613.16,1151.61 1614.08,1151.57 1614.99,1151.52 1615.91,1151.47 1616.83,1151.4 1617.74,1151.32 1618.66,1151.23 1619.57,1151.12 1620.49,1151 1621.41,1150.86 1622.32,1150.7 1623.24,1150.52 1624.15,1150.33 1625.07,1150.11 1625.99,1149.88 1626.9,1149.62 1627.82,1149.34 1628.74,1149.04 1629.65,1148.73 1630.57,1148.4 1631.48,1148.05 1632.4,1147.69 1633.32,1147.33 1634.23,1146.95 1635.15,1146.58 1636.06,1146.21 1636.98,1145.85 1637.9,1145.5 1638.81,1145.17 1639.73,1144.86 1640.65,1144.58 1641.56,1144.33 1642.48,1144.11 1643.39,1143.93 1644.31,1143.8 1645.23,1143.71 1646.14,1143.66 1647.06,1143.66 1647.97,1143.71 1648.89,1143.8 1649.81,1143.93 1650.72,1144.11 1651.64,1144.33 1652.55,1144.58 1653.47,1144.86 1654.39,1145.17 1655.3,1145.5 1656.22,1145.85 1657.14,1146.21 1658.05,1146.58 1658.97,1146.95 1659.88,1147.33 1660.8,1147.69 1661.72,1148.05 1662.63,1148.4 1663.55,1148.73 1664.46,1149.04 1665.38,1149.34 1666.3,1149.62 1667.21,1149.88 1668.13,1150.11 1669.05,1150.33 1669.96,1150.52 1670.88,1150.7 1671.79,1150.85 1672.71,1150.99 1673.63,1151.11 1674.54,1151.22 1675.46,1151.31 1676.37,1151.39 1677.29,1151.45 1678.21,1151.5 1679.12,1151.54 1680.04,1151.58 1680.95,1151.6 1681.87,1151.61 1682.79,1151.61 1683.7,1151.61 1684.62,1151.59 1685.54,1151.57 1686.45,1151.53 1687.37,1151.49 1688.28,1151.43 1689.2,1151.36 1690.12,1151.28 1691.03,1151.19 1691.95,1151.08 1692.86,1150.97 1693.78,1150.84 1694.7,1150.7 1695.61,1150.55 1696.53,1150.39 1697.45,1150.23 1698.36,1150.06 1699.28,1149.89 1700.19,1149.72 1701.11,1149.56 1702.03,1149.41 1702.94,1149.27 1703.86,1149.14 1704.77,1149.03 1705.69,1148.95 1706.61,1148.89 1707.52,1148.85 1708.44,1148.84 1709.35,1148.85 1710.27,1148.89 1711.19,1148.96 1712.1,1149.05 1713.02,1149.16 1713.94,1149.29 1714.85,1149.43 1715.77,1149.58 1716.68,1149.75 1717.6,1149.92 1718.52,1150.08 1719.43,1150.25 1720.35,1150.42 1721.26,1150.57 1722.18,1150.72 1723.1,1150.86 1724.01,1150.99 1724.93,1151.11 1725.85,1151.21 1726.76,1151.31 1727.68,1151.39 1728.59,1151.46 1729.51,1151.52 1730.43,1151.58 1731.34,1151.62 1732.26,1151.66 1733.17,1151.69 1734.09,1151.71 1735.01,1151.73 1735.92,1151.75 1736.84,1151.76 1737.75,1151.77 1738.67,1151.78 1739.59,1151.78 1740.5,1151.79 1741.42,1151.79 1742.34,1151.79 1743.25,1151.8 1744.17,1151.8 1745.08,1151.8 1746,1151.8 1746.92,1151.8 1747.83,1151.8 1748.75,1151.8 1749.66,1151.8 1750.58,1151.8 1751.5,1151.8 1752.41,1151.8 1753.33,1151.8 1754.25,1151.8 1755.16,1151.8 1756.08,1151.8 1756.99,1151.8 1757.91,1151.8 1758.83,1151.8 1759.74,1151.8 1760.66,1151.8 1761.57,1151.8 1762.49,1151.8 1763.41,1151.8 1764.32,1151.8 1765.24,1151.8 1766.15,1151.8 1767.07,1151.8 1767.99,1151.8 1768.9,1151.8 1769.82,1151.8 1770.74,1151.8 1771.65,1151.8 1772.57,1151.8 1773.48,1151.8 1774.4,1151.8 1775.32,1151.8 1776.23,1151.8 1777.15,1151.8 1778.06,1151.8 1778.98,1151.8 1779.9,1151.8 1780.81,1151.8 1781.73,1151.8 1782.65,1151.8 1783.56,1151.8 1784.48,1151.8 1785.39,1151.8 1786.31,1151.8 1787.23,1151.8 1788.14,1151.8 1789.06,1151.8 1789.97,1151.8 1790.89,1151.8 1791.81,1151.8 1792.72,1151.8 1793.64,1151.8 1794.55,1151.8 1795.47,1151.8 1796.39,1151.8 1797.3,1151.8 1798.22,1151.8 1799.14,1151.8 1800.05,1151.8 1800.97,1151.8 1801.88,1151.8 1802.8,1151.8 1803.72,1151.8 1804.63,1151.8 1805.55,1151.8 1806.46,1151.8 1807.38,1151.8 1808.3,1151.8 1809.21,1151.8 1810.13,1151.8 1811.05,1151.8 1811.96,1151.8 1812.88,1151.8 1813.79,1151.8 1814.71,1151.8 1815.63,1151.8 1816.54,1151.8 1817.46,1151.8 1818.37,1151.8 1819.29,1151.8 1820.21,1151.8 1821.12,1151.8 1822.04,1151.8 1822.95,1151.8 1823.87,1151.8 1824.79,1151.8 1825.7,1151.8 1826.62,1151.8 1827.54,1151.8 1828.45,1151.8 1829.37,1151.8 1830.28,1151.8 1831.2,1151.8 1832.12,1151.8 1833.03,1151.8 1833.95,1151.8 1834.86,1151.8 1835.78,1151.8 1836.7,1151.8 1837.61,1151.79 1838.53,1151.79 1839.45,1151.79 1840.36,1151.79 1841.28,1151.79 1842.19,1151.78 1843.11,1151.78 1844.03,1151.77 1844.94,1151.76 1845.86,1151.75 1846.77,1151.74 1847.69,1151.73 1848.61,1151.71 1849.52,1151.69 1850.44,1151.67 1851.35,1151.64 1852.27,1151.6 1853.19,1151.56 1854.1,1151.5 1855.02,1151.44 1855.94,1151.36 1856.85,1151.27 1857.77,1151.16 1858.68,1151.04 1859.6,1150.88 1860.52,1150.71 1861.43,1150.49 1862.35,1150.25 1863.26,1149.96 1864.18,1149.62 1865.1,1149.23 1866.01,1148.78 1866.93,1148.26 1867.85,1147.66 1868.76,1146.97 1869.68,1146.18 1870.59,1145.29 1871.51,1144.26 1872.43,1143.11 1873.34,1141.8 1874.26,1140.32 1875.17,1138.67 1876.09,1136.82 1877.01,1134.75 1877.92,1132.45 1878.84,1129.9 1879.75,1127.08 1880.67,1123.98 1881.59,1120.57 1882.5,1116.84 1883.42,1112.78 1884.34,1108.36 1885.25,1103.57 1886.17,1098.4 1887.08,1092.83 1888,1086.87 1888.92,1080.49 1889.83,1073.71 1890.75,1066.51 1891.66,1058.91 1892.58,1050.9 1893.5,1042.51 1894.41,1033.74 1895.33,1024.62 1896.25,1015.16 1897.16,1005.41 1898.08,995.38 1898.99,985.13 1899.91,974.69 1900.83,964.12 1901.74,953.45 1902.66,942.76 1903.57,932.09 1904.49,921.51 1905.41,911.07 1906.32,900.86 1907.24,890.92 1908.15,881.34 1909.07,872.17 1909.99,863.48 1910.9,855.33 1911.82,847.79 1912.74,840.91 1913.65,834.74 1914.57,829.34 1915.48,824.74 1916.4,820.98 1917.32,818.1 1918.23,816.11 1919.15,815.03 1920.06,814.88 1920.98,815.64 1921.9,817.33 1922.81,819.91 1923.73,823.38 1924.65,827.7 1925.56,832.84 1926.48,838.75 1927.39,845.4 1928.31,852.72 1929.23,860.67 1930.14,869.19 1931.06,878.2 1931.97,887.65 1932.89,897.48 1933.81,907.61 1934.72,917.97 1935.64,928.51 1936.55,939.16 1937.47,949.85 1938.39,960.53 1939.3,971.15 1940.22,981.64 1941.14,991.96 1942.05,1002.06 1942.97,1011.91 1943.88,1021.47 1944.8,1030.71 1945.72,1039.6 1946.63,1048.12 1947.55,1056.26 1948.46,1064 1949.38,1071.33 1950.3,1078.26 1951.21,1084.77 1952.13,1090.87 1953.05,1096.57 1953.96,1101.87 1954.88,1106.79 1955.79,1111.33 1956.71,1115.51 1957.63,1119.35 1958.54,1122.87 1959.46,1126.07 1960.37,1128.98 1961.29,1131.62 1962.21,1134 1963.12,1136.15 1964.04,1138.07 1964.95,1139.79 1965.87,1141.32 1966.79,1142.68 1967.7,1143.89 1968.62,1144.96 1969.54,1145.9 1970.45,1146.72 1971.37,1147.44 1972.28,1148.07 1973.2,1148.62 1974.12,1149.09 1975.03,1149.5 1975.95,1149.85 1976.86,1150.16 1977.78,1150.42 1978.7,1150.64 1979.61,1150.83 1980.53,1150.99 1981.45,1151.12 1982.36,1151.24 1983.28,1151.33 1984.19,1151.42 1985.11,1151.48 1986.03,1151.54 1986.94,1151.59 1987.86,1151.63 1988.77,1151.66 1989.69,1151.68 1990.61,1151.71 1991.52,1151.72 1992.44,1151.74 1993.35,1151.75 1994.27,1151.76 1995.19,1151.77 1996.1,1151.78 1997.02,1151.78 1997.94,1151.78 1998.85,1151.79 1999.77,1151.79 2000.68,1151.79 2001.6,1151.79 2002.52,1151.8 2003.43,1151.8 2004.35,1151.8 2005.26,1151.8 2006.18,1151.8 2007.1,1151.8 2008.01,1151.8 2008.93,1151.8 2009.85,1151.8 2010.76,1151.8 2011.68,1151.8 2012.59,1151.8 2013.51,1151.8 2014.43,1151.8 2015.34,1151.8 2016.26,1151.8 2017.17,1151.8 2018.09,1151.8 2019.01,1151.8 2019.92,1151.8 2020.84,1151.8 2021.75,1151.8 2022.67,1151.8 2023.59,1151.8 2024.5,1151.8 2025.42,1151.8 2026.34,1151.8 2027.25,1151.8 2028.17,1151.8 2029.08,1151.8 2030,1151.8 2030.92,1151.8 2031.83,1151.8 2032.75,1151.8 2033.66,1151.8 2034.58,1151.8 2035.5,1151.8 2036.41,1151.8 2037.33,1151.8 2038.25,1151.8 2039.16,1151.8 2040.08,1151.8 2040.99,1151.8 2041.91,1151.8 2042.83,1151.8 2043.74,1151.8 2044.66,1151.8 2045.57,1151.8 2046.49,1151.8 2047.41,1151.8 2048.32,1151.8 2049.24,1151.8 2050.15,1151.8 2051.07,1151.8 2051.99,1151.8 2052.9,1151.8 2053.82,1151.8 2054.74,1151.8 2055.65,1151.8 2056.57,1151.8 2057.48,1151.8 2058.4,1151.8" stroke="#ff0000" stroke-width="9.7" fill="none" stroke-linejoin="round" stroke-dasharray="29.5 29"/><g font-family="'Liberation Sans', Arial, Helvetica, sans-serif" font-size="48.3"><text transform="translate(1234.8 1250) scale(1 1.055)" text-anchor="middle">6</text><text transform="translate(1222.57 1250) scale(1 1.055)" text-anchor="end">&#8722;</text><text transform="translate(1372.07 1250) scale(1 1.055)" text-anchor="middle">4</text><text transform="translate(1359.84 1250) scale(1 1.055)" text-anchor="end">&#8722;</text><text transform="translate(1509.33 1250) scale(1 1.055)" text-anchor="middle">2</text><text transform="translate(1497.1 1250) scale(1 1.055)" text-anchor="end">&#8722;</text><text transform="translate(1646.6 1250) scale(1 1.055)" text-anchor="middle">0</text><text transform="translate(1783.87 1250) scale(1 1.055)" text-anchor="middle">2</text><text transform="translate(1921.13 1250) scale(1 1.055)" text-anchor="middle">4</text><text transform="translate(2058.4 1250) scale(1 1.055)" text-anchor="middle">6</text><text transform="translate(1221.2 1170.1) scale(1 1.055)" text-anchor="end">0</text><text transform="translate(1221.2 984.95) scale(1 1.055)" text-anchor="end">0.05</text><text transform="translate(1221.2 799.8) scale(1 1.055)" text-anchor="end">0.1</text></g><rect x="1461" y="824.2" width="313.7" height="196.8" fill="#fff" stroke="#000" stroke-width="2.2"/><path d="M1490.5 880.5H1636.3" stroke="#0000ff" stroke-width="9.7"/><path d="M1490.5 971H1636.3" stroke="#ff0000" stroke-width="9.7" stroke-dasharray="29.5 29"/><g font-family="'Liberation Serif', 'Times New Roman', serif" font-size="51.5" class="cm"><text x="1652.27" y="894.2">Thy</text><text x="1650.35" y="988.5">Sim</text></g><g font-family="'Liberation Serif', 'Times New Roman', serif" class="cm"><text x="1567.03" y="1307.8" font-size="51.5" font-style="italic">x</text><text x="1608.65" y="1307.8" font-size="53.5">(</text><text x="1625.02" y="1307.8" font-size="51.5">mm</text><text x="1705.68" y="1307.8" font-size="53.5">)</text></g><g font-family="'Liberation Serif', 'Times New Roman', serif" class="cm" transform="translate(1093 1044.55) rotate(-90)"><text x="-0.6" y="0" font-size="51.5" font-style="italic">S</text><text x="39.05" y="0" font-size="53.5">(</text><text x="58.43" y="0" font-size="51.5" font-style="italic">x</text><text x="85.29" y="0" font-size="51.5" font-style="italic">,</text><text x="104.24" y="0" font-size="51.5">0</text><text x="129.88" y="0" font-size="53.5">)</text></g><g font-family="'Liberation Serif', 'Times New Roman', serif" class="cm"><text x="1621.12" y="1366.4" font-size="53.5">(</text><text x="1637.08" y="1366.4" font-size="51.5">f</text><text x="1655.41" y="1366.4" font-size="53.5">)</text></g><g><rect x="136.3" y="1456.6" width="14.28" height="64.9" fill="#00008f"/><rect x="149.98" y="1456.6" width="14.28" height="64.9" fill="#00008f"/><rect x="163.67" y="1456.6" width="14.28" height="64.9" fill="#0000af"/><rect x="177.35" y="1456.6" width="14.28" height="64.9" fill="#0000bf"/><rect x="191.03" y="1456.6" width="14.28" height="64.9" fill="#0000cf"/><rect x="204.71" y="1456.6" width="14.28" height="64.9" fill="#0000df"/><rect x="218.4" y="1456.6" width="14.28" height="64.9" fill="#0000ef"/><rect x="232.08" y="1456.6" width="14.28" height="64.9" fill="#0000ff"/><rect x="245.76" y="1456.6" width="14.28" height="64.9" fill="#0010ff"/><rect x="259.45" y="1456.6" width="14.28" height="64.9" fill="#0020ff"/><rect x="273.13" y="1456.6" width="14.28" height="64.9" fill="#0030ff"/><rect x="286.81" y="1456.6" width="14.28" height="64.9" fill="#0040ff"/><rect x="300.49" y="1456.6" width="14.28" height="64.9" fill="#0050ff"/><rect x="314.18" y="1456.6" width="14.28" height="64.9" fill="#0060ff"/><rect x="327.86" y="1456.6" width="14.28" height="64.9" fill="#0070ff"/><rect x="341.54" y="1456.6" width="14.28" height="64.9" fill="#0080ff"/><rect x="355.23" y="1456.6" width="14.28" height="64.9" fill="#008fff"/><rect x="368.91" y="1456.6" width="14.28" height="64.9" fill="#009fff"/><rect x="382.59" y="1456.6" width="14.28" height="64.9" fill="#00afff"/><rect x="396.27" y="1456.6" width="14.28" height="64.9" fill="#00bfff"/><rect x="409.96" y="1456.6" width="14.28" height="64.9" fill="#00cfff"/><rect x="423.64" y="1456.6" width="14.28" height="64.9" fill="#00dfff"/><rect x="437.32" y="1456.6" width="14.28" height="64.9" fill="#00efff"/><rect x="451" y="1456.6" width="14.28" height="64.9" fill="#00ffff"/><rect x="464.69" y="1456.6" width="14.28" height="64.9" fill="#10ffef"/><rect x="478.37" y="1456.6" width="14.28" height="64.9" fill="#20ffdf"/><rect x="492.05" y="1456.6" width="14.28" height="64.9" fill="#30ffcf"/><rect x="505.74" y="1456.6" width="14.28" height="64.9" fill="#40ffbf"/><rect x="519.42" y="1456.6" width="14.28" height="64.9" fill="#50ffaf"/><rect x="533.1" y="1456.6" width="14.28" height="64.9" fill="#60ff9f"/><rect x="546.78" y="1456.6" width="14.28" height="64.9" fill="#70ff8f"/><rect x="560.47" y="1456.6" width="14.28" height="64.9" fill="#80ff80"/><rect x="574.15" y="1456.6" width="14.28" height="64.9" fill="#8fff70"/><rect x="587.83" y="1456.6" width="14.28" height="64.9" fill="#9fff60"/><rect x="601.52" y="1456.6" width="14.28" height="64.9" fill="#afff50"/><rect x="615.2" y="1456.6" width="14.28" height="64.9" fill="#bfff40"/><rect x="628.88" y="1456.6" width="14.28" height="64.9" fill="#cfff30"/><rect x="642.56" y="1456.6" width="14.28" height="64.9" fill="#dfff20"/><rect x="656.25" y="1456.6" width="14.28" height="64.9" fill="#efff10"/><rect x="669.93" y="1456.6" width="14.28" height="64.9" fill="#ffff00"/><rect x="683.61" y="1456.6" width="14.28" height="64.9" fill="#ffef00"/><rect x="697.3" y="1456.6" width="14.28" height="64.9" fill="#ffdf00"/><rect x="710.98" y="1456.6" width="14.28" height="64.9" fill="#ffcf00"/><rect x="724.66" y="1456.6" width="14.28" height="64.9" fill="#ffbf00"/><rect x="738.34" y="1456.6" width="14.28" height="64.9" fill="#ffaf00"/><rect x="752.03" y="1456.6" width="14.28" height="64.9" fill="#ff9f00"/><rect x="765.71" y="1456.6" width="14.28" height="64.9" fill="#ff8f00"/><rect x="779.39" y="1456.6" width="14.28" height="64.9" fill="#ff8000"/><rect x="793.08" y="1456.6" width="14.28" height="64.9" fill="#ff7000"/><rect x="806.76" y="1456.6" width="14.28" height="64.9" fill="#ff6000"/><rect x="820.44" y="1456.6" width="14.28" height="64.9" fill="#ff5000"/><rect x="834.12" y="1456.6" width="14.28" height="64.9" fill="#ff4000"/><rect x="847.81" y="1456.6" width="14.28" height="64.9" fill="#ff3000"/><rect x="861.49" y="1456.6" width="14.28" height="64.9" fill="#ff2000"/><rect x="875.17" y="1456.6" width="14.28" height="64.9" fill="#ff1000"/><rect x="888.85" y="1456.6" width="14.28" height="64.9" fill="#ff0000"/><rect x="902.54" y="1456.6" width="14.28" height="64.9" fill="#ef0000"/><rect x="916.22" y="1456.6" width="14.28" height="64.9" fill="#df0000"/><rect x="929.9" y="1456.6" width="14.28" height="64.9" fill="#cf0000"/><rect x="943.59" y="1456.6" width="14.28" height="64.9" fill="#bf0000"/><rect x="957.27" y="1456.6" width="14.28" height="64.9" fill="#af0000"/><rect x="970.95" y="1456.6" width="14.28" height="64.9" fill="#9f0000"/><rect x="984.63" y="1456.6" width="14.28" height="64.9" fill="#800000"/><rect x="998.32" y="1456.6" width="13.68" height="64.9" fill="#800000"/><path d="M468 1456.6v8.6M468 1521.5v-8.6" stroke="#000" stroke-width="2.1"/><path d="M799.71 1456.6v8.6M799.71 1521.5v-8.6" stroke="#000" stroke-width="2.1"/><rect x="136.3" y="1456.6" width="875.7" height="64.9" fill="none" stroke="#000" stroke-width="2.3"/><g font-family="'Liberation Sans', Arial, Helvetica, sans-serif" font-size="48.3"><text transform="translate(136.3 1444.3) scale(1 1.055)" text-anchor="middle">0</text><text transform="translate(468 1444.3) scale(1 1.055)" text-anchor="middle">5</text><text transform="translate(799.71 1444.3) scale(1 1.055)" text-anchor="middle">10</text></g></g><clipPath id="c5"><rect x="140.3" y="1551.5" width="344.7" height="344.6"/></clipPath><g clip-path="url(#c5)"><rect x="140.3" y="1551.5" width="344.7" height="344.6" fill="#00008f"/><ellipse cx="324.03" cy="1723.85" rx="129.51" ry="115.79" fill="#00009f"/><ellipse cx="339.54" cy="1723.85" rx="88.48" ry="75.3" fill="#0000af"/><ellipse cx="347.34" cy="1723.85" rx="67.03" ry="56.04" fill="#0000bf"/><ellipse cx="353.28" cy="1723.85" rx="54.76" ry="43.43" fill="#0000cf"/><ellipse cx="357.36" cy="1723.85" rx="41.72" ry="33.55" fill="#0000df"/><ellipse cx="359.46" cy="1723.85" rx="35.37" ry="29.42" fill="#0000ef"/><ellipse cx="361.55" cy="1723.85" rx="30.54" ry="26.24" fill="#0000ff"/><ellipse cx="363.17" cy="1723.85" rx="27.08" ry="24.01" fill="#0010ff"/><ellipse cx="364.2" cy="1723.85" rx="24.37" ry="22.28" fill="#0020ff"/><ellipse cx="364.83" cy="1723.85" rx="22.07" ry="20.79" fill="#0030ff"/><ellipse cx="365.3" cy="1723.85" rx="20.22" ry="19.6" fill="#0040ff"/><ellipse cx="365.7" cy="1723.85" rx="18.73" ry="18.67" fill="#0050ff"/><ellipse cx="366.12" cy="1723.85" rx="17.5" ry="17.5" fill="#0060ff"/><ellipse cx="366.57" cy="1723.85" rx="16.35" ry="16.35" fill="#0070ff"/><ellipse cx="366.96" cy="1723.85" rx="15.36" ry="15.36" fill="#0080ff"/><ellipse cx="367.24" cy="1723.85" rx="14.48" ry="14.48" fill="#008fff"/><ellipse cx="367.43" cy="1723.85" rx="13.72" ry="13.72" fill="#009fff"/><ellipse cx="367.57" cy="1723.85" rx="13.02" ry="13.02" fill="#00afff"/><ellipse cx="367.67" cy="1723.85" rx="12.4" ry="12.4" fill="#00bfff"/><ellipse cx="367.76" cy="1723.85" rx="11.83" ry="11.83" fill="#00cfff"/><ellipse cx="367.82" cy="1723.85" rx="11.32" ry="11.32" fill="#00dfff"/><ellipse cx="367.86" cy="1723.85" rx="10.84" ry="10.84" fill="#00efff"/><ellipse cx="367.91" cy="1723.85" rx="10.4" ry="10.4" fill="#00ffff"/><ellipse cx="367.93" cy="1723.85" rx="9.99" ry="9.99" fill="#10ffef"/><ellipse cx="367.95" cy="1723.85" rx="9.63" ry="9.63" fill="#20ffdf"/><ellipse cx="367.96" cy="1723.85" rx="9.31" ry="9.31" fill="#30ffcf"/><ellipse cx="367.96" cy="1723.85" rx="9.02" ry="9.02" fill="#40ffbf"/><ellipse cx="367.96" cy="1723.85" rx="8.74" ry="8.74" fill="#50ffaf"/><ellipse cx="367.95" cy="1723.85" rx="8.47" ry="8.47" fill="#60ff9f"/><ellipse cx="367.94" cy="1723.85" rx="8.22" ry="8.22" fill="#70ff8f"/><ellipse cx="367.93" cy="1723.85" rx="7.97" ry="7.97" fill="#80ff80"/><ellipse cx="367.92" cy="1723.85" rx="7.72" ry="7.72" fill="#8fff70"/><ellipse cx="367.92" cy="1723.85" rx="7.48" ry="7.48" fill="#9fff60"/><ellipse cx="367.91" cy="1723.85" rx="7.23" ry="7.23" fill="#afff50"/><ellipse cx="367.89" cy="1723.85" rx="6.99" ry="6.99" fill="#bfff40"/><ellipse cx="367.87" cy="1723.85" rx="6.77" ry="6.77" fill="#cfff30"/><ellipse cx="367.85" cy="1723.85" rx="6.53" ry="6.53" fill="#dfff20"/><ellipse cx="367.83" cy="1723.85" rx="6.31" ry="6.31" fill="#efff10"/><ellipse cx="367.83" cy="1723.85" rx="6.08" ry="6.08" fill="#ffff00"/><ellipse cx="367.85" cy="1723.85" rx="5.84" ry="5.84" fill="#ffef00"/><ellipse cx="367.86" cy="1723.85" rx="5.6" ry="5.6" fill="#ffdf00"/><ellipse cx="367.89" cy="1723.85" rx="5.35" ry="5.35" fill="#ffcf00"/><ellipse cx="367.93" cy="1723.85" rx="5.1" ry="5.1" fill="#ffbf00"/><ellipse cx="367.98" cy="1723.85" rx="4.85" ry="4.85" fill="#ffaf00"/><ellipse cx="368.02" cy="1723.85" rx="4.59" ry="4.59" fill="#ff9f00"/><ellipse cx="368.06" cy="1723.85" rx="4.34" ry="4.34" fill="#ff8f00"/><ellipse cx="368.11" cy="1723.85" rx="4.1" ry="4.1" fill="#ff8000"/><ellipse cx="368.16" cy="1723.85" rx="3.87" ry="3.87" fill="#ff7000"/><ellipse cx="368.19" cy="1723.85" rx="3.64" ry="3.64" fill="#ff6000"/><ellipse cx="368.24" cy="1723.85" rx="3.43" ry="3.43" fill="#ff5000"/><ellipse cx="368.25" cy="1723.85" rx="3.22" ry="3.22" fill="#ff4000"/><ellipse cx="368.28" cy="1723.85" rx="3.02" ry="3.02" fill="#ff3000"/><ellipse cx="368.3" cy="1723.85" rx="2.85" ry="2.85" fill="#ff2000"/><ellipse cx="368.3" cy="1723.85" rx="2.68" ry="2.68" fill="#ff1000"/><ellipse cx="368.32" cy="1723.85" rx="2.53" ry="2.53" fill="#ff0000"/><ellipse cx="368.33" cy="1723.85" rx="2.38" ry="2.38" fill="#ef0000"/><ellipse cx="368.35" cy="1723.85" rx="2.22" ry="2.22" fill="#df0000"/><ellipse cx="368.35" cy="1723.85" rx="2.07" ry="2.07" fill="#cf0000"/><ellipse cx="368.37" cy="1723.85" rx="1.9" ry="1.9" fill="#bf0000"/><ellipse cx="368.37" cy="1723.85" rx="1.71" ry="1.71" fill="#af0000"/><ellipse cx="368.37" cy="1723.85" rx="1.45" ry="1.45" fill="#9f0000"/><ellipse cx="368.37" cy="1723.85" rx="1.14" ry="1.14" fill="#8f0000"/><ellipse cx="368.37" cy="1723.85" rx="0.77" ry="0.77" fill="#800000"/></g><path d="M150.15 1551.5v3.3M150.15 1896.1v-3.3M140.3 1561.34h3.3M485 1561.34h-3.3M312.65 1551.5v3.3M312.65 1896.1v-3.3M140.3 1723.8h3.3M485 1723.8h-3.3M475.15 1551.5v3.3M475.15 1896.1v-3.3M140.3 1886.26h3.3M485 1886.26h-3.3" stroke="#000" stroke-width="2.1"/><rect x="140.3" y="1551.5" width="344.7" height="344.6" fill="none" stroke="#000" stroke-width="2.3"/><g font-family="'Liberation Sans', Arial, Helvetica, sans-serif" font-size="48.3"><text transform="translate(150.15 1956) scale(1 1.055)" text-anchor="middle">1</text><text transform="translate(137.92 1956) scale(1 1.055)" text-anchor="end">&#8722;</text><text transform="translate(127.2 1579.64) scale(1 1.055)" text-anchor="end">&#8722;1</text><text transform="translate(312.65 1956) scale(1 1.055)" text-anchor="middle">0</text><text transform="translate(127.2 1742.1) scale(1 1.055)" text-anchor="end">0</text><text transform="translate(475.15 1956) scale(1 1.055)" text-anchor="middle">1</text><text transform="translate(127.2 1904.56) scale(1 1.055)" text-anchor="end">1</text></g><g font-family="'Liberation Serif', 'Times New Roman', serif" class="cm"><text x="232.58" y="2013.7" font-size="51.5" font-style="italic">x</text><text x="274.2" y="2013.7" font-size="53.5">(</text><text x="290.57" y="2013.7" font-size="51.5">mm</text><text x="371.23" y="2013.7" font-size="53.5">)</text></g><g font-family="'Liberation Serif', 'Times New Roman', serif" class="cm" transform="translate(36.3 1801.2) rotate(-90)"><text x="4.3" y="0" font-size="51.5" font-style="italic">y</text><text x="39.05" y="0" font-size="53.5">(</text><text x="55.42" y="0" font-size="51.5">mm</text><text x="136.08" y="0" font-size="53.5">)</text></g><clipPath id="c6"><rect x="666.3" y="1551.5" width="344.7" height="344.6"/></clipPath><g clip-path="url(#c6)"><rect x="666.3" y="1551.5" width="344.7" height="344.6" fill="#00008f"/><ellipse cx="855.55" cy="1723.85" rx="123.99" ry="108.49" fill="#00009f"/><ellipse cx="870.58" cy="1723.85" rx="83.44" ry="70.93" fill="#0000af"/><ellipse cx="879.28" cy="1723.85" rx="62.89" ry="51.57" fill="#0000bf"/><ellipse cx="883.74" cy="1723.85" rx="50.13" ry="40.11" fill="#0000cf"/><ellipse cx="887.07" cy="1723.85" rx="38.39" ry="30.88" fill="#0000df"/><ellipse cx="889.31" cy="1723.85" rx="32.29" ry="26.86" fill="#0000ef"/><ellipse cx="891.35" cy="1723.85" rx="28.04" ry="24.09" fill="#0000ff"/><ellipse cx="892.62" cy="1723.85" rx="24.9" ry="22.07" fill="#0010ff"/><ellipse cx="893.37" cy="1723.85" rx="22.31" ry="20.39" fill="#0020ff"/><ellipse cx="893.89" cy="1723.85" rx="20.23" ry="19.05" fill="#0030ff"/><ellipse cx="894.33" cy="1723.85" rx="18.61" ry="18.04" fill="#0040ff"/><ellipse cx="894.81" cy="1723.85" rx="17.27" ry="17.21" fill="#0050ff"/><ellipse cx="895.3" cy="1723.85" rx="16.06" ry="16.06" fill="#0060ff"/><ellipse cx="895.68" cy="1723.85" rx="15" ry="15" fill="#0070ff"/><ellipse cx="895.94" cy="1723.85" rx="14.1" ry="14.1" fill="#0080ff"/><ellipse cx="896.12" cy="1723.85" rx="13.3" ry="13.3" fill="#008fff"/><ellipse cx="896.26" cy="1723.85" rx="12.59" ry="12.59" fill="#009fff"/><ellipse cx="896.34" cy="1723.85" rx="11.95" ry="11.95" fill="#00afff"/><ellipse cx="896.41" cy="1723.85" rx="11.38" ry="11.38" fill="#00bfff"/><ellipse cx="896.46" cy="1723.85" rx="10.84" ry="10.84" fill="#00cfff"/><ellipse cx="896.51" cy="1723.85" rx="10.37" ry="10.37" fill="#00dfff"/><ellipse cx="896.53" cy="1723.85" rx="9.93" ry="9.93" fill="#00efff"/><ellipse cx="896.56" cy="1723.85" rx="9.54" ry="9.54" fill="#00ffff"/><ellipse cx="896.56" cy="1723.85" rx="9.19" ry="9.19" fill="#10ffef"/><ellipse cx="896.56" cy="1723.85" rx="8.88" ry="8.88" fill="#20ffdf"/><ellipse cx="896.56" cy="1723.85" rx="8.58" ry="8.58" fill="#30ffcf"/><ellipse cx="896.55" cy="1723.85" rx="8.3" ry="8.3" fill="#40ffbf"/><ellipse cx="896.54" cy="1723.85" rx="8.03" ry="8.03" fill="#50ffaf"/><ellipse cx="896.52" cy="1723.85" rx="7.75" ry="7.75" fill="#60ff9f"/><ellipse cx="896.52" cy="1723.85" rx="7.48" ry="7.48" fill="#70ff8f"/><ellipse cx="896.51" cy="1723.85" rx="7.22" ry="7.22" fill="#80ff80"/><ellipse cx="896.49" cy="1723.85" rx="6.96" ry="6.96" fill="#8fff70"/><ellipse cx="896.46" cy="1723.85" rx="6.71" ry="6.71" fill="#9fff60"/><ellipse cx="896.45" cy="1723.85" rx="6.45" ry="6.45" fill="#afff50"/><ellipse cx="896.43" cy="1723.85" rx="6.2" ry="6.2" fill="#bfff40"/><ellipse cx="896.43" cy="1723.85" rx="5.94" ry="5.94" fill="#cfff30"/><ellipse cx="896.45" cy="1723.85" rx="5.68" ry="5.68" fill="#dfff20"/><ellipse cx="896.48" cy="1723.85" rx="5.41" ry="5.41" fill="#efff10"/><ellipse cx="896.52" cy="1723.85" rx="5.14" ry="5.14" fill="#ffff00"/><ellipse cx="896.57" cy="1723.85" rx="4.85" ry="4.85" fill="#ffef00"/><ellipse cx="896.62" cy="1723.85" rx="4.58" ry="4.58" fill="#ffdf00"/><ellipse cx="896.68" cy="1723.85" rx="4.31" ry="4.31" fill="#ffcf00"/><ellipse cx="896.72" cy="1723.85" rx="4.04" ry="4.04" fill="#ffbf00"/><ellipse cx="896.78" cy="1723.85" rx="3.78" ry="3.78" fill="#ffaf00"/><ellipse cx="896.81" cy="1723.85" rx="3.54" ry="3.54" fill="#ff9f00"/><ellipse cx="896.84" cy="1723.85" rx="3.31" ry="3.31" fill="#ff8f00"/><ellipse cx="896.88" cy="1723.85" rx="3.09" ry="3.09" fill="#ff8000"/><ellipse cx="896.89" cy="1723.85" rx="2.89" ry="2.89" fill="#ff7000"/><ellipse cx="896.9" cy="1723.85" rx="2.7" ry="2.7" fill="#ff6000"/><ellipse cx="896.91" cy="1723.85" rx="2.54" ry="2.54" fill="#ff5000"/><ellipse cx="896.93" cy="1723.85" rx="2.36" ry="2.36" fill="#ff4000"/><ellipse cx="896.94" cy="1723.85" rx="2.2" ry="2.2" fill="#ff3000"/><ellipse cx="896.96" cy="1723.85" rx="2.02" ry="2.02" fill="#ff2000"/><ellipse cx="896.97" cy="1723.85" rx="1.84" ry="1.84" fill="#ff1000"/><ellipse cx="896.97" cy="1723.85" rx="1.61" ry="1.61" fill="#ff0000"/><ellipse cx="896.97" cy="1723.85" rx="1.28" ry="1.28" fill="#ef0000"/><ellipse cx="896.97" cy="1723.85" rx="0.91" ry="0.91" fill="#df0000"/><ellipse cx="896.95" cy="1723.85" rx="0.39" ry="0.39" fill="#cf0000"/></g><path d="M676.15 1551.5v3.3M676.15 1896.1v-3.3M666.3 1561.34h3.3M1011 1561.34h-3.3M838.65 1551.5v3.3M838.65 1896.1v-3.3M666.3 1723.8h3.3M1011 1723.8h-3.3M1001.15 1551.5v3.3M1001.15 1896.1v-3.3M666.3 1886.26h3.3M1011 1886.26h-3.3" stroke="#000" stroke-width="2.1"/><rect x="666.3" y="1551.5" width="344.7" height="344.6" fill="none" stroke="#000" stroke-width="2.3"/><g font-family="'Liberation Sans', Arial, Helvetica, sans-serif" font-size="48.3"><text transform="translate(676.15 1956) scale(1 1.055)" text-anchor="middle">1</text><text transform="translate(663.92 1956) scale(1 1.055)" text-anchor="end">&#8722;</text><text transform="translate(653.2 1579.64) scale(1 1.055)" text-anchor="end">&#8722;1</text><text transform="translate(838.65 1956) scale(1 1.055)" text-anchor="middle">0</text><text transform="translate(653.2 1742.1) scale(1 1.055)" text-anchor="end">0</text><text transform="translate(1001.15 1956) scale(1 1.055)" text-anchor="middle">1</text><text transform="translate(653.2 1904.56) scale(1 1.055)" text-anchor="end">1</text></g><g font-family="'Liberation Serif', 'Times New Roman', serif" class="cm"><text x="758.58" y="2013.7" font-size="51.5" font-style="italic">x</text><text x="800.2" y="2013.7" font-size="53.5">(</text><text x="816.57" y="2013.7" font-size="51.5">mm</text><text x="897.23" y="2013.7" font-size="53.5">)</text></g><g font-family="'Liberation Serif', 'Times New Roman', serif" class="cm" transform="translate(562.3 1801.2) rotate(-90)"><text x="4.3" y="0" font-size="51.5" font-style="italic">y</text><text x="39.05" y="0" font-size="53.5">(</text><text x="55.42" y="0" font-size="51.5">mm</text><text x="136.08" y="0" font-size="53.5">)</text></g><g font-family="'Liberation Serif', 'Times New Roman', serif" class="cm"><text x="283.77" y="2072" font-size="53.5">(</text><text x="299.11" y="2072" font-size="51.5">g</text><text x="325.05" y="2072" font-size="53.5">)</text></g><g font-family="'Liberation Serif', 'Times New Roman', serif" class="cm"><text x="808.76" y="2072" font-size="53.5">(</text><text x="825.81" y="2072" font-size="51.5">h</text><text x="852.06" y="2072" font-size="53.5">)</text></g><rect x="1234.8" y="1455.3" width="823.6" height="438.4" fill="#fff"/><path d="M1258.4 1454.3V1893.7M1452.22 1454.3V1893.7M1646.05 1454.3V1893.7M1839.88 1454.3V1893.7M2033.7 1454.3V1893.7" stroke="#000" stroke-width="2" stroke-dasharray="3 18.85" fill="none"/><path d="M1234.8 1727.4H2058.4M1234.8 1561.9H2058.4" stroke="#000" stroke-width="2" stroke-dasharray="3 18.95" fill="none"/><path d="M1258.4 1455.3v7.8M1258.4 1893.7v-7.8M1452.22 1455.3v7.8M1452.22 1893.7v-7.8M1646.05 1455.3v7.8M1646.05 1893.7v-7.8M1839.88 1455.3v7.8M1839.88 1893.7v-7.8M2033.7 1455.3v7.8M2033.7 1893.7v-7.8M1234.8 1892.9h7.8M2058.4 1892.9h-7.8M1234.8 1727.4h7.8M2058.4 1727.4h-7.8M1234.8 1561.9h7.8M2058.4 1561.9h-7.8" stroke="#000" stroke-width="2.1"/><rect x="1234.8" y="1455.3" width="823.6" height="438.4" fill="none" stroke="#000" stroke-width="2.2"/><path d="M1234.8,1889.4 1235.35,1889.39 1235.9,1889.38 1236.45,1889.37 1237,1889.35 1237.55,1889.34 1238.1,1889.33 1238.65,1889.32 1239.2,1889.31 1239.74,1889.3 1240.29,1889.28 1240.84,1889.27 1241.39,1889.26 1241.94,1889.25 1242.49,1889.24 1243.04,1889.23 1243.59,1889.21 1244.14,1889.2 1244.69,1889.19 1245.24,1889.18 1245.79,1889.17 1246.34,1889.15 1246.89,1889.14 1247.44,1889.13 1247.99,1889.12 1248.54,1889.11 1249.09,1889.09 1249.63,1889.08 1250.18,1889.07 1250.73,1889.06 1251.28,1889.05 1251.83,1889.03 1252.38,1889.02 1252.93,1889.01 1253.48,1889 1254.03,1888.98 1254.58,1888.97 1255.13,1888.96 1255.68,1888.95 1256.23,1888.93 1256.78,1888.92 1257.33,1888.91 1257.88,1888.9 1258.43,1888.88 1258.98,1888.87 1259.52,1888.86 1260.07,1888.85 1260.62,1888.83 1261.17,1888.82 1261.72,1888.81 1262.27,1888.79 1262.82,1888.78 1263.37,1888.77 1263.92,1888.76 1264.47,1888.74 1265.02,1888.73 1265.57,1888.72 1266.12,1888.7 1266.67,1888.69 1267.22,1888.68 1267.77,1888.67 1268.32,1888.65 1268.86,1888.64 1269.41,1888.63 1269.96,1888.61 1270.51,1888.6 1271.06,1888.59 1271.61,1888.57 1272.16,1888.56 1272.71,1888.55 1273.26,1888.53 1273.81,1888.52 1274.36,1888.51 1274.91,1888.49 1275.46,1888.48 1276.01,1888.47 1276.56,1888.45 1277.11,1888.44 1277.66,1888.42 1278.21,1888.41 1278.75,1888.4 1279.3,1888.38 1279.85,1888.37 1280.4,1888.36 1280.95,1888.34 1281.5,1888.33 1282.05,1888.31 1282.6,1888.3 1283.15,1888.29 1283.7,1888.27 1284.25,1888.26 1284.8,1888.24 1285.35,1888.23 1285.9,1888.22 1286.45,1888.2 1287,1888.19 1287.55,1888.17 1288.09,1888.16 1288.64,1888.15 1289.19,1888.13 1289.74,1888.12 1290.29,1888.1 1290.84,1888.09 1291.39,1888.07 1291.94,1888.06 1292.49,1888.04 1293.04,1888.03 1293.59,1888.02 1294.14,1888 1294.69,1887.99 1295.24,1887.97 1295.79,1887.96 1296.34,1887.94 1296.89,1887.93 1297.44,1887.91 1297.98,1887.9 1298.53,1887.88 1299.08,1887.87 1299.63,1887.85 1300.18,1887.84 1300.73,1887.82 1301.28,1887.81 1301.83,1887.79 1302.38,1887.78 1302.93,1887.76 1303.48,1887.75 1304.03,1887.73 1304.58,1887.72 1305.13,1887.7 1305.68,1887.69 1306.23,1887.67 1306.78,1887.66 1307.33,1887.64 1307.87,1887.63 1308.42,1887.61 1308.97,1887.6 1309.52,1887.58 1310.07,1887.57 1310.62,1887.55 1311.17,1887.54 1311.72,1887.52 1312.27,1887.51 1312.82,1887.49 1313.37,1887.47 1313.92,1887.46 1314.47,1887.44 1315.02,1887.43 1315.57,1887.41 1316.12,1887.4 1316.67,1887.38 1317.21,1887.36 1317.76,1887.35 1318.31,1887.33 1318.86,1887.32 1319.41,1887.3 1319.96,1887.28 1320.51,1887.27 1321.06,1887.25 1321.61,1887.24 1322.16,1887.22 1322.71,1887.2 1323.26,1887.19 1323.81,1887.17 1324.36,1887.16 1324.91,1887.14 1325.46,1887.12 1326.01,1887.11 1326.56,1887.09 1327.1,1887.07 1327.65,1887.06 1328.2,1887.04 1328.75,1887.03 1329.3,1887.01 1329.85,1886.99 1330.4,1886.98 1330.95,1886.96 1331.5,1886.94 1332.05,1886.93 1332.6,1886.91 1333.15,1886.89 1333.7,1886.88 1334.25,1886.86 1334.8,1886.84 1335.35,1886.83 1335.9,1886.81 1336.45,1886.79 1336.99,1886.78 1337.54,1886.76 1338.09,1886.74 1338.64,1886.72 1339.19,1886.71 1339.74,1886.69 1340.29,1886.67 1340.84,1886.66 1341.39,1886.64 1341.94,1886.62 1342.49,1886.61 1343.04,1886.59 1343.59,1886.57 1344.14,1886.55 1344.69,1886.54 1345.24,1886.52 1345.79,1886.5 1346.33,1886.48 1346.88,1886.47 1347.43,1886.45 1347.98,1886.43 1348.53,1886.41 1349.08,1886.4 1349.63,1886.38 1350.18,1886.36 1350.73,1886.34 1351.28,1886.33 1351.83,1886.31 1352.38,1886.29 1352.93,1886.27 1353.48,1886.26 1354.03,1886.24 1354.58,1886.22 1355.13,1886.2 1355.68,1886.18 1356.22,1886.17 1356.77,1886.15 1357.32,1886.13 1357.87,1886.11 1358.42,1886.09 1358.97,1886.08 1359.52,1886.06 1360.07,1886.04 1360.62,1886.02 1361.17,1886 1361.72,1885.98 1362.27,1885.97 1362.82,1885.95 1363.37,1885.93 1363.92,1885.91 1364.47,1885.89 1365.02,1885.87 1365.57,1885.86 1366.11,1885.84 1366.66,1885.82 1367.21,1885.8 1367.76,1885.78 1368.31,1885.76 1368.86,1885.74 1369.41,1885.72 1369.96,1885.71 1370.51,1885.69 1371.06,1885.67 1371.61,1885.65 1372.16,1885.63 1372.71,1885.61 1373.26,1885.59 1373.81,1885.57 1374.36,1885.55 1374.91,1885.54 1375.45,1885.52 1376,1885.5 1376.55,1885.48 1377.1,1885.46 1377.65,1885.44 1378.2,1885.42 1378.75,1885.4 1379.3,1885.38 1379.85,1885.36 1380.4,1885.34 1380.95,1885.32 1381.5,1885.3 1382.05,1885.28 1382.6,1885.26 1383.15,1885.24 1383.7,1885.22 1384.25,1885.21 1384.8,1885.19 1385.34,1885.17 1385.89,1885.15 1386.44,1885.13 1386.99,1885.11 1387.54,1885.09 1388.09,1885.07 1388.64,1885.05 1389.19,1885.03 1389.74,1885.01 1390.29,1884.99 1390.84,1884.97 1391.39,1884.95 1391.94,1884.93 1392.49,1884.91 1393.04,1884.89 1393.59,1884.87 1394.14,1884.85 1394.68,1884.82 1395.23,1884.8 1395.78,1884.78 1396.33,1884.76 1396.88,1884.74 1397.43,1884.72 1397.98,1884.7 1398.53,1884.68 1399.08,1884.66 1399.63,1884.64 1400.18,1884.62 1400.73,1884.6 1401.28,1884.58 1401.83,1884.56 1402.38,1884.54 1402.93,1884.52 1403.48,1884.5 1404.03,1884.47 1404.57,1884.45 1405.12,1884.43 1405.67,1884.41 1406.22,1884.39 1406.77,1884.37 1407.32,1884.35 1407.87,1884.33 1408.42,1884.31 1408.97,1884.29 1409.52,1884.26 1410.07,1884.24 1410.62,1884.22 1411.17,1884.2 1411.72,1884.18 1412.27,1884.16 1412.82,1884.14 1413.37,1884.12 1413.92,1884.09 1414.46,1884.07 1415.01,1884.05 1415.56,1884.03 1416.11,1884.01 1416.66,1883.99 1417.21,1883.96 1417.76,1883.94 1418.31,1883.92 1418.86,1883.9 1419.41,1883.88 1419.96,1883.86 1420.51,1883.83 1421.06,1883.81 1421.61,1883.79 1422.16,1883.77 1422.71,1883.75 1423.26,1883.72 1423.8,1883.7 1424.35,1883.68 1424.9,1883.66 1425.45,1883.64 1426,1883.61 1426.55,1883.59 1427.1,1883.57 1427.65,1883.55 1428.2,1883.52 1428.75,1883.5 1429.3,1883.48 1429.85,1883.46 1430.4,1883.43 1430.95,1883.41 1431.5,1883.39 1432.05,1883.37 1432.6,1883.34 1433.15,1883.32 1433.69,1883.3 1434.24,1883.28 1434.79,1883.25 1435.34,1883.23 1435.89,1883.21 1436.44,1883.18 1436.99,1883.16 1437.54,1883.14 1438.09,1883.11 1438.64,1883.09 1439.19,1883.07 1439.74,1883.04 1440.29,1883.02 1440.84,1883 1441.39,1882.98 1441.94,1882.95 1442.49,1882.93 1443.04,1882.9 1443.58,1882.88 1444.13,1882.86 1444.68,1882.83 1445.23,1882.81 1445.78,1882.79 1446.33,1882.76 1446.88,1882.74 1447.43,1882.72 1447.98,1882.69 1448.53,1882.67 1449.08,1882.64 1449.63,1882.62 1450.18,1882.6 1450.73,1882.57 1451.28,1882.55 1451.83,1882.52 1452.38,1882.5 1452.92,1882.48 1453.47,1882.45 1454.02,1882.43 1454.57,1882.4 1455.12,1882.38 1455.67,1882.36 1456.22,1882.33 1456.77,1882.31 1457.32,1882.28 1457.87,1882.26 1458.42,1882.24 1458.97,1882.21 1459.52,1882.19 1460.07,1882.16 1460.62,1882.14 1461.17,1882.12 1461.72,1882.09 1462.27,1882.07 1462.81,1882.04 1463.36,1882.02 1463.91,1882 1464.46,1881.97 1465.01,1881.95 1465.56,1881.93 1466.11,1881.9 1466.66,1881.88 1467.21,1881.85 1467.76,1881.83 1468.31,1881.81 1468.86,1881.78 1469.41,1881.76 1469.96,1881.73 1470.51,1881.71 1471.06,1881.69 1471.61,1881.66 1472.16,1881.64 1472.7,1881.61 1473.25,1881.59 1473.8,1881.57 1474.35,1881.54 1474.9,1881.52 1475.45,1881.49 1476,1881.47 1476.55,1881.45 1477.1,1881.42 1477.65,1881.4 1478.2,1881.37 1478.75,1881.35 1479.3,1881.32 1479.85,1881.3 1480.4,1881.27 1480.95,1881.25 1481.5,1881.22 1482.04,1881.2 1482.59,1881.17 1483.14,1881.15 1483.69,1881.12 1484.24,1881.1 1484.79,1881.07 1485.34,1881.05 1485.89,1881.02 1486.44,1881 1486.99,1880.97 1487.54,1880.95 1488.09,1880.92 1488.64,1880.9 1489.19,1880.87 1489.74,1880.84 1490.29,1880.82 1490.84,1880.79 1491.39,1880.77 1491.93,1880.74 1492.48,1880.71 1493.03,1880.69 1493.58,1880.66 1494.13,1880.63 1494.68,1880.6 1495.23,1880.58 1495.78,1880.55 1496.33,1880.52 1496.88,1880.5 1497.43,1880.47 1497.98,1880.44 1498.53,1880.41 1499.08,1880.38 1499.63,1880.36 1500.18,1880.33 1500.73,1880.3 1501.27,1880.27 1501.82,1880.24 1502.37,1880.21 1502.92,1880.18 1503.47,1880.15 1504.02,1880.12 1504.57,1880.09 1505.12,1880.06 1505.67,1880.03 1506.22,1880 1506.77,1879.97 1507.32,1879.94 1507.87,1879.91 1508.42,1879.88 1508.97,1879.85 1509.52,1879.82 1510.07,1879.79 1510.62,1879.76 1511.16,1879.72 1511.71,1879.69 1512.26,1879.66 1512.81,1879.63 1513.36,1879.59 1513.91,1879.56 1514.46,1879.53 1515.01,1879.49 1515.56,1879.46 1516.11,1879.42 1516.66,1879.39 1517.21,1879.36 1517.76,1879.32 1518.31,1879.29 1518.86,1879.25 1519.41,1879.21 1519.96,1879.18 1520.51,1879.14 1521.05,1879.11 1521.6,1879.07 1522.15,1879.03 1522.7,1879 1523.25,1878.96 1523.8,1878.92 1524.35,1878.89 1524.9,1878.85 1525.45,1878.81 1526,1878.77 1526.55,1878.74 1527.1,1878.7 1527.65,1878.66 1528.2,1878.62 1528.75,1878.58 1529.3,1878.54 1529.85,1878.5 1530.39,1878.46 1530.94,1878.43 1531.49,1878.39 1532.04,1878.35 1532.59,1878.3 1533.14,1878.26 1533.69,1878.22 1534.24,1878.18 1534.79,1878.14 1535.34,1878.1 1535.89,1878.06 1536.44,1878.02 1536.99,1877.97 1537.54,1877.93 1538.09,1877.89 1538.64,1877.85 1539.19,1877.8 1539.74,1877.76 1540.28,1877.72 1540.83,1877.67 1541.38,1877.63 1541.93,1877.58 1542.48,1877.54 1543.03,1877.49 1543.58,1877.45 1544.13,1877.4 1544.68,1877.36 1545.23,1877.31 1545.78,1877.26 1546.33,1877.22 1546.88,1877.17 1547.43,1877.12 1547.98,1877.08 1548.53,1877.03 1549.08,1876.98 1549.63,1876.93 1550.17,1876.89 1550.72,1876.84 1551.27,1876.79 1551.82,1876.74 1552.37,1876.69 1552.92,1876.64 1553.47,1876.59 1554.02,1876.54 1554.57,1876.49 1555.12,1876.44 1555.67,1876.39 1556.22,1876.33 1556.77,1876.28 1557.32,1876.23 1557.87,1876.18 1558.42,1876.13 1558.97,1876.07 1559.51,1876.02 1560.06,1875.96 1560.61,1875.91 1561.16,1875.86 1561.71,1875.8 1562.26,1875.75 1562.81,1875.69 1563.36,1875.64 1563.91,1875.58 1564.46,1875.52 1565.01,1875.47 1565.56,1875.41 1566.11,1875.35 1566.66,1875.29 1567.21,1875.24 1567.76,1875.18 1568.31,1875.12 1568.86,1875.06 1569.4,1875 1569.95,1874.94 1570.5,1874.88 1571.05,1874.82 1571.6,1874.76 1572.15,1874.7 1572.7,1874.64 1573.25,1874.58 1573.8,1874.51 1574.35,1874.45 1574.9,1874.39 1575.45,1874.32 1576,1874.26 1576.55,1874.19 1577.1,1874.13 1577.65,1874.06 1578.2,1874 1578.75,1873.93 1579.29,1873.86 1579.84,1873.8 1580.39,1873.73 1580.94,1873.66 1581.49,1873.59 1582.04,1873.52 1582.59,1873.45 1583.14,1873.38 1583.69,1873.31 1584.24,1873.24 1584.79,1873.17 1585.34,1873.1 1585.89,1873.02 1586.44,1872.95 1586.99,1872.88 1587.54,1872.8 1588.09,1872.73 1588.63,1872.65 1589.18,1872.58 1589.73,1872.5 1590.28,1872.42 1590.83,1872.35 1591.38,1872.27 1591.93,1872.19 1592.48,1872.11 1593.03,1872.03 1593.58,1871.95 1594.13,1871.87 1594.68,1871.79 1595.23,1871.71 1595.78,1871.63 1596.33,1871.54 1596.88,1871.46 1597.43,1871.38 1597.98,1871.29 1598.52,1871.21 1599.07,1871.12 1599.62,1871.04 1600.17,1870.95 1600.72,1870.86 1601.27,1870.78 1601.82,1870.69 1602.37,1870.6 1602.92,1870.51 1603.47,1870.42 1604.02,1870.33 1604.57,1870.24 1605.12,1870.15 1605.67,1870.05 1606.22,1869.96 1606.77,1869.87 1607.32,1869.78 1607.86,1869.68 1608.41,1869.59 1608.96,1869.49 1609.51,1869.39 1610.06,1869.3 1610.61,1869.2 1611.16,1869.1 1611.71,1869 1612.26,1868.9 1612.81,1868.81 1613.36,1868.71 1613.91,1868.6 1614.46,1868.5 1615.01,1868.4 1615.56,1868.3 1616.11,1868.19 1616.66,1868.09 1617.21,1867.99 1617.75,1867.88 1618.3,1867.78 1618.85,1867.67 1619.4,1867.56 1619.95,1867.45 1620.5,1867.35 1621.05,1867.24 1621.6,1867.13 1622.15,1867.02 1622.7,1866.91 1623.25,1866.8 1623.8,1866.68 1624.35,1866.57 1624.9,1866.46 1625.45,1866.34 1626,1866.23 1626.55,1866.11 1627.1,1866 1627.64,1865.88 1628.19,1865.76 1628.74,1865.65 1629.29,1865.53 1629.84,1865.41 1630.39,1865.29 1630.94,1865.17 1631.49,1865.05 1632.04,1864.93 1632.59,1864.8 1633.14,1864.68 1633.69,1864.56 1634.24,1864.43 1634.79,1864.31 1635.34,1864.18 1635.89,1864.05 1636.44,1863.93 1636.98,1863.8 1637.53,1863.67 1638.08,1863.54 1638.63,1863.41 1639.18,1863.28 1639.73,1863.15 1640.28,1863.02 1640.83,1862.88 1641.38,1862.75 1641.93,1862.62 1642.48,1862.48 1643.03,1862.35 1643.58,1862.21 1644.13,1862.07 1644.68,1861.93 1645.23,1861.8 1645.78,1861.66 1646.33,1861.52 1646.87,1861.38 1647.42,1861.23 1647.97,1861.09 1648.52,1860.95 1649.07,1860.8 1649.62,1860.65 1650.17,1860.5 1650.72,1860.35 1651.27,1860.2 1651.82,1860.05 1652.37,1859.9 1652.92,1859.74 1653.47,1859.59 1654.02,1859.43 1654.57,1859.27 1655.12,1859.11 1655.67,1858.95 1656.22,1858.79 1656.76,1858.63 1657.31,1858.46 1657.86,1858.3 1658.41,1858.13 1658.96,1857.96 1659.51,1857.79 1660.06,1857.62 1660.61,1857.45 1661.16,1857.27 1661.71,1857.1 1662.26,1856.92 1662.81,1856.75 1663.36,1856.57 1663.91,1856.39 1664.46,1856.21 1665.01,1856.02 1665.56,1855.84 1666.1,1855.65 1666.65,1855.47 1667.2,1855.28 1667.75,1855.09 1668.3,1854.9 1668.85,1854.71 1669.4,1854.52 1669.95,1854.32 1670.5,1854.13 1671.05,1853.93 1671.6,1853.73 1672.15,1853.54 1672.7,1853.34 1673.25,1853.13 1673.8,1852.93 1674.35,1852.73 1674.9,1852.53 1675.45,1852.32 1675.99,1852.12 1676.54,1851.91 1677.09,1851.7 1677.64,1851.5 1678.19,1851.29 1678.74,1851.08 1679.29,1850.87 1679.84,1850.66 1680.39,1850.45 1680.94,1850.24 1681.49,1850.02 1682.04,1849.81 1682.59,1849.59 1683.14,1849.37 1683.69,1849.15 1684.24,1848.93 1684.79,1848.71 1685.34,1848.48 1685.88,1848.25 1686.43,1848.02 1686.98,1847.79 1687.53,1847.56 1688.08,1847.32 1688.63,1847.08 1689.18,1846.84 1689.73,1846.6 1690.28,1846.35 1690.83,1846.11 1691.38,1845.85 1691.93,1845.6 1692.48,1845.34 1693.03,1845.08 1693.58,1844.82 1694.13,1844.55 1694.68,1844.28 1695.22,1844 1695.77,1843.73 1696.32,1843.44 1696.87,1843.16 1697.42,1842.87 1697.97,1842.57 1698.52,1842.27 1699.07,1841.97 1699.62,1841.66 1700.17,1841.34 1700.72,1841.03 1701.27,1840.7 1701.82,1840.37 1702.37,1840.04 1702.92,1839.7 1703.47,1839.35 1704.02,1839 1704.57,1838.64 1705.11,1838.28 1705.66,1837.91 1706.21,1837.53 1706.76,1837.15 1707.31,1836.76 1707.86,1836.37 1708.41,1835.97 1708.96,1835.56 1709.51,1835.14 1710.06,1834.72 1710.61,1834.29 1711.16,1833.85 1711.71,1833.41 1712.26,1832.95 1712.81,1832.49 1713.36,1832.03 1713.91,1831.55 1714.45,1831.07 1715,1830.57 1715.55,1830.07 1716.1,1829.57 1716.65,1829.05 1717.2,1828.52 1717.75,1827.99 1718.3,1827.44 1718.85,1826.89 1719.4,1826.33 1719.95,1825.75 1720.5,1825.17 1721.05,1824.58 1721.6,1823.98 1722.15,1823.36 1722.7,1822.74 1723.25,1822.09 1723.8,1821.43 1724.34,1820.74 1724.89,1820.04 1725.44,1819.32 1725.99,1818.57 1726.54,1817.81 1727.09,1817.03 1727.64,1816.23 1728.19,1815.42 1728.74,1814.59 1729.29,1813.74 1729.84,1812.88 1730.39,1812 1730.94,1811.11 1731.49,1810.21 1732.04,1809.29 1732.59,1808.36 1733.14,1807.43 1733.69,1806.48 1734.23,1805.52 1734.78,1804.56 1735.33,1803.59 1735.88,1802.62 1736.43,1801.65 1736.98,1800.66 1737.53,1799.66 1738.08,1798.64 1738.63,1797.61 1739.18,1796.55 1739.73,1795.47 1740.28,1794.37 1740.83,1793.23 1741.38,1792.07 1741.93,1790.86 1742.48,1789.62 1743.03,1788.33 1743.57,1786.99 1744.12,1785.6 1744.67,1784.15 1745.22,1782.64 1745.77,1781.07 1746.32,1779.43 1746.87,1777.74 1747.42,1775.97 1747.97,1774.14 1748.52,1772.23 1749.07,1770.25 1749.62,1768.19 1750.17,1766.05 1750.72,1763.82 1751.27,1761.49 1751.82,1759.08 1752.37,1756.56 1752.92,1753.94 1753.46,1751.2 1754.01,1748.35 1754.56,1745.38 1755.11,1742.27 1755.66,1739.04 1756.21,1735.65 1756.76,1732.12 1757.31,1728.43 1757.86,1724.5 1758.41,1720.11 1758.96,1715.28 1759.51,1710.07 1760.06,1704.52 1760.61,1698.68 1761.16,1692.6 1761.71,1686.36 1762.26,1680.04 1762.81,1673.72 1763.35,1667.44 1763.9,1660.82 1764.45,1653.89 1765,1646.85 1765.55,1639.92 1766.1,1633.32 1766.65,1627.31 1767.2,1621.98 1767.75,1616.98 1768.3,1612.26 1768.85,1607.77 1769.4,1603.48 1769.95,1599.32 1770.5,1595.25 1771.05,1591.21 1771.6,1587.15 1772.15,1582.99 1772.69,1578.67 1773.24,1574.12 1773.79,1569.28 1774.34,1564.05 1774.89,1558.23 1775.44,1551.44 1775.99,1543.99 1776.54,1536.26 1777.09,1528.67 1777.64,1521.69 1778.19,1515.81 1778.74,1511.49 1779.29,1507.75 1779.84,1504.17 1780.39,1500.99 1780.94,1498.47 1781.49,1496.84 1782.04,1496.37 1782.58,1497.01 1783.13,1498.53 1783.68,1500.79 1784.23,1503.63 1784.78,1506.89 1785.33,1510.44 1785.88,1514.47 1786.43,1520.66 1786.98,1528.59 1787.53,1537.48 1788.08,1546.6 1788.63,1555.31 1789.18,1563.02 1789.73,1570.11 1790.28,1576.99 1790.83,1583.7 1791.38,1590.26 1791.93,1596.68 1792.47,1602.98 1793.02,1609.2 1793.57,1615.34 1794.12,1621.42 1794.67,1627.45 1795.22,1633.36 1795.77,1639.16 1796.32,1644.87 1796.87,1650.53 1797.42,1656.15 1797.97,1661.77 1798.52,1667.4 1799.07,1673.08 1799.62,1678.85 1800.17,1684.68 1800.72,1690.51 1801.27,1696.27 1801.81,1701.91 1802.36,1707.4 1802.91,1712.7 1803.46,1717.77 1804.01,1722.58 1804.56,1727.11 1805.11,1731.39 1805.66,1735.5 1806.21,1739.46 1806.76,1743.27 1807.31,1746.95 1807.86,1750.51 1808.41,1753.95 1808.96,1757.28 1809.51,1760.52 1810.06,1763.66 1810.61,1766.73 1811.16,1769.71 1811.7,1772.62 1812.25,1775.47 1812.8,1778.26 1813.35,1780.99 1813.9,1783.67 1814.45,1786.33 1815,1788.97 1815.55,1791.58 1816.1,1794.15 1816.65,1796.65 1817.2,1799.07 1817.75,1801.4 1818.3,1803.63 1818.85,1805.75 1819.4,1807.74 1819.95,1809.61 1820.5,1811.34 1821.04,1812.93 1821.59,1814.42 1822.14,1815.83 1822.69,1817.18 1823.24,1818.45 1823.79,1819.68 1824.34,1820.84 1824.89,1821.97 1825.44,1823.05 1825.99,1824.1 1826.54,1825.12 1827.09,1826.11 1827.64,1827.08 1828.19,1828.03 1828.74,1828.97 1829.29,1829.9 1829.84,1830.82 1830.39,1831.73 1830.93,1832.65 1831.48,1833.57 1832.03,1834.49 1832.58,1835.43 1833.13,1836.36 1833.68,1837.3 1834.23,1838.24 1834.78,1839.16 1835.33,1840.08 1835.88,1840.98 1836.43,1841.86 1836.98,1842.72 1837.53,1843.56 1838.08,1844.36 1838.63,1845.14 1839.18,1845.89 1839.73,1846.59 1840.28,1847.27 1840.82,1847.9 1841.37,1848.49 1841.92,1849.05 1842.47,1849.59 1843.02,1850.1 1843.57,1850.6 1844.12,1851.07 1844.67,1851.53 1845.22,1851.98 1845.77,1852.41 1846.32,1852.83 1846.87,1853.23 1847.42,1853.63 1847.97,1854.02 1848.52,1854.4 1849.07,1854.77 1849.62,1855.14 1850.16,1855.5 1850.71,1855.85 1851.26,1856.2 1851.81,1856.55 1852.36,1856.9 1852.91,1857.25 1853.46,1857.59 1854.01,1857.94 1854.56,1858.29 1855.11,1858.63 1855.66,1858.98 1856.21,1859.33 1856.76,1859.68 1857.31,1860.02 1857.86,1860.36 1858.41,1860.7 1858.96,1861.04 1859.51,1861.37 1860.05,1861.7 1860.6,1862.02 1861.15,1862.34 1861.7,1862.66 1862.25,1862.97 1862.8,1863.28 1863.35,1863.58 1863.9,1863.88 1864.45,1864.18 1865,1864.47 1865.55,1864.76 1866.1,1865.04 1866.65,1865.31 1867.2,1865.59 1867.75,1865.85 1868.3,1866.12 1868.85,1866.37 1869.4,1866.62 1869.94,1866.87 1870.49,1867.12 1871.04,1867.36 1871.59,1867.6 1872.14,1867.84 1872.69,1868.07 1873.24,1868.3 1873.79,1868.53 1874.34,1868.75 1874.89,1868.97 1875.44,1869.19 1875.99,1869.41 1876.54,1869.62 1877.09,1869.83 1877.64,1870.04 1878.19,1870.24 1878.74,1870.44 1879.28,1870.65 1879.83,1870.84 1880.38,1871.04 1880.93,1871.23 1881.48,1871.42 1882.03,1871.61 1882.58,1871.8 1883.13,1871.98 1883.68,1872.17 1884.23,1872.35 1884.78,1872.52 1885.33,1872.7 1885.88,1872.88 1886.43,1873.05 1886.98,1873.22 1887.53,1873.39 1888.08,1873.56 1888.63,1873.72 1889.17,1873.89 1889.72,1874.05 1890.27,1874.21 1890.82,1874.37 1891.37,1874.53 1891.92,1874.68 1892.47,1874.84 1893.02,1874.99 1893.57,1875.14 1894.12,1875.29 1894.67,1875.44 1895.22,1875.59 1895.77,1875.73 1896.32,1875.88 1896.87,1876.02 1897.42,1876.16 1897.97,1876.3 1898.52,1876.44 1899.06,1876.58 1899.61,1876.72 1900.16,1876.85 1900.71,1876.99 1901.26,1877.12 1901.81,1877.25 1902.36,1877.38 1902.91,1877.51 1903.46,1877.64 1904.01,1877.77 1904.56,1877.9 1905.11,1878.02 1905.66,1878.14 1906.21,1878.26 1906.76,1878.39 1907.31,1878.51 1907.86,1878.62 1908.4,1878.74 1908.95,1878.86 1909.5,1878.97 1910.05,1879.08 1910.6,1879.2 1911.15,1879.31 1911.7,1879.42 1912.25,1879.53 1912.8,1879.63 1913.35,1879.74 1913.9,1879.85 1914.45,1879.95 1915,1880.05 1915.55,1880.16 1916.1,1880.26 1916.65,1880.36 1917.2,1880.46 1917.75,1880.55 1918.29,1880.65 1918.84,1880.74 1919.39,1880.84 1919.94,1880.93 1920.49,1881.02 1921.04,1881.12 1921.59,1881.21 1922.14,1881.29 1922.69,1881.38 1923.24,1881.47 1923.79,1881.55 1924.34,1881.64 1924.89,1881.72 1925.44,1881.81 1925.99,1881.89 1926.54,1881.97 1927.09,1882.05 1927.63,1882.13 1928.18,1882.21 1928.73,1882.29 1929.28,1882.37 1929.83,1882.44 1930.38,1882.52 1930.93,1882.59 1931.48,1882.67 1932.03,1882.74 1932.58,1882.82 1933.13,1882.89 1933.68,1882.96 1934.23,1883.03 1934.78,1883.1 1935.33,1883.17 1935.88,1883.24 1936.43,1883.31 1936.98,1883.37 1937.52,1883.44 1938.07,1883.51 1938.62,1883.57 1939.17,1883.64 1939.72,1883.7 1940.27,1883.76 1940.82,1883.83 1941.37,1883.89 1941.92,1883.95 1942.47,1884.01 1943.02,1884.07 1943.57,1884.13 1944.12,1884.19 1944.67,1884.25 1945.22,1884.3 1945.77,1884.36 1946.32,1884.42 1946.87,1884.47 1947.41,1884.53 1947.96,1884.58 1948.51,1884.64 1949.06,1884.69 1949.61,1884.74 1950.16,1884.79 1950.71,1884.85 1951.26,1884.9 1951.81,1884.95 1952.36,1885 1952.91,1885.05 1953.46,1885.1 1954.01,1885.14 1954.56,1885.19 1955.11,1885.24 1955.66,1885.29 1956.21,1885.33 1956.75,1885.38 1957.3,1885.42 1957.85,1885.47 1958.4,1885.51 1958.95,1885.56 1959.5,1885.6 1960.05,1885.64 1960.6,1885.69 1961.15,1885.73 1961.7,1885.77 1962.25,1885.81 1962.8,1885.85 1963.35,1885.89 1963.9,1885.93 1964.45,1885.97 1965,1886.01 1965.55,1886.05 1966.1,1886.09 1966.64,1886.13 1967.19,1886.17 1967.74,1886.21 1968.29,1886.24 1968.84,1886.28 1969.39,1886.32 1969.94,1886.35 1970.49,1886.39 1971.04,1886.43 1971.59,1886.46 1972.14,1886.5 1972.69,1886.53 1973.24,1886.57 1973.79,1886.6 1974.34,1886.64 1974.89,1886.67 1975.44,1886.7 1975.99,1886.74 1976.53,1886.77 1977.08,1886.8 1977.63,1886.84 1978.18,1886.87 1978.73,1886.9 1979.28,1886.93 1979.83,1886.97 1980.38,1887 1980.93,1887.03 1981.48,1887.06 1982.03,1887.09 1982.58,1887.12 1983.13,1887.15 1983.68,1887.18 1984.23,1887.21 1984.78,1887.24 1985.33,1887.27 1985.87,1887.3 1986.42,1887.33 1986.97,1887.36 1987.52,1887.39 1988.07,1887.42 1988.62,1887.45 1989.17,1887.47 1989.72,1887.5 1990.27,1887.53 1990.82,1887.56 1991.37,1887.59 1991.92,1887.61 1992.47,1887.64 1993.02,1887.67 1993.57,1887.69 1994.12,1887.72 1994.67,1887.74 1995.22,1887.77 1995.76,1887.8 1996.31,1887.82 1996.86,1887.85 1997.41,1887.87 1997.96,1887.9 1998.51,1887.92 1999.06,1887.94 1999.61,1887.97 2000.16,1887.99 2000.71,1888.02 2001.26,1888.04 2001.81,1888.06 2002.36,1888.08 2002.91,1888.11 2003.46,1888.13 2004.01,1888.15 2004.56,1888.17 2005.11,1888.19 2005.65,1888.22 2006.2,1888.24 2006.75,1888.26 2007.3,1888.28 2007.85,1888.3 2008.4,1888.32 2008.95,1888.34 2009.5,1888.36 2010.05,1888.38 2010.6,1888.4 2011.15,1888.42 2011.7,1888.44 2012.25,1888.47 2012.8,1888.49 2013.35,1888.51 2013.9,1888.53 2014.45,1888.55 2014.99,1888.57 2015.54,1888.59 2016.09,1888.61 2016.64,1888.62 2017.19,1888.64 2017.74,1888.66 2018.29,1888.68 2018.84,1888.7 2019.39,1888.72 2019.94,1888.74 2020.49,1888.75 2021.04,1888.77 2021.59,1888.79 2022.14,1888.81 2022.69,1888.82 2023.24,1888.84 2023.79,1888.86 2024.34,1888.87 2024.88,1888.89 2025.43,1888.9 2025.98,1888.92 2026.53,1888.93 2027.08,1888.95 2027.63,1888.96 2028.18,1888.98 2028.73,1888.99 2029.28,1889 2029.83,1889.02 2030.38,1889.03 2030.93,1889.04 2031.48,1889.05 2032.03,1889.06 2032.58,1889.07 2033.13,1889.08 2033.68,1889.09 2034.22,1889.1 2034.77,1889.11 2035.32,1889.12 2035.87,1889.13 2036.42,1889.14 2036.97,1889.15 2037.52,1889.16 2038.07,1889.17 2038.62,1889.18 2039.17,1889.19 2039.72,1889.19 2040.27,1889.2 2040.82,1889.21 2041.37,1889.22 2041.92,1889.23 2042.47,1889.24 2043.02,1889.24 2043.57,1889.25 2044.11,1889.26 2044.66,1889.27 2045.21,1889.28 2045.76,1889.28 2046.31,1889.29 2046.86,1889.3 2047.41,1889.3 2047.96,1889.31 2048.51,1889.32 2049.06,1889.32 2049.61,1889.33 2050.16,1889.34 2050.71,1889.34 2051.26,1889.35 2051.81,1889.36 2052.36,1889.36 2052.91,1889.37 2053.46,1889.37 2054,1889.38 2054.55,1889.38 2055.1,1889.39 2055.65,1889.39 2056.2,1889.4 2056.75,1889.4 2057.3,1889.4 2057.85,1889.41 2058.4,1889.41" stroke="#0000ff" stroke-width="9.7" fill="none" stroke-linejoin="round"/><path d="M1234.8,1889.4 1235.35,1889.39 1235.9,1889.38 1236.45,1889.37 1237,1889.35 1237.55,1889.34 1238.1,1889.33 1238.65,1889.32 1239.2,1889.31 1239.74,1889.3 1240.29,1889.28 1240.84,1889.27 1241.39,1889.26 1241.94,1889.25 1242.49,1889.24 1243.04,1889.23 1243.59,1889.21 1244.14,1889.2 1244.69,1889.19 1245.24,1889.18 1245.79,1889.17 1246.34,1889.15 1246.89,1889.14 1247.44,1889.13 1247.99,1889.12 1248.54,1889.11 1249.09,1889.09 1249.63,1889.08 1250.18,1889.07 1250.73,1889.06 1251.28,1889.05 1251.83,1889.03 1252.38,1889.02 1252.93,1889.01 1253.48,1889 1254.03,1888.98 1254.58,1888.97 1255.13,1888.96 1255.68,1888.95 1256.23,1888.93 1256.78,1888.92 1257.33,1888.91 1257.88,1888.9 1258.43,1888.88 1258.98,1888.87 1259.52,1888.86 1260.07,1888.85 1260.62,1888.83 1261.17,1888.82 1261.72,1888.81 1262.27,1888.79 1262.82,1888.78 1263.37,1888.77 1263.92,1888.76 1264.47,1888.74 1265.02,1888.73 1265.57,1888.72 1266.12,1888.7 1266.67,1888.69 1267.22,1888.68 1267.77,1888.67 1268.32,1888.65 1268.86,1888.64 1269.41,1888.63 1269.96,1888.61 1270.51,1888.6 1271.06,1888.59 1271.61,1888.57 1272.16,1888.56 1272.71,1888.55 1273.26,1888.53 1273.81,1888.52 1274.36,1888.51 1274.91,1888.49 1275.46,1888.48 1276.01,1888.47 1276.56,1888.45 1277.11,1888.44 1277.66,1888.42 1278.21,1888.41 1278.75,1888.4 1279.3,1888.38 1279.85,1888.37 1280.4,1888.36 1280.95,1888.34 1281.5,1888.33 1282.05,1888.31 1282.6,1888.3 1283.15,1888.29 1283.7,1888.27 1284.25,1888.26 1284.8,1888.24 1285.35,1888.23 1285.9,1888.22 1286.45,1888.2 1287,1888.19 1287.55,1888.17 1288.09,1888.16 1288.64,1888.15 1289.19,1888.13 1289.74,1888.12 1290.29,1888.1 1290.84,1888.09 1291.39,1888.07 1291.94,1888.06 1292.49,1888.04 1293.04,1888.03 1293.59,1888.02 1294.14,1888 1294.69,1887.99 1295.24,1887.97 1295.79,1887.96 1296.34,1887.94 1296.89,1887.93 1297.44,1887.91 1297.98,1887.9 1298.53,1887.88 1299.08,1887.87 1299.63,1887.85 1300.18,1887.84 1300.73,1887.82 1301.28,1887.81 1301.83,1887.79 1302.38,1887.78 1302.93,1887.76 1303.48,1887.75 1304.03,1887.73 1304.58,1887.72 1305.13,1887.7 1305.68,1887.69 1306.23,1887.67 1306.78,1887.66 1307.33,1887.64 1307.87,1887.63 1308.42,1887.61 1308.97,1887.6 1309.52,1887.58 1310.07,1887.57 1310.62,1887.55 1311.17,1887.54 1311.72,1887.52 1312.27,1887.51 1312.82,1887.49 1313.37,1887.47 1313.92,1887.46 1314.47,1887.44 1315.02,1887.43 1315.57,1887.41 1316.12,1887.4 1316.67,1887.38 1317.21,1887.36 1317.76,1887.35 1318.31,1887.33 1318.86,1887.32 1319.41,1887.3 1319.96,1887.28 1320.51,1887.27 1321.06,1887.25 1321.61,1887.24 1322.16,1887.22 1322.71,1887.2 1323.26,1887.19 1323.81,1887.17 1324.36,1887.16 1324.91,1887.14 1325.46,1887.12 1326.01,1887.11 1326.56,1887.09 1327.1,1887.07 1327.65,1887.06 1328.2,1887.04 1328.75,1887.03 1329.3,1887.01 1329.85,1886.99 1330.4,1886.98 1330.95,1886.96 1331.5,1886.94 1332.05,1886.93 1332.6,1886.91 1333.15,1886.89 1333.7,1886.88 1334.25,1886.86 1334.8,1886.84 1335.35,1886.83 1335.9,1886.81 1336.45,1886.79 1336.99,1886.78 1337.54,1886.76 1338.09,1886.74 1338.64,1886.72 1339.19,1886.71 1339.74,1886.69 1340.29,1886.67 1340.84,1886.66 1341.39,1886.64 1341.94,1886.62 1342.49,1886.61 1343.04,1886.59 1343.59,1886.57 1344.14,1886.55 1344.69,1886.54 1345.24,1886.52 1345.79,1886.5 1346.33,1886.48 1346.88,1886.47 1347.43,1886.45 1347.98,1886.43 1348.53,1886.41 1349.08,1886.4 1349.63,1886.38 1350.18,1886.36 1350.73,1886.34 1351.28,1886.33 1351.83,1886.31 1352.38,1886.29 1352.93,1886.27 1353.48,1886.26 1354.03,1886.24 1354.58,1886.22 1355.13,1886.2 1355.68,1886.18 1356.22,1886.17 1356.77,1886.15 1357.32,1886.13 1357.87,1886.11 1358.42,1886.09 1358.97,1886.08 1359.52,1886.06 1360.07,1886.04 1360.62,1886.02 1361.17,1886 1361.72,1885.98 1362.27,1885.97 1362.82,1885.95 1363.37,1885.93 1363.92,1885.91 1364.47,1885.89 1365.02,1885.87 1365.57,1885.86 1366.11,1885.84 1366.66,1885.82 1367.21,1885.8 1367.76,1885.78 1368.31,1885.76 1368.86,1885.74 1369.41,1885.72 1369.96,1885.71 1370.51,1885.69 1371.06,1885.67 1371.61,1885.65 1372.16,1885.63 1372.71,1885.61 1373.26,1885.59 1373.81,1885.57 1374.36,1885.55 1374.91,1885.54 1375.45,1885.52 1376,1885.5 1376.55,1885.48 1377.1,1885.46 1377.65,1885.44 1378.2,1885.42 1378.75,1885.4 1379.3,1885.38 1379.85,1885.36 1380.4,1885.34 1380.95,1885.32 1381.5,1885.3 1382.05,1885.28 1382.6,1885.26 1383.15,1885.24 1383.7,1885.22 1384.25,1885.21 1384.8,1885.19 1385.34,1885.17 1385.89,1885.15 1386.44,1885.13 1386.99,1885.11 1387.54,1885.09 1388.09,1885.07 1388.64,1885.05 1389.19,1885.03 1389.74,1885.01 1390.29,1884.99 1390.84,1884.97 1391.39,1884.95 1391.94,1884.93 1392.49,1884.91 1393.04,1884.89 1393.59,1884.87 1394.14,1884.85 1394.68,1884.82 1395.23,1884.8 1395.78,1884.78 1396.33,1884.76 1396.88,1884.74 1397.43,1884.72 1397.98,1884.7 1398.53,1884.68 1399.08,1884.66 1399.63,1884.64 1400.18,1884.62 1400.73,1884.6 1401.28,1884.58 1401.83,1884.56 1402.38,1884.54 1402.93,1884.52 1403.48,1884.5 1404.03,1884.47 1404.57,1884.45 1405.12,1884.43 1405.67,1884.41 1406.22,1884.39 1406.77,1884.37 1407.32,1884.35 1407.87,1884.33 1408.42,1884.31 1408.97,1884.29 1409.52,1884.26 1410.07,1884.24 1410.62,1884.22 1411.17,1884.2 1411.72,1884.18 1412.27,1884.16 1412.82,1884.14 1413.37,1884.12 1413.92,1884.09 1414.46,1884.07 1415.01,1884.05 1415.56,1884.03 1416.11,1884.01 1416.66,1883.99 1417.21,1883.96 1417.76,1883.94 1418.31,1883.92 1418.86,1883.9 1419.41,1883.88 1419.96,1883.86 1420.51,1883.83 1421.06,1883.81 1421.61,1883.79 1422.16,1883.77 1422.71,1883.75 1423.26,1883.72 1423.8,1883.7 1424.35,1883.68 1424.9,1883.66 1425.45,1883.64 1426,1883.61 1426.55,1883.59 1427.1,1883.57 1427.65,1883.55 1428.2,1883.52 1428.75,1883.5 1429.3,1883.48 1429.85,1883.46 1430.4,1883.43 1430.95,1883.41 1431.5,1883.39 1432.05,1883.37 1432.6,1883.34 1433.15,1883.32 1433.69,1883.3 1434.24,1883.28 1434.79,1883.25 1435.34,1883.23 1435.89,1883.21 1436.44,1883.18 1436.99,1883.16 1437.54,1883.14 1438.09,1883.11 1438.64,1883.09 1439.19,1883.07 1439.74,1883.04 1440.29,1883.02 1440.84,1883 1441.39,1882.98 1441.94,1882.95 1442.49,1882.93 1443.04,1882.9 1443.58,1882.88 1444.13,1882.86 1444.68,1882.83 1445.23,1882.81 1445.78,1882.79 1446.33,1882.76 1446.88,1882.74 1447.43,1882.72 1447.98,1882.69 1448.53,1882.67 1449.08,1882.64 1449.63,1882.62 1450.18,1882.6 1450.73,1882.57 1451.28,1882.55 1451.83,1882.52 1452.38,1882.5 1452.92,1882.48 1453.47,1882.45 1454.02,1882.43 1454.57,1882.4 1455.12,1882.38 1455.67,1882.36 1456.22,1882.33 1456.77,1882.31 1457.32,1882.28 1457.87,1882.26 1458.42,1882.24 1458.97,1882.21 1459.52,1882.19 1460.07,1882.16 1460.62,1882.14 1461.17,1882.12 1461.72,1882.09 1462.27,1882.07 1462.81,1882.04 1463.36,1882.02 1463.91,1882 1464.46,1881.97 1465.01,1881.95 1465.56,1881.93 1466.11,1881.9 1466.66,1881.88 1467.21,1881.85 1467.76,1881.83 1468.31,1881.81 1468.86,1881.78 1469.41,1881.76 1469.96,1881.73 1470.51,1881.71 1471.06,1881.69 1471.61,1881.66 1472.16,1881.64 1472.7,1881.61 1473.25,1881.59 1473.8,1881.57 1474.35,1881.54 1474.9,1881.52 1475.45,1881.49 1476,1881.47 1476.55,1881.45 1477.1,1881.42 1477.65,1881.4 1478.2,1881.37 1478.75,1881.35 1479.3,1881.32 1479.85,1881.3 1480.4,1881.27 1480.95,1881.25 1481.5,1881.22 1482.04,1881.2 1482.59,1881.17 1483.14,1881.15 1483.69,1881.12 1484.24,1881.1 1484.79,1881.07 1485.34,1881.05 1485.89,1881.02 1486.44,1881 1486.99,1880.97 1487.54,1880.95 1488.09,1880.92 1488.64,1880.9 1489.19,1880.87 1489.74,1880.84 1490.29,1880.82 1490.84,1880.79 1491.39,1880.77 1491.93,1880.74 1492.48,1880.71 1493.03,1880.69 1493.58,1880.66 1494.13,1880.63 1494.68,1880.6 1495.23,1880.58 1495.78,1880.55 1496.33,1880.52 1496.88,1880.5 1497.43,1880.47 1497.98,1880.44 1498.53,1880.41 1499.08,1880.38 1499.63,1880.36 1500.18,1880.33 1500.73,1880.3 1501.27,1880.27 1501.82,1880.24 1502.37,1880.21 1502.92,1880.18 1503.47,1880.15 1504.02,1880.12 1504.57,1880.09 1505.12,1880.06 1505.67,1880.03 1506.22,1880 1506.77,1879.97 1507.32,1879.94 1507.87,1879.91 1508.42,1879.88 1508.97,1879.85 1509.52,1879.82 1510.07,1879.79 1510.62,1879.76 1511.16,1879.72 1511.71,1879.69 1512.26,1879.66 1512.81,1879.63 1513.36,1879.59 1513.91,1879.56 1514.46,1879.53 1515.01,1879.49 1515.56,1879.46 1516.11,1879.42 1516.66,1879.39 1517.21,1879.36 1517.76,1879.32 1518.31,1879.29 1518.86,1879.25 1519.41,1879.21 1519.96,1879.18 1520.51,1879.14 1521.05,1879.11 1521.6,1879.07 1522.15,1879.03 1522.7,1879 1523.25,1878.96 1523.8,1878.92 1524.35,1878.89 1524.9,1878.85 1525.45,1878.81 1526,1878.77 1526.55,1878.74 1527.1,1878.7 1527.65,1878.66 1528.2,1878.62 1528.75,1878.58 1529.3,1878.54 1529.85,1878.5 1530.39,1878.46 1530.94,1878.43 1531.49,1878.39 1532.04,1878.35 1532.59,1878.3 1533.14,1878.26 1533.69,1878.22 1534.24,1878.18 1534.79,1878.14 1535.34,1878.1 1535.89,1878.06 1536.44,1878.02 1536.99,1877.97 1537.54,1877.93 1538.09,1877.89 1538.64,1877.85 1539.19,1877.8 1539.74,1877.76 1540.28,1877.72 1540.83,1877.67 1541.38,1877.63 1541.93,1877.58 1542.48,1877.54 1543.03,1877.49 1543.58,1877.45 1544.13,1877.4 1544.68,1877.36 1545.23,1877.31 1545.78,1877.26 1546.33,1877.22 1546.88,1877.17 1547.43,1877.12 1547.98,1877.08 1548.53,1877.03 1549.08,1876.98 1549.63,1876.93 1550.17,1876.89 1550.72,1876.84 1551.27,1876.79 1551.82,1876.74 1552.37,1876.69 1552.92,1876.64 1553.47,1876.59 1554.02,1876.54 1554.57,1876.49 1555.12,1876.44 1555.67,1876.39 1556.22,1876.33 1556.77,1876.28 1557.32,1876.23 1557.87,1876.18 1558.42,1876.13 1558.97,1876.07 1559.51,1876.02 1560.06,1875.96 1560.61,1875.91 1561.16,1875.86 1561.71,1875.8 1562.26,1875.75 1562.81,1875.69 1563.36,1875.64 1563.91,1875.58 1564.46,1875.52 1565.01,1875.47 1565.56,1875.41 1566.11,1875.35 1566.66,1875.29 1567.21,1875.24 1567.76,1875.18 1568.31,1875.12 1568.86,1875.06 1569.4,1875 1569.95,1874.94 1570.5,1874.88 1571.05,1874.82 1571.6,1874.76 1572.15,1874.7 1572.7,1874.64 1573.25,1874.58 1573.8,1874.51 1574.35,1874.45 1574.9,1874.39 1575.45,1874.32 1576,1874.26 1576.55,1874.19 1577.1,1874.13 1577.65,1874.06 1578.2,1874 1578.75,1873.93 1579.29,1873.86 1579.84,1873.8 1580.39,1873.73 1580.94,1873.66 1581.49,1873.59 1582.04,1873.52 1582.59,1873.45 1583.14,1873.38 1583.69,1873.31 1584.24,1873.24 1584.79,1873.17 1585.34,1873.1 1585.89,1873.02 1586.44,1872.95 1586.99,1872.88 1587.54,1872.8 1588.09,1872.73 1588.63,1872.65 1589.18,1872.58 1589.73,1872.5 1590.28,1872.42 1590.83,1872.35 1591.38,1872.27 1591.93,1872.19 1592.48,1872.11 1593.03,1872.03 1593.58,1871.95 1594.13,1871.87 1594.68,1871.79 1595.23,1871.71 1595.78,1871.63 1596.33,1871.54 1596.88,1871.46 1597.43,1871.38 1597.98,1871.29 1598.52,1871.21 1599.07,1871.12 1599.62,1871.04 1600.17,1870.95 1600.72,1870.86 1601.27,1870.78 1601.82,1870.69 1602.37,1870.6 1602.92,1870.51 1603.47,1870.42 1604.02,1870.33 1604.57,1870.24 1605.12,1870.15 1605.67,1870.05 1606.22,1869.96 1606.77,1869.87 1607.32,1869.78 1607.86,1869.68 1608.41,1869.59 1608.96,1869.49 1609.51,1869.39 1610.06,1869.3 1610.61,1869.2 1611.16,1869.1 1611.71,1869 1612.26,1868.9 1612.81,1868.81 1613.36,1868.71 1613.91,1868.6 1614.46,1868.5 1615.01,1868.4 1615.56,1868.3 1616.11,1868.19 1616.66,1868.09 1617.21,1867.99 1617.75,1867.88 1618.3,1867.78 1618.85,1867.67 1619.4,1867.56 1619.95,1867.45 1620.5,1867.35 1621.05,1867.24 1621.6,1867.13 1622.15,1867.02 1622.7,1866.91 1623.25,1866.8 1623.8,1866.68 1624.35,1866.57 1624.9,1866.46 1625.45,1866.34 1626,1866.23 1626.55,1866.11 1627.1,1866 1627.64,1865.88 1628.19,1865.76 1628.74,1865.65 1629.29,1865.53 1629.84,1865.41 1630.39,1865.29 1630.94,1865.17 1631.49,1865.05 1632.04,1864.93 1632.59,1864.8 1633.14,1864.68 1633.69,1864.56 1634.24,1864.43 1634.79,1864.31 1635.34,1864.18 1635.89,1864.05 1636.44,1863.93 1636.98,1863.8 1637.53,1863.67 1638.08,1863.54 1638.63,1863.41 1639.18,1863.28 1639.73,1863.15 1640.28,1863.02 1640.83,1862.88 1641.38,1862.75 1641.93,1862.62 1642.48,1862.48 1643.03,1862.35 1643.58,1862.21 1644.13,1862.07 1644.68,1861.93 1645.23,1861.8 1645.78,1861.66 1646.33,1861.52 1646.87,1861.38 1647.42,1861.23 1647.97,1861.09 1648.52,1860.95 1649.07,1860.8 1649.62,1860.65 1650.17,1860.5 1650.72,1860.35 1651.27,1860.2 1651.82,1860.05 1652.37,1859.9 1652.92,1859.74 1653.47,1859.59 1654.02,1859.43 1654.57,1859.27 1655.12,1859.11 1655.67,1858.95 1656.22,1858.79 1656.76,1858.63 1657.31,1858.46 1657.86,1858.3 1658.41,1858.13 1658.96,1857.96 1659.51,1857.79 1660.06,1857.62 1660.61,1857.45 1661.16,1857.27 1661.71,1857.1 1662.26,1856.92 1662.81,1856.75 1663.36,1856.57 1663.91,1856.39 1664.46,1856.21 1665.01,1856.02 1665.56,1855.84 1666.1,1855.65 1666.65,1855.47 1667.2,1855.28 1667.75,1855.09 1668.3,1854.9 1668.85,1854.71 1669.4,1854.52 1669.95,1854.32 1670.5,1854.13 1671.05,1853.93 1671.6,1853.73 1672.15,1853.54 1672.7,1853.34 1673.25,1853.13 1673.8,1852.93 1674.35,1852.73 1674.9,1852.53 1675.45,1852.32 1675.99,1852.12 1676.54,1851.91 1677.09,1851.7 1677.64,1851.5 1678.19,1851.29 1678.74,1851.08 1679.29,1850.87 1679.84,1850.66 1680.39,1850.45 1680.94,1850.24 1681.49,1850.02 1682.04,1849.81 1682.59,1849.59 1683.14,1849.37 1683.69,1849.15 1684.24,1848.93 1684.79,1848.71 1685.34,1848.48 1685.88,1848.25 1686.43,1848.02 1686.98,1847.79 1687.53,1847.56 1688.08,1847.32 1688.63,1847.08 1689.18,1846.84 1689.73,1846.6 1690.28,1846.35 1690.83,1846.11 1691.38,1845.85 1691.93,1845.6 1692.48,1845.34 1693.03,1845.08 1693.58,1844.82 1694.13,1844.55 1694.68,1844.28 1695.22,1844 1695.77,1843.73 1696.32,1843.44 1696.87,1843.16 1697.42,1842.87 1697.97,1842.57 1698.52,1842.27 1699.07,1841.97 1699.62,1841.66 1700.17,1841.34 1700.72,1841.03 1701.27,1840.7 1701.82,1840.37 1702.37,1840.04 1702.92,1839.7 1703.47,1839.35 1704.02,1839 1704.57,1838.64 1705.11,1838.28 1705.66,1837.91 1706.21,1837.53 1706.76,1837.15 1707.31,1836.76 1707.86,1836.37 1708.41,1835.97 1708.96,1835.56 1709.51,1835.14 1710.06,1834.72 1710.61,1834.29 1711.16,1833.85 1711.71,1833.41 1712.26,1832.95 1712.81,1832.49 1713.36,1832.03 1713.91,1831.55 1714.45,1831.07 1715,1830.57 1715.55,1830.07 1716.1,1829.57 1716.65,1829.05 1717.2,1828.52 1717.75,1827.99 1718.3,1827.44 1718.85,1826.89 1719.4,1826.33 1719.95,1825.75 1720.5,1825.17 1721.05,1824.58 1721.6,1823.98 1722.15,1823.36 1722.7,1822.74 1723.25,1822.09 1723.8,1821.43 1724.34,1820.74 1724.89,1820.04 1725.44,1819.32 1725.99,1818.57 1726.54,1817.81 1727.09,1817.03 1727.64,1816.23 1728.19,1815.42 1728.74,1814.59 1729.29,1813.74 1729.84,1812.88 1730.39,1812 1730.94,1811.11 1731.49,1810.21 1732.04,1809.29 1732.59,1808.36 1733.14,1807.43 1733.69,1806.48 1734.23,1805.52 1734.78,1804.56 1735.33,1803.59 1735.88,1802.62 1736.43,1801.65 1736.98,1800.66 1737.53,1799.66 1738.08,1798.64 1738.63,1797.61 1739.18,1796.55 1739.73,1795.47 1740.28,1794.37 1740.83,1793.23 1741.38,1792.07 1741.93,1790.86 1742.48,1789.62 1743.03,1788.33 1743.57,1786.99 1744.12,1785.6 1744.67,1784.15 1745.22,1782.64 1745.77,1781.07 1746.32,1779.43 1746.87,1777.74 1747.42,1775.97 1747.97,1774.14 1748.52,1772.23 1749.07,1770.25 1749.62,1768.19 1750.17,1766.05 1750.72,1763.82 1751.27,1761.49 1751.82,1759.08 1752.37,1756.56 1752.92,1753.94 1753.46,1751.2 1754.01,1748.35 1754.56,1745.38 1755.11,1742.27 1755.66,1739.04 1756.21,1735.65 1756.76,1732.12 1757.31,1728.43 1757.86,1724.5 1758.41,1720.11 1758.96,1715.28 1759.51,1710.07 1760.06,1704.52 1760.61,1698.68 1761.16,1692.6 1761.71,1686.37 1762.26,1680.05 1762.81,1673.73 1763.35,1667.45 1763.9,1660.83 1764.45,1653.91 1765,1646.88 1765.55,1639.96 1766.1,1633.38 1766.65,1627.38 1767.2,1622.08 1767.75,1617.12 1768.3,1612.44 1768.85,1608.01 1769.4,1603.78 1769.95,1599.7 1770.5,1595.73 1771.05,1591.8 1771.6,1587.87 1772.15,1583.86 1772.69,1579.72 1773.24,1575.38 1773.79,1570.75 1774.34,1565.77 1774.89,1560.23 1775.44,1553.74 1775.99,1546.61 1776.54,1539.22 1777.09,1531.98 1777.64,1525.35 1778.19,1519.79 1778.74,1515.76 1779.29,1512.28 1779.84,1508.93 1780.39,1505.94 1780.94,1503.54 1781.49,1501.99 1782.04,1501.52 1782.58,1502.09 1783.13,1503.49 1783.68,1505.57 1784.23,1508.19 1784.78,1511.19 1785.33,1514.44 1785.88,1518.16 1786.43,1524.01 1786.98,1531.58 1787.53,1540.12 1788.08,1548.9 1788.63,1557.3 1789.18,1564.72 1789.73,1571.56 1790.28,1578.21 1790.83,1584.72 1791.38,1591.09 1791.93,1597.36 1792.47,1603.54 1793.02,1609.64 1793.57,1615.69 1794.12,1621.69 1794.67,1627.66 1795.22,1633.52 1795.77,1639.28 1796.32,1644.97 1796.87,1650.6 1797.42,1656.21 1797.97,1661.81 1798.52,1667.43 1799.07,1673.1 1799.62,1678.87 1800.17,1684.69 1800.72,1690.51 1801.27,1696.27 1801.81,1701.92 1802.36,1707.41 1802.91,1712.7 1803.46,1717.77 1804.01,1722.58 1804.56,1727.11 1805.11,1731.39 1805.66,1735.5 1806.21,1739.46 1806.76,1743.27 1807.31,1746.95 1807.86,1750.51 1808.41,1753.95 1808.96,1757.28 1809.51,1760.52 1810.06,1763.66 1810.61,1766.73 1811.16,1769.71 1811.7,1772.62 1812.25,1775.47 1812.8,1778.26 1813.35,1780.99 1813.9,1783.67 1814.45,1786.33 1815,1788.97 1815.55,1791.58 1816.1,1794.15 1816.65,1796.65 1817.2,1799.07 1817.75,1801.4 1818.3,1803.63 1818.85,1805.75 1819.4,1807.74 1819.95,1809.61 1820.5,1811.34 1821.04,1812.93 1821.59,1814.42 1822.14,1815.83 1822.69,1817.18 1823.24,1818.45 1823.79,1819.68 1824.34,1820.84 1824.89,1821.97 1825.44,1823.05 1825.99,1824.1 1826.54,1825.12 1827.09,1826.11 1827.64,1827.08 1828.19,1828.03 1828.74,1828.97 1829.29,1829.9 1829.84,1830.82 1830.39,1831.73 1830.93,1832.65 1831.48,1833.57 1832.03,1834.49 1832.58,1835.43 1833.13,1836.36 1833.68,1837.3 1834.23,1838.24 1834.78,1839.16 1835.33,1840.08 1835.88,1840.98 1836.43,1841.86 1836.98,1842.72 1837.53,1843.56 1838.08,1844.36 1838.63,1845.14 1839.18,1845.89 1839.73,1846.59 1840.28,1847.27 1840.82,1847.9 1841.37,1848.49 1841.92,1849.05 1842.47,1849.59 1843.02,1850.1 1843.57,1850.6 1844.12,1851.07 1844.67,1851.53 1845.22,1851.98 1845.77,1852.41 1846.32,1852.83 1846.87,1853.23 1847.42,1853.63 1847.97,1854.02 1848.52,1854.4 1849.07,1854.77 1849.62,1855.14 1850.16,1855.5 1850.71,1855.85 1851.26,1856.2 1851.81,1856.55 1852.36,1856.9 1852.91,1857.25 1853.46,1857.59 1854.01,1857.94 1854.56,1858.29 1855.11,1858.63 1855.66,1858.98 1856.21,1859.33 1856.76,1859.68 1857.31,1860.02 1857.86,1860.36 1858.41,1860.7 1858.96,1861.04 1859.51,1861.37 1860.05,1861.7 1860.6,1862.02 1861.15,1862.34 1861.7,1862.66 1862.25,1862.97 1862.8,1863.28 1863.35,1863.58 1863.9,1863.88 1864.45,1864.18 1865,1864.47 1865.55,1864.76 1866.1,1865.04 1866.65,1865.31 1867.2,1865.59 1867.75,1865.85 1868.3,1866.12 1868.85,1866.37 1869.4,1866.62 1869.94,1866.87 1870.49,1867.12 1871.04,1867.36 1871.59,1867.6 1872.14,1867.84 1872.69,1868.07 1873.24,1868.3 1873.79,1868.53 1874.34,1868.75 1874.89,1868.97 1875.44,1869.19 1875.99,1869.41 1876.54,1869.62 1877.09,1869.83 1877.64,1870.04 1878.19,1870.24 1878.74,1870.44 1879.28,1870.65 1879.83,1870.84 1880.38,1871.04 1880.93,1871.23 1881.48,1871.42 1882.03,1871.61 1882.58,1871.8 1883.13,1871.98 1883.68,1872.17 1884.23,1872.35 1884.78,1872.52 1885.33,1872.7 1885.88,1872.88 1886.43,1873.05 1886.98,1873.22 1887.53,1873.39 1888.08,1873.56 1888.63,1873.72 1889.17,1873.89 1889.72,1874.05 1890.27,1874.21 1890.82,1874.37 1891.37,1874.53 1891.92,1874.68 1892.47,1874.84 1893.02,1874.99 1893.57,1875.14 1894.12,1875.29 1894.67,1875.44 1895.22,1875.59 1895.77,1875.73 1896.32,1875.88 1896.87,1876.02 1897.42,1876.16 1897.97,1876.3 1898.52,1876.44 1899.06,1876.58 1899.61,1876.72 1900.16,1876.85 1900.71,1876.99 1901.26,1877.12 1901.81,1877.25 1902.36,1877.38 1902.91,1877.51 1903.46,1877.64 1904.01,1877.77 1904.56,1877.9 1905.11,1878.02 1905.66,1878.14 1906.21,1878.26 1906.76,1878.39 1907.31,1878.51 1907.86,1878.62 1908.4,1878.74 1908.95,1878.86 1909.5,1878.97 1910.05,1879.08 1910.6,1879.2 1911.15,1879.31 1911.7,1879.42 1912.25,1879.53 1912.8,1879.63 1913.35,1879.74 1913.9,1879.85 1914.45,1879.95 1915,1880.05 1915.55,1880.16 1916.1,1880.26 1916.65,1880.36 1917.2,1880.46 1917.75,1880.55 1918.29,1880.65 1918.84,1880.74 1919.39,1880.84 1919.94,1880.93 1920.49,1881.02 1921.04,1881.12 1921.59,1881.21 1922.14,1881.29 1922.69,1881.38 1923.24,1881.47 1923.79,1881.55 1924.34,1881.64 1924.89,1881.72 1925.44,1881.81 1925.99,1881.89 1926.54,1881.97 1927.09,1882.05 1927.63,1882.13 1928.18,1882.21 1928.73,1882.29 1929.28,1882.37 1929.83,1882.44 1930.38,1882.52 1930.93,1882.59 1931.48,1882.67 1932.03,1882.74 1932.58,1882.82 1933.13,1882.89 1933.68,1882.96 1934.23,1883.03 1934.78,1883.1 1935.33,1883.17 1935.88,1883.24 1936.43,1883.31 1936.98,1883.37 1937.52,1883.44 1938.07,1883.51 1938.62,1883.57 1939.17,1883.64 1939.72,1883.7 1940.27,1883.76 1940.82,1883.83 1941.37,1883.89 1941.92,1883.95 1942.47,1884.01 1943.02,1884.07 1943.57,1884.13 1944.12,1884.19 1944.67,1884.25 1945.22,1884.3 1945.77,1884.36 1946.32,1884.42 1946.87,1884.47 1947.41,1884.53 1947.96,1884.58 1948.51,1884.64 1949.06,1884.69 1949.61,1884.74 1950.16,1884.79 1950.71,1884.85 1951.26,1884.9 1951.81,1884.95 1952.36,1885 1952.91,1885.05 1953.46,1885.1 1954.01,1885.14 1954.56,1885.19 1955.11,1885.24 1955.66,1885.29 1956.21,1885.33 1956.75,1885.38 1957.3,1885.42 1957.85,1885.47 1958.4,1885.51 1958.95,1885.56 1959.5,1885.6 1960.05,1885.64 1960.6,1885.69 1961.15,1885.73 1961.7,1885.77 1962.25,1885.81 1962.8,1885.85 1963.35,1885.89 1963.9,1885.93 1964.45,1885.97 1965,1886.01 1965.55,1886.05 1966.1,1886.09 1966.64,1886.13 1967.19,1886.17 1967.74,1886.21 1968.29,1886.24 1968.84,1886.28 1969.39,1886.32 1969.94,1886.35 1970.49,1886.39 1971.04,1886.43 1971.59,1886.46 1972.14,1886.5 1972.69,1886.53 1973.24,1886.57 1973.79,1886.6 1974.34,1886.64 1974.89,1886.67 1975.44,1886.7 1975.99,1886.74 1976.53,1886.77 1977.08,1886.8 1977.63,1886.84 1978.18,1886.87 1978.73,1886.9 1979.28,1886.93 1979.83,1886.97 1980.38,1887 1980.93,1887.03 1981.48,1887.06 1982.03,1887.09 1982.58,1887.12 1983.13,1887.15 1983.68,1887.18 1984.23,1887.21 1984.78,1887.24 1985.33,1887.27 1985.87,1887.3 1986.42,1887.33 1986.97,1887.36 1987.52,1887.39 1988.07,1887.42 1988.62,1887.45 1989.17,1887.47 1989.72,1887.5 1990.27,1887.53 1990.82,1887.56 1991.37,1887.59 1991.92,1887.61 1992.47,1887.64 1993.02,1887.67 1993.57,1887.69 1994.12,1887.72 1994.67,1887.74 1995.22,1887.77 1995.76,1887.8 1996.31,1887.82 1996.86,1887.85 1997.41,1887.87 1997.96,1887.9 1998.51,1887.92 1999.06,1887.94 1999.61,1887.97 2000.16,1887.99 2000.71,1888.02 2001.26,1888.04 2001.81,1888.06 2002.36,1888.08 2002.91,1888.11 2003.46,1888.13 2004.01,1888.15 2004.56,1888.17 2005.11,1888.19 2005.65,1888.22 2006.2,1888.24 2006.75,1888.26 2007.3,1888.28 2007.85,1888.3 2008.4,1888.32 2008.95,1888.34 2009.5,1888.36 2010.05,1888.38 2010.6,1888.4 2011.15,1888.42 2011.7,1888.44 2012.25,1888.47 2012.8,1888.49 2013.35,1888.51 2013.9,1888.53 2014.45,1888.55 2014.99,1888.57 2015.54,1888.59 2016.09,1888.61 2016.64,1888.62 2017.19,1888.64 2017.74,1888.66 2018.29,1888.68 2018.84,1888.7 2019.39,1888.72 2019.94,1888.74 2020.49,1888.75 2021.04,1888.77 2021.59,1888.79 2022.14,1888.81 2022.69,1888.82 2023.24,1888.84 2023.79,1888.86 2024.34,1888.87 2024.88,1888.89 2025.43,1888.9 2025.98,1888.92 2026.53,1888.93 2027.08,1888.95 2027.63,1888.96 2028.18,1888.98 2028.73,1888.99 2029.28,1889 2029.83,1889.02 2030.38,1889.03 2030.93,1889.04 2031.48,1889.05 2032.03,1889.06 2032.58,1889.07 2033.13,1889.08 2033.68,1889.09 2034.22,1889.1 2034.77,1889.11 2035.32,1889.12 2035.87,1889.13 2036.42,1889.14 2036.97,1889.15 2037.52,1889.16 2038.07,1889.17 2038.62,1889.18 2039.17,1889.19 2039.72,1889.19 2040.27,1889.2 2040.82,1889.21 2041.37,1889.22 2041.92,1889.23 2042.47,1889.24 2043.02,1889.24 2043.57,1889.25 2044.11,1889.26 2044.66,1889.27 2045.21,1889.28 2045.76,1889.28 2046.31,1889.29 2046.86,1889.3 2047.41,1889.3 2047.96,1889.31 2048.51,1889.32 2049.06,1889.32 2049.61,1889.33 2050.16,1889.34 2050.71,1889.34 2051.26,1889.35 2051.81,1889.36 2052.36,1889.36 2052.91,1889.37 2053.46,1889.37 2054,1889.38 2054.55,1889.38 2055.1,1889.39 2055.65,1889.39 2056.2,1889.4 2056.75,1889.4 2057.3,1889.4 2057.85,1889.41 2058.4,1889.41" stroke="#ff0000" stroke-width="9.7" fill="none" stroke-linejoin="round" stroke-dasharray="29.5 29"/><g font-family="'Liberation Sans', Arial, Helvetica, sans-serif" font-size="48.3"><text transform="translate(1258.4 1953.5) scale(1 1.055)" text-anchor="middle">1</text><text transform="translate(1246.17 1953.5) scale(1 1.055)" text-anchor="end">&#8722;</text><text transform="translate(1452.22 1953.5) scale(1 1.055)" text-anchor="middle">0.5</text><text transform="translate(1419.85 1953.5) scale(1 1.055)" text-anchor="end">&#8722;</text><text transform="translate(1646.05 1953.5) scale(1 1.055)" text-anchor="middle">0</text><text transform="translate(1839.88 1953.5) scale(1 1.055)" text-anchor="middle">0.5</text><text transform="translate(2033.7 1953.5) scale(1 1.055)" text-anchor="middle">1</text><text transform="translate(1221.2 1911.2) scale(1 1.055)" text-anchor="end">0</text><text transform="translate(1221.2 1745.7) scale(1 1.055)" text-anchor="end">5</text><text transform="translate(1221.2 1580.2) scale(1 1.055)" text-anchor="end">10</text></g><rect x="1305.3" y="1509" width="314.2" height="197.3" fill="#fff" stroke="#000" stroke-width="2.2"/><path d="M1334.7 1565.8H1481" stroke="#0000ff" stroke-width="9.7"/><path d="M1334.7 1656.3H1481" stroke="#ff0000" stroke-width="9.7" stroke-dasharray="29.5 29"/><g font-family="'Liberation Serif', 'Times New Roman', serif" font-size="51.5" class="cm"><text x="1495.87" y="1579.5">Thy</text><text x="1493.95" y="1673.8">Sim</text></g><g font-family="'Liberation Serif', 'Times New Roman', serif" class="cm"><text x="1567.03" y="2011.3" font-size="51.5" font-style="italic">x</text><text x="1608.65" y="2011.3" font-size="53.5">(</text><text x="1625.02" y="2011.3" font-size="51.5">mm</text><text x="1705.68" y="2011.3" font-size="53.5">)</text></g><g font-family="'Liberation Serif', 'Times New Roman', serif" class="cm" transform="translate(1132.8 1748.45) rotate(-90)"><text x="-0.6" y="0" font-size="51.5" font-style="italic">S</text><text x="39.05" y="0" font-size="53.5">(</text><text x="58.43" y="0" font-size="51.5" font-style="italic">x</text><text x="85.29" y="0" font-size="51.5" font-style="italic">,</text><text x="104.24" y="0" font-size="51.5">0</text><text x="129.88" y="0" font-size="53.5">)</text></g><g font-family="'Liberation Serif', 'Times New Roman', serif" class="cm"><text x="1622.78" y="2072" font-size="53.5">(</text><text x="1639.25" y="2072" font-size="51.5">i</text><text x="1653.75" y="2072" font-size="53.5">)</text></g></svg></body></html>
